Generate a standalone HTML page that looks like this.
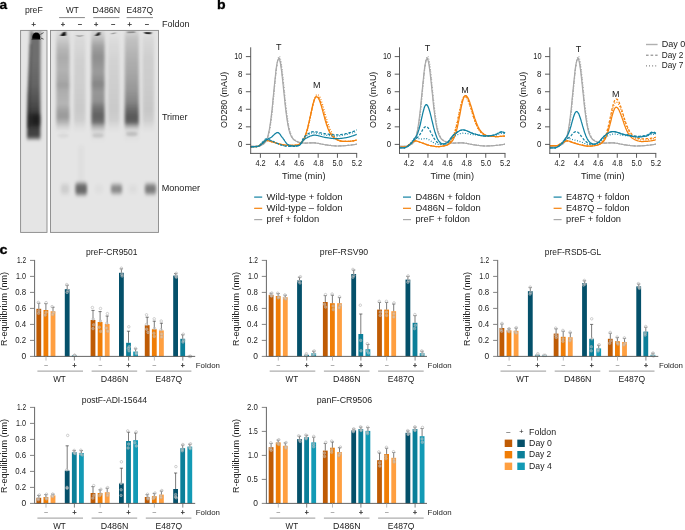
<!DOCTYPE html>
<html lang="en">
<head>
<meta charset="utf-8">
<title>Figure</title>
<style>
html,body{margin:0;padding:0;background:#fff;}
body{width:685px;height:530px;overflow:hidden;}
svg{display:block;font-family:'Liberation Sans', sans-serif;}
</style>
</head>
<body>
<svg width="685" height="530" viewBox="0 0 685 530">
<rect width="685" height="530" fill="#fff"/>
<text x="-0.5" y="9.1" font-size="13" font-weight="bold" textLength="7.6" lengthAdjust="spacingAndGlyphs" fill="#000" stroke="#000" stroke-width="0.3">a</text>
<text x="216.9" y="9.1" font-size="13" font-weight="bold" textLength="8.6" lengthAdjust="spacingAndGlyphs" fill="#000" stroke="#000" stroke-width="0.3">b</text>
<text x="-0.5" y="253.5" font-size="13" font-weight="bold" textLength="8.0" lengthAdjust="spacingAndGlyphs" fill="#000" stroke="#000" stroke-width="0.3">c</text>
<defs>
<filter id="bl" x="-40%" y="-5%" width="180%" height="110%"><feGaussianBlur stdDeviation="1.5 1.4"/></filter>
<filter id="bb" x="-50%" y="-50%" width="200%" height="200%"><feGaussianBlur stdDeviation="1.5 2.0"/></filter>
<filter id="bm" x="-50%" y="-80%" width="200%" height="260%"><feGaussianBlur stdDeviation="1.3 1.1"/></filter>
<filter id="bw" x="-40%" y="-60%" width="180%" height="220%"><feGaussianBlur stdDeviation="0.8 0.6"/></filter>
<filter id="bs" x="-40%" y="-60%" width="180%" height="220%"><feGaussianBlur stdDeviation="0.55"/></filter>
<clipPath id="cg1"><rect x="20.6" y="30.4" width="26.4" height="202"/></clipPath>
<clipPath id="cg2"><rect x="50.5" y="30.4" width="108" height="202"/></clipPath>
<linearGradient id="g_pre" x1="0" y1="0" x2="0" y2="1">
<stop offset="0.000" stop-color="#000" stop-opacity="0.50"/>
<stop offset="0.089" stop-color="#000" stop-opacity="0.52"/>
<stop offset="0.268" stop-color="#000" stop-opacity="0.52"/>
<stop offset="0.482" stop-color="#000" stop-opacity="0.56"/>
<stop offset="0.589" stop-color="#000" stop-opacity="0.62"/>
<stop offset="0.679" stop-color="#000" stop-opacity="0.68"/>
<stop offset="0.732" stop-color="#000" stop-opacity="0.74"/>
<stop offset="0.768" stop-color="#000" stop-opacity="0.82"/>
<stop offset="0.839" stop-color="#000" stop-opacity="0.82"/>
<stop offset="0.875" stop-color="#000" stop-opacity="0.74"/>
<stop offset="0.902" stop-color="#000" stop-opacity="0.72"/>
<stop offset="0.946" stop-color="#000" stop-opacity="0.70"/>
<stop offset="0.969" stop-color="#000" stop-opacity="0.40"/>
<stop offset="0.991" stop-color="#000" stop-opacity="0.00"/>
<stop offset="1.000" stop-color="#000" stop-opacity="0.00"/>
</linearGradient>
<linearGradient id="g_wtp" x1="0" y1="0" x2="0" y2="1">
<stop offset="0.000" stop-color="#000" stop-opacity="0.03"/>
<stop offset="0.071" stop-color="#000" stop-opacity="0.10"/>
<stop offset="0.161" stop-color="#000" stop-opacity="0.20"/>
<stop offset="0.241" stop-color="#000" stop-opacity="0.25"/>
<stop offset="0.357" stop-color="#000" stop-opacity="0.22"/>
<stop offset="0.446" stop-color="#000" stop-opacity="0.26"/>
<stop offset="0.491" stop-color="#000" stop-opacity="0.30"/>
<stop offset="0.545" stop-color="#000" stop-opacity="0.24"/>
<stop offset="0.661" stop-color="#000" stop-opacity="0.21"/>
<stop offset="0.723" stop-color="#000" stop-opacity="0.30"/>
<stop offset="0.777" stop-color="#000" stop-opacity="0.33"/>
<stop offset="0.821" stop-color="#000" stop-opacity="0.22"/>
<stop offset="0.866" stop-color="#000" stop-opacity="0.08"/>
<stop offset="0.911" stop-color="#000" stop-opacity="0.00"/>
<stop offset="1.000" stop-color="#000" stop-opacity="0.00"/>
</linearGradient>
<linearGradient id="g_wtm" x1="0" y1="0" x2="0" y2="1">
<stop offset="0.000" stop-color="#000" stop-opacity="0.00"/>
<stop offset="0.089" stop-color="#000" stop-opacity="0.05"/>
<stop offset="0.268" stop-color="#000" stop-opacity="0.09"/>
<stop offset="0.482" stop-color="#000" stop-opacity="0.10"/>
<stop offset="0.714" stop-color="#000" stop-opacity="0.12"/>
<stop offset="0.804" stop-color="#000" stop-opacity="0.10"/>
<stop offset="0.857" stop-color="#000" stop-opacity="0.04"/>
<stop offset="0.911" stop-color="#000" stop-opacity="0.00"/>
<stop offset="1.000" stop-color="#000" stop-opacity="0.00"/>
</linearGradient>
<linearGradient id="g_dp" x1="0" y1="0" x2="0" y2="1">
<stop offset="0.000" stop-color="#000" stop-opacity="0.05"/>
<stop offset="0.071" stop-color="#000" stop-opacity="0.16"/>
<stop offset="0.143" stop-color="#000" stop-opacity="0.30"/>
<stop offset="0.241" stop-color="#000" stop-opacity="0.38"/>
<stop offset="0.375" stop-color="#000" stop-opacity="0.32"/>
<stop offset="0.446" stop-color="#000" stop-opacity="0.38"/>
<stop offset="0.482" stop-color="#000" stop-opacity="0.42"/>
<stop offset="0.554" stop-color="#000" stop-opacity="0.34"/>
<stop offset="0.634" stop-color="#000" stop-opacity="0.36"/>
<stop offset="0.696" stop-color="#000" stop-opacity="0.50"/>
<stop offset="0.768" stop-color="#000" stop-opacity="0.58"/>
<stop offset="0.821" stop-color="#000" stop-opacity="0.52"/>
<stop offset="0.857" stop-color="#000" stop-opacity="0.26"/>
<stop offset="0.902" stop-color="#000" stop-opacity="0.06"/>
<stop offset="1.000" stop-color="#000" stop-opacity="0.00"/>
</linearGradient>
<linearGradient id="g_dm" x1="0" y1="0" x2="0" y2="1">
<stop offset="0.000" stop-color="#000" stop-opacity="0.00"/>
<stop offset="0.089" stop-color="#000" stop-opacity="0.04"/>
<stop offset="0.268" stop-color="#000" stop-opacity="0.08"/>
<stop offset="0.482" stop-color="#000" stop-opacity="0.10"/>
<stop offset="0.714" stop-color="#000" stop-opacity="0.12"/>
<stop offset="0.804" stop-color="#000" stop-opacity="0.10"/>
<stop offset="0.857" stop-color="#000" stop-opacity="0.04"/>
<stop offset="0.911" stop-color="#000" stop-opacity="0.00"/>
<stop offset="1.000" stop-color="#000" stop-opacity="0.00"/>
</linearGradient>
<linearGradient id="g_ep" x1="0" y1="0" x2="0" y2="1">
<stop offset="0.000" stop-color="#000" stop-opacity="0.05"/>
<stop offset="0.071" stop-color="#000" stop-opacity="0.15"/>
<stop offset="0.223" stop-color="#000" stop-opacity="0.22"/>
<stop offset="0.402" stop-color="#000" stop-opacity="0.28"/>
<stop offset="0.536" stop-color="#000" stop-opacity="0.34"/>
<stop offset="0.643" stop-color="#000" stop-opacity="0.42"/>
<stop offset="0.714" stop-color="#000" stop-opacity="0.54"/>
<stop offset="0.777" stop-color="#000" stop-opacity="0.62"/>
<stop offset="0.821" stop-color="#000" stop-opacity="0.58"/>
<stop offset="0.857" stop-color="#000" stop-opacity="0.26"/>
<stop offset="0.888" stop-color="#000" stop-opacity="0.06"/>
<stop offset="1.000" stop-color="#000" stop-opacity="0.00"/>
</linearGradient>
<linearGradient id="g_em" x1="0" y1="0" x2="0" y2="1">
<stop offset="0.000" stop-color="#000" stop-opacity="0.00"/>
<stop offset="0.089" stop-color="#000" stop-opacity="0.06"/>
<stop offset="0.268" stop-color="#000" stop-opacity="0.10"/>
<stop offset="0.482" stop-color="#000" stop-opacity="0.11"/>
<stop offset="0.714" stop-color="#000" stop-opacity="0.13"/>
<stop offset="0.804" stop-color="#000" stop-opacity="0.10"/>
<stop offset="0.857" stop-color="#000" stop-opacity="0.04"/>
<stop offset="0.911" stop-color="#000" stop-opacity="0.00"/>
<stop offset="1.000" stop-color="#000" stop-opacity="0.00"/>
</linearGradient>
<linearGradient id="g_bg" x1="0" y1="0" x2="0" y2="1">
<stop offset="0.000" stop-color="#000" stop-opacity="0.00"/>
<stop offset="0.450" stop-color="#000" stop-opacity="0.00"/>
<stop offset="0.620" stop-color="#000" stop-opacity="0.02"/>
<stop offset="1.000" stop-color="#000" stop-opacity="0.02"/>
</linearGradient>
</defs>
<rect x="20.6" y="30.4" width="26.4" height="202" fill="#e5e5e5"/>
<rect x="50.5" y="30.4" width="108" height="202" fill="#e5e5e5"/>
<g clip-path="url(#cg1)">
<path d="M30.2,30 L40.7,30 L40.4,90 L40.4,142 L26.9,142 L27.4,96 L28.6,70 Z" fill="url(#g_pre)" filter="url(#bl)"/>
<path d="M29.6,44 L31.8,44 L29.8,128 L27.1,128 Z" fill="#000" fill-opacity="0.2" filter="url(#bm)"/>
<rect x="32.5" y="115" width="8" height="10" fill="#000" fill-opacity="0.28" filter="url(#bb)"/>
<ellipse cx="36" cy="31.5" rx="4.5" ry="1.6" fill="#fff" fill-opacity="0.7" filter="url(#bm)"/>
<path d="M32.2,38.8 L32.4,36 L33.6,33.6 L35.6,32.6 L38,32.8 L39.6,34.4 L40.2,36.6 L40,38.9 Z" fill="#000" filter="url(#bs)"/>
<path d="M40.5,34.4 L43.6,32.6 M40.8,38 L43.6,39.2 M31.6,39.3 L40.6,39.3" stroke="#000" stroke-opacity=".75" stroke-width="0.8" fill="none" filter="url(#bs)"/>
</g>
<g clip-path="url(#cg2)">
<rect x="56.2" y="30" width="13.4" height="112" fill="url(#g_wtp)" filter="url(#bl)"/>
<rect x="73.8" y="30" width="11.6" height="112" fill="url(#g_wtm)" filter="url(#bl)"/>
<rect x="91.3" y="30" width="13.4" height="112" fill="url(#g_dp)" filter="url(#bl)"/>
<rect x="108.0" y="30" width="11.6" height="112" fill="url(#g_dm)" filter="url(#bl)"/>
<rect x="124.7" y="30" width="14.2" height="112" fill="url(#g_ep)" filter="url(#bl)"/>
<rect x="142.5" y="30" width="11.6" height="112" fill="url(#g_em)" filter="url(#bl)"/>
<ellipse cx="63.2" cy="135.6" rx="5.8" ry="2.3" fill="#000" fill-opacity="0.05" filter="url(#bm)"/>
<ellipse cx="98.0" cy="135.5" rx="5.8" ry="2.3" fill="#000" fill-opacity="0.1" filter="url(#bm)"/>
<ellipse cx="131.8" cy="134.0" rx="5.8" ry="2.3" fill="#000" fill-opacity="0.13" filter="url(#bm)"/>
<path d="M60.2,35.8 L63.2,32.2 L65.6,31.6 L66,35.6 L63,36 Z" fill="#000" fill-opacity=".95" filter="url(#bw)"/>
<path d="M76.6,35 L79,35.8 L83,35.2 L83.4,36 L79,36.8 L76.4,36 Z" fill="#000" fill-opacity=".4" filter="url(#bw)"/>
<path d="M95.0,35.8 L98.0,32.6 L100.2,32 L99.8,35 L97.2,36 Z" fill="#000" fill-opacity=".9" filter="url(#bw)"/>
<path d="M111,33.4 L115.5,32.2 L116,33.2 L111.6,34.6 Z" fill="#000" fill-opacity=".35" filter="url(#bw)"/>
<path d="M127.0,31.4 L135,31.2 L135.2,33 L127.2,33.2 Z" fill="#000" fill-opacity=".32" filter="url(#bw)"/>
<path d="M144.0,32.0 L151.6,32.2 L150.8,34.2 L145.2,34.0 Z" fill="#000" fill-opacity=".8" filter="url(#bw)"/>
<rect x="60.8" y="184.0" width="8.4" height="10.0" rx="2" fill="#000" fill-opacity="0.1" filter="url(#bb)"/>
<rect x="75.4" y="183.2" width="11.6" height="11.6" rx="2" fill="#000" fill-opacity="0.54" filter="url(#bb)"/>
<rect x="95.0" y="185.0" width="8.0" height="8.0" rx="2" fill="#000" fill-opacity="0.03" filter="url(#bb)"/>
<rect x="110.9" y="184.4" width="11.2" height="9.2" rx="2" fill="#000" fill-opacity="0.4" filter="url(#bb)"/>
<rect x="129.0" y="185.0" width="8.0" height="8.0" rx="2" fill="#000" fill-opacity="0.04" filter="url(#bb)"/>
<rect x="144.9" y="184.0" width="11.2" height="10.0" rx="2" fill="#000" fill-opacity="0.46" filter="url(#bb)"/>
<rect x="78.4" y="146" width="5.4" height="38" fill="#000" fill-opacity=".03" filter="url(#bb)"/>
</g>
<rect x="20.6" y="30.4" width="26.4" height="202" fill="none" stroke="#888" stroke-width="0.9"/>
<rect x="50.5" y="30.4" width="108" height="202" fill="none" stroke="#888" stroke-width="0.9"/>
<text x="33.8" y="13.1" font-size="8.5" text-anchor="middle" textLength="17.8" lengthAdjust="spacingAndGlyphs" fill="#222">preF</text>
<text x="72.3" y="13.1" font-size="8.6" text-anchor="middle" textLength="12.7" lengthAdjust="spacingAndGlyphs" fill="#222">WT</text>
<text x="106.4" y="13.1" font-size="8.6" text-anchor="middle" textLength="27.6" lengthAdjust="spacingAndGlyphs" fill="#222">D486N</text>
<text x="139.8" y="13.1" font-size="8.6" text-anchor="middle" textLength="26.6" lengthAdjust="spacingAndGlyphs" fill="#222">E487Q</text>
<line x1="59.10" y1="17.60" x2="84.90" y2="17.60" stroke="#555" stroke-width="0.7"/>
<line x1="93.30" y1="17.60" x2="119.40" y2="17.60" stroke="#555" stroke-width="0.7"/>
<line x1="126.60" y1="17.60" x2="153.00" y2="17.60" stroke="#555" stroke-width="0.7"/>
<text x="33.6" y="26.8" font-size="7.4" text-anchor="middle" fill="#222" stroke="#222" stroke-width="0.25">+</text>
<text x="62.8" y="26.8" font-size="7.4" text-anchor="middle" fill="#222" stroke="#222" stroke-width="0.25">+</text>
<text x="80.0" y="26.8" font-size="7.4" text-anchor="middle" fill="#222" stroke="#222" stroke-width="0.25">−</text>
<text x="96.2" y="26.8" font-size="7.4" text-anchor="middle" fill="#222" stroke="#222" stroke-width="0.25">+</text>
<text x="113.2" y="26.8" font-size="7.4" text-anchor="middle" fill="#222" stroke="#222" stroke-width="0.25">−</text>
<text x="129.6" y="26.8" font-size="7.4" text-anchor="middle" fill="#222" stroke="#222" stroke-width="0.25">+</text>
<text x="146.8" y="26.8" font-size="7.4" text-anchor="middle" fill="#222" stroke="#222" stroke-width="0.25">−</text>
<text x="162.0" y="27.0" font-size="9" textLength="27.6" lengthAdjust="spacingAndGlyphs" fill="#222">Foldon</text>
<text x="161.9" y="120.0" font-size="9.2" textLength="25.6" lengthAdjust="spacingAndGlyphs" fill="#222">Trimer</text>
<text x="161.7" y="191.2" font-size="9.2" textLength="38.4" lengthAdjust="spacingAndGlyphs" fill="#222">Monomer</text>
<path d="M250.8,146.3 L251.4,146.3 L252.1,146.3 L252.7,146.3 L253.3,146.3 L254.0,146.3 L254.6,146.3 L255.3,146.3 L255.9,146.2 L256.5,146.2 L257.2,146.2 L257.8,146.2 L258.5,146.1 L259.1,146.1 L259.8,145.9 L260.4,145.7 L261.0,145.4 L261.7,145.1 L262.3,144.7 L263.0,144.3 L263.6,143.8 L264.3,143.2 L264.9,142.5 L265.5,141.7 L266.2,140.6 L266.8,139.2 L267.5,137.4 L268.1,135.2 L268.7,132.4 L269.4,129.1 L270.0,125.1 L270.7,120.6 L271.3,115.4 L272.0,109.7 L272.6,103.5 L273.2,97.0 L273.9,90.4 L274.5,83.8 L275.2,77.5 L275.8,71.8 L276.4,66.9 L277.1,63.0 L277.7,60.3 L278.4,58.9 L279.0,58.9 L279.7,60.2 L280.3,62.8 L280.9,66.6 L281.6,71.4 L282.2,76.9 L282.9,82.9 L283.5,89.2 L284.2,95.5 L284.8,101.6 L285.4,107.4 L286.1,112.8 L286.7,117.6 L287.4,121.8 L288.0,125.4 L288.6,128.5 L289.3,131.1 L289.9,133.2 L290.6,134.9 L291.2,136.3 L291.9,137.4 L292.5,138.3 L293.1,139.1 L293.8,139.7 L294.4,140.2 L295.1,140.6 L295.7,141.0 L296.4,141.3 L297.0,141.6 L297.6,141.9 L298.3,142.1 L298.9,142.3 L299.6,142.5 L300.2,142.6 L300.8,142.8 L301.5,142.9 L302.1,142.9 L302.8,143.0 L303.4,143.0 L304.1,143.1 L304.7,143.1 L305.3,143.1 L306.0,143.1 L306.6,143.1 L307.3,143.0 L307.9,143.0 L308.5,143.0 L309.2,143.0 L309.8,142.9 L310.5,142.9 L311.1,142.9 L311.8,142.9 L312.4,142.9 L313.0,142.9 L313.7,142.9 L314.3,142.9 L315.0,142.9 L315.6,143.0 L316.3,143.1 L316.9,143.2 L317.5,143.3 L318.2,143.4 L318.8,143.5 L319.5,143.6 L320.1,143.8 L320.7,143.9 L321.4,144.0 L322.0,144.2 L322.7,144.3 L323.3,144.4 L324.0,144.5 L324.6,144.7 L325.2,144.8 L325.9,144.8 L326.5,144.9 L327.2,145.0 L327.8,145.1 L328.5,145.2 L329.1,145.3 L329.7,145.3 L330.4,145.4 L331.0,145.5 L331.7,145.6 L332.3,145.7 L332.9,145.7 L333.6,145.8 L334.2,145.8 L334.9,145.9 L335.5,145.9 L336.2,146.0 L336.8,146.0 L337.4,146.0 L338.1,146.0 L338.7,146.0 L339.4,145.9 L340.0,145.9 L340.6,145.9 L341.3,145.9 L341.9,145.8 L342.6,145.8 L343.2,145.7 L343.9,145.7 L344.5,145.7 L345.1,145.6 L345.8,145.6 L346.4,145.5 L347.1,145.5 L347.7,145.4 L348.4,145.3 L349.0,145.3 L349.6,145.2 L350.3,145.1 L350.9,145.0 L351.6,145.0 L352.2,144.9 L352.8,144.8 L353.5,144.7 L354.1,144.6 L354.8,144.5 L355.4,144.4 L356.1,144.2 L356.7,144.1" fill="none" stroke="#a9a9a9" stroke-width="1.15" stroke-linejoin="round"/>
<path d="M250.8,146.3 L251.4,146.3 L252.1,146.3 L252.7,146.3 L253.3,146.3 L254.0,146.3 L254.6,146.3 L255.3,146.3 L255.9,146.2 L256.5,146.2 L257.2,146.2 L257.8,146.2 L258.5,146.1 L259.1,146.1 L259.8,145.9 L260.4,145.7 L261.0,145.4 L261.7,145.1 L262.3,144.8 L263.0,144.4 L263.6,143.9 L264.3,143.4 L264.9,142.8 L265.5,142.1 L266.2,141.1 L266.8,139.8 L267.5,138.2 L268.1,136.2 L268.7,133.6 L269.4,130.5 L270.0,126.8 L270.7,122.5 L271.3,117.6 L272.0,112.1 L272.6,106.0 L273.2,99.6 L273.9,92.9 L274.5,86.3 L275.2,79.8 L275.8,73.7 L276.4,68.4 L277.1,64.0 L277.7,60.7 L278.4,58.6 L279.0,58.0 L279.7,58.7 L280.3,60.8 L280.9,64.1 L281.6,68.5 L282.2,73.8 L282.9,79.6 L283.5,85.9 L284.2,92.2 L284.8,98.5 L285.4,104.5 L286.1,110.1 L286.7,115.2 L287.4,119.7 L288.0,123.7 L288.6,127.0 L289.3,129.9 L289.9,132.2 L290.6,134.1 L291.2,135.7 L291.9,136.9 L292.5,137.9 L293.1,138.7 L293.8,139.4 L294.4,139.9 L295.1,140.4 L295.7,140.8 L296.4,141.2 L297.0,141.5 L297.6,141.7 L298.3,142.0 L298.9,142.2 L299.6,142.4 L300.2,142.5 L300.8,142.7 L301.5,142.8 L302.1,142.9 L302.8,142.9 L303.4,143.0 L304.1,143.0 L304.7,143.0 L305.3,143.1 L306.0,143.1 L306.6,143.0 L307.3,143.0 L307.9,143.0 L308.5,143.0 L309.2,142.9 L309.8,142.9 L310.5,142.9 L311.1,142.9 L311.8,142.9 L312.4,142.8 L313.0,142.9 L313.7,142.9 L314.3,142.9 L315.0,142.9 L315.6,143.0 L316.3,143.1 L316.9,143.2 L317.5,143.3 L318.2,143.4 L318.8,143.5 L319.5,143.6 L320.1,143.8 L320.7,143.9 L321.4,144.0 L322.0,144.2 L322.7,144.3 L323.3,144.4 L324.0,144.5 L324.6,144.7 L325.2,144.8 L325.9,144.8 L326.5,144.9 L327.2,145.0 L327.8,145.1 L328.5,145.2 L329.1,145.3 L329.7,145.3 L330.4,145.4 L331.0,145.5 L331.7,145.6 L332.3,145.7 L332.9,145.7 L333.6,145.8 L334.2,145.8 L334.9,145.9 L335.5,145.9 L336.2,146.0 L336.8,146.0 L337.4,146.0 L338.1,146.0 L338.7,146.0 L339.4,145.9 L340.0,145.9 L340.6,145.9 L341.3,145.9 L341.9,145.8 L342.6,145.8 L343.2,145.7 L343.9,145.7 L344.5,145.7 L345.1,145.6 L345.8,145.6 L346.4,145.5 L347.1,145.5 L347.7,145.4 L348.4,145.3 L349.0,145.3 L349.6,145.2 L350.3,145.1 L350.9,145.0 L351.6,145.0 L352.2,144.9 L352.8,144.8 L353.5,144.7 L354.1,144.6 L354.8,144.5 L355.4,144.4 L356.1,144.2 L356.7,144.1" fill="none" stroke="#a9a9a9" stroke-width="1.15" stroke-linejoin="round" stroke-dasharray="2.6 1.6"/>
<path d="M250.8,146.3 L251.4,146.3 L252.1,146.3 L252.7,146.3 L253.3,146.3 L254.0,146.3 L254.6,146.3 L255.3,146.3 L255.9,146.2 L256.5,146.2 L257.2,146.2 L257.8,146.2 L258.5,146.1 L259.1,146.1 L259.8,145.9 L260.4,145.7 L261.0,145.5 L261.7,145.2 L262.3,144.8 L263.0,144.4 L263.6,144.0 L264.3,143.5 L264.9,143.0 L265.5,142.4 L266.2,141.5 L266.8,140.4 L267.5,138.9 L268.1,137.0 L268.7,134.6 L269.4,131.7 L270.0,128.3 L270.7,124.1 L271.3,119.4 L272.0,114.0 L272.6,108.1 L273.2,101.7 L273.9,95.0 L274.5,88.1 L275.2,81.4 L275.8,75.0 L276.4,69.2 L277.1,64.2 L277.7,60.3 L278.4,57.6 L279.0,56.3 L279.7,56.5 L280.3,58.0 L280.9,60.8 L281.6,64.9 L282.2,69.8 L282.9,75.6 L283.5,81.8 L284.2,88.3 L284.8,94.7 L285.4,101.0 L286.1,106.9 L286.7,112.4 L287.4,117.3 L288.0,121.5 L288.6,125.2 L289.3,128.3 L289.9,130.9 L290.6,133.1 L291.2,134.8 L291.9,136.2 L292.5,137.4 L293.1,138.3 L293.8,139.0 L294.4,139.6 L295.1,140.1 L295.7,140.6 L296.4,140.9 L297.0,141.3 L297.6,141.6 L298.3,141.8 L298.9,142.1 L299.6,142.3 L300.2,142.4 L300.8,142.6 L301.5,142.7 L302.1,142.8 L302.8,142.9 L303.4,142.9 L304.1,143.0 L304.7,143.0 L305.3,143.0 L306.0,143.0 L306.6,143.0 L307.3,143.0 L307.9,143.0 L308.5,142.9 L309.2,142.9 L309.8,142.9 L310.5,142.9 L311.1,142.9 L311.8,142.8 L312.4,142.8 L313.0,142.8 L313.7,142.9 L314.3,142.9 L315.0,142.9 L315.6,143.0 L316.3,143.1 L316.9,143.2 L317.5,143.3 L318.2,143.4 L318.8,143.5 L319.5,143.6 L320.1,143.8 L320.7,143.9 L321.4,144.0 L322.0,144.2 L322.7,144.3 L323.3,144.4 L324.0,144.5 L324.6,144.7 L325.2,144.8 L325.9,144.8 L326.5,144.9 L327.2,145.0 L327.8,145.1 L328.5,145.2 L329.1,145.3 L329.7,145.3 L330.4,145.4 L331.0,145.5 L331.7,145.6 L332.3,145.7 L332.9,145.7 L333.6,145.8 L334.2,145.8 L334.9,145.9 L335.5,145.9 L336.2,146.0 L336.8,146.0 L337.4,146.0 L338.1,146.0 L338.7,146.0 L339.4,145.9 L340.0,145.9 L340.6,145.9 L341.3,145.9 L341.9,145.8 L342.6,145.8 L343.2,145.7 L343.9,145.7 L344.5,145.7 L345.1,145.6 L345.8,145.6 L346.4,145.5 L347.1,145.5 L347.7,145.4 L348.4,145.3 L349.0,145.3 L349.6,145.2 L350.3,145.1 L350.9,145.0 L351.6,145.0 L352.2,144.9 L352.8,144.8 L353.5,144.7 L354.1,144.6 L354.8,144.5 L355.4,144.4 L356.1,144.2 L356.7,144.1" fill="none" stroke="#a9a9a9" stroke-width="1.15" stroke-linejoin="round" stroke-dasharray="0.9 1.7"/>
<path d="M250.8,146.7 L251.4,146.7 L252.1,146.7 L252.7,146.7 L253.3,146.6 L254.0,146.6 L254.6,146.6 L255.3,146.6 L255.9,146.5 L256.5,146.5 L257.2,146.4 L257.8,146.4 L258.5,146.2 L259.1,145.8 L259.8,145.4 L260.4,144.9 L261.0,144.3 L261.7,143.8 L262.3,143.3 L263.0,142.8 L263.6,142.2 L264.3,141.6 L264.9,141.0 L265.5,140.6 L266.2,140.4 L266.8,140.5 L267.5,140.6 L268.1,140.7 L268.7,140.8 L269.4,141.0 L270.0,141.2 L270.7,141.4 L271.3,141.6 L272.0,141.8 L272.6,141.9 L273.2,142.1 L273.9,142.3 L274.5,142.5 L275.2,142.7 L275.8,142.9 L276.4,143.1 L277.1,143.3 L277.7,143.5 L278.4,143.6 L279.0,143.8 L279.7,144.0 L280.3,144.1 L280.9,144.3 L281.6,144.4 L282.2,144.5 L282.9,144.6 L283.5,144.8 L284.2,144.9 L284.8,145.0 L285.4,145.1 L286.1,145.2 L286.7,145.3 L287.4,145.4 L288.0,145.4 L288.6,145.4 L289.3,145.5 L289.9,145.4 L290.6,145.4 L291.2,145.4 L291.9,145.4 L292.5,145.4 L293.1,145.4 L293.8,145.4 L294.4,145.3 L295.1,145.3 L295.7,145.2 L296.4,145.1 L297.0,145.1 L297.6,144.9 L298.3,144.7 L298.9,144.4 L299.6,144.0 L300.2,143.6 L300.8,143.0 L301.5,142.4 L302.1,141.6 L302.8,140.7 L303.4,139.6 L304.1,138.4 L304.7,137.0 L305.3,135.4 L306.0,133.6 L306.6,131.5 L307.3,129.3 L307.9,126.8 L308.5,124.1 L309.2,121.3 L309.8,118.3 L310.5,115.3 L311.1,112.3 L311.8,109.3 L312.4,106.5 L313.0,104.0 L313.7,101.7 L314.3,99.8 L315.0,98.3 L315.6,97.3 L316.3,96.8 L316.9,96.8 L317.5,97.2 L318.2,97.9 L318.8,99.0 L319.5,100.4 L320.1,102.1 L320.7,104.0 L321.4,106.1 L322.0,108.4 L322.7,110.8 L323.3,113.2 L324.0,115.6 L324.6,117.9 L325.2,120.2 L325.9,122.4 L326.5,124.5 L327.2,126.4 L327.8,128.2 L328.5,129.8 L329.1,131.2 L329.7,132.5 L330.4,133.7 L331.0,134.7 L331.7,135.5 L332.3,136.3 L332.9,136.9 L333.6,137.5 L334.2,138.0 L334.9,138.5 L335.5,138.9 L336.2,139.3 L336.8,139.7 L337.4,140.0 L338.1,140.3 L338.7,140.5 L339.4,140.8 L340.0,140.9 L340.6,141.1 L341.3,141.2 L341.9,141.3 L342.6,141.3 L343.2,141.3 L343.9,141.3 L344.5,141.3 L345.1,141.3 L345.8,141.3 L346.4,141.3 L347.1,141.3 L347.7,141.3 L348.4,141.3 L349.0,141.3 L349.6,141.3 L350.3,141.3 L350.9,141.2 L351.6,141.1 L352.2,141.0 L352.8,140.9 L353.5,140.8 L354.1,140.7 L354.8,140.5 L355.4,140.3 L356.1,140.2 L356.7,140.0" fill="none" stroke="#f5820d" stroke-width="1.25" stroke-linejoin="round"/>
<path d="M250.8,146.7 L251.4,146.7 L252.1,146.7 L252.7,146.7 L253.3,146.6 L254.0,146.6 L254.6,146.6 L255.3,146.6 L255.9,146.5 L256.5,146.5 L257.2,146.4 L257.8,146.4 L258.5,146.2 L259.1,145.8 L259.8,145.4 L260.4,144.9 L261.0,144.3 L261.7,143.8 L262.3,143.3 L263.0,142.8 L263.6,142.2 L264.3,141.6 L264.9,141.0 L265.5,140.6 L266.2,140.4 L266.8,140.5 L267.5,140.6 L268.1,140.7 L268.7,140.8 L269.4,141.0 L270.0,141.2 L270.7,141.4 L271.3,141.6 L272.0,141.8 L272.6,141.9 L273.2,142.1 L273.9,142.3 L274.5,142.5 L275.2,142.7 L275.8,142.9 L276.4,143.1 L277.1,143.3 L277.7,143.5 L278.4,143.6 L279.0,143.8 L279.7,144.0 L280.3,144.1 L280.9,144.3 L281.6,144.4 L282.2,144.5 L282.9,144.6 L283.5,144.8 L284.2,144.9 L284.8,145.0 L285.4,145.1 L286.1,145.2 L286.7,145.3 L287.4,145.4 L288.0,145.4 L288.6,145.4 L289.3,145.5 L289.9,145.5 L290.6,145.4 L291.2,145.4 L291.9,145.4 L292.5,145.4 L293.1,145.4 L293.8,145.4 L294.4,145.3 L295.1,145.3 L295.7,145.2 L296.4,145.2 L297.0,145.1 L297.6,144.9 L298.3,144.7 L298.9,144.5 L299.6,144.1 L300.2,143.7 L300.8,143.1 L301.5,142.5 L302.1,141.8 L302.8,140.9 L303.4,139.9 L304.1,138.7 L304.7,137.3 L305.3,135.8 L306.0,134.0 L306.6,132.0 L307.3,129.8 L307.9,127.4 L308.5,124.7 L309.2,121.9 L309.8,118.9 L310.5,115.9 L311.1,112.9 L311.8,109.9 L312.4,107.0 L313.0,104.3 L313.7,101.9 L314.3,99.9 L315.0,98.3 L315.6,97.1 L316.3,96.5 L316.9,96.3 L317.5,96.6 L318.2,97.2 L318.8,98.1 L319.5,99.4 L320.1,100.9 L320.7,102.7 L321.4,104.7 L322.0,106.8 L322.7,109.1 L323.3,111.4 L324.0,113.8 L324.6,116.1 L325.2,118.4 L325.9,120.6 L326.5,122.8 L327.2,124.8 L327.8,126.6 L328.5,128.3 L329.1,129.9 L329.7,131.3 L330.4,132.6 L331.0,133.7 L331.7,134.6 L332.3,135.5 L332.9,136.2 L333.6,136.9 L334.2,137.5 L334.9,138.1 L335.5,138.6 L336.2,139.0 L336.8,139.4 L337.4,139.8 L338.1,140.1 L338.7,140.4 L339.4,140.7 L340.0,140.9 L340.6,141.0 L341.3,141.2 L341.9,141.2 L342.6,141.3 L343.2,141.3 L343.9,141.3 L344.5,141.3 L345.1,141.3 L345.8,141.3 L346.4,141.3 L347.1,141.3 L347.7,141.3 L348.4,141.3 L349.0,141.3 L349.6,141.3 L350.3,141.3 L350.9,141.2 L351.6,141.1 L352.2,141.0 L352.8,140.9 L353.5,140.8 L354.1,140.7 L354.8,140.5 L355.4,140.3 L356.1,140.2 L356.7,140.0" fill="none" stroke="#f5820d" stroke-width="1.25" stroke-linejoin="round" stroke-dasharray="2.6 1.6"/>
<path d="M250.8,146.7 L251.4,146.7 L252.1,146.7 L252.7,146.7 L253.3,146.6 L254.0,146.6 L254.6,146.6 L255.3,146.6 L255.9,146.5 L256.5,146.5 L257.2,146.4 L257.8,146.4 L258.5,146.2 L259.1,145.8 L259.8,145.4 L260.4,144.9 L261.0,144.3 L261.7,143.8 L262.3,143.3 L263.0,142.8 L263.6,142.2 L264.3,141.6 L264.9,141.0 L265.5,140.6 L266.2,140.4 L266.8,140.5 L267.5,140.6 L268.1,140.7 L268.7,140.8 L269.4,141.0 L270.0,141.2 L270.7,141.4 L271.3,141.6 L272.0,141.8 L272.6,141.9 L273.2,142.1 L273.9,142.3 L274.5,142.5 L275.2,142.7 L275.8,142.9 L276.4,143.1 L277.1,143.3 L277.7,143.5 L278.4,143.6 L279.0,143.8 L279.7,144.0 L280.3,144.1 L280.9,144.3 L281.6,144.4 L282.2,144.5 L282.9,144.6 L283.5,144.8 L284.2,144.9 L284.8,145.0 L285.4,145.1 L286.1,145.2 L286.7,145.3 L287.4,145.4 L288.0,145.4 L288.6,145.4 L289.3,145.5 L289.9,145.5 L290.6,145.4 L291.2,145.4 L291.9,145.4 L292.5,145.4 L293.1,145.4 L293.8,145.4 L294.4,145.3 L295.1,145.3 L295.7,145.3 L296.4,145.2 L297.0,145.1 L297.6,145.0 L298.3,144.8 L298.9,144.6 L299.6,144.2 L300.2,143.8 L300.8,143.4 L301.5,142.8 L302.1,142.1 L302.8,141.3 L303.4,140.4 L304.1,139.3 L304.7,138.1 L305.3,136.6 L306.0,135.0 L306.6,133.1 L307.3,131.0 L307.9,128.6 L308.5,126.0 L309.2,123.2 L309.8,120.3 L310.5,117.2 L311.1,114.0 L311.8,110.9 L312.4,107.8 L313.0,104.9 L313.7,102.1 L314.3,99.8 L315.0,97.7 L315.6,96.2 L316.3,95.1 L316.9,94.6 L317.5,94.5 L318.2,94.8 L318.8,95.5 L319.5,96.4 L320.1,97.6 L320.7,99.1 L321.4,100.9 L322.0,102.8 L322.7,104.9 L323.3,107.1 L324.0,109.4 L324.6,111.7 L325.2,114.0 L325.9,116.3 L326.5,118.6 L327.2,120.7 L327.8,122.8 L328.5,124.7 L329.1,126.5 L329.7,128.2 L330.4,129.7 L331.0,131.1 L331.7,132.3 L332.3,133.4 L332.9,134.4 L333.6,135.3 L334.2,136.2 L334.9,136.9 L335.5,137.6 L336.2,138.2 L336.8,138.7 L337.4,139.2 L338.1,139.7 L338.7,140.0 L339.4,140.4 L340.0,140.6 L340.6,140.8 L341.3,141.0 L341.9,141.1 L342.6,141.2 L343.2,141.2 L343.9,141.2 L344.5,141.3 L345.1,141.3 L345.8,141.3 L346.4,141.3 L347.1,141.3 L347.7,141.3 L348.4,141.3 L349.0,141.3 L349.6,141.3 L350.3,141.3 L350.9,141.2 L351.6,141.1 L352.2,141.0 L352.8,140.9 L353.5,140.8 L354.1,140.7 L354.8,140.5 L355.4,140.3 L356.1,140.2 L356.7,140.0" fill="none" stroke="#f5820d" stroke-width="1.25" stroke-linejoin="round" stroke-dasharray="0.9 1.7"/>
<path d="M250.8,146.6 L251.4,146.6 L252.1,146.6 L252.7,146.6 L253.3,146.6 L254.0,146.5 L254.6,146.5 L255.3,146.5 L255.9,146.4 L256.5,146.4 L257.2,146.4 L257.8,146.3 L258.5,146.1 L259.1,145.8 L259.8,145.4 L260.4,144.9 L261.0,144.5 L261.7,144.0 L262.3,143.5 L263.0,143.1 L263.6,142.5 L264.3,142.0 L264.9,141.4 L265.5,140.8 L266.2,140.3 L266.8,139.8 L267.5,139.4 L268.1,139.0 L268.7,138.6 L269.4,138.3 L270.0,137.9 L270.7,137.6 L271.3,137.2 L272.0,136.7 L272.6,136.1 L273.2,135.5 L273.9,134.9 L274.5,134.3 L275.2,133.7 L275.8,133.3 L276.4,132.9 L277.1,132.6 L277.7,132.5 L278.4,132.7 L279.0,133.2 L279.7,133.9 L280.3,134.7 L280.9,135.6 L281.6,136.6 L282.2,137.4 L282.9,138.2 L283.5,139.1 L284.2,140.0 L284.8,141.0 L285.4,141.9 L286.1,142.8 L286.7,143.6 L287.4,144.2 L288.0,144.7 L288.6,144.9 L289.3,145.2 L289.9,145.3 L290.6,145.5 L291.2,145.7 L291.9,145.8 L292.5,145.9 L293.1,145.9 L293.8,146.0 L294.4,146.0 L295.1,146.0 L295.7,145.9 L296.4,145.9 L297.0,145.8 L297.6,145.7 L298.3,145.6 L298.9,145.5 L299.6,145.2 L300.2,144.6 L300.8,143.9 L301.5,143.1 L302.1,142.1 L302.8,141.2 L303.4,140.4 L304.1,139.7 L304.7,139.1 L305.3,138.7 L306.0,138.3 L306.6,138.0 L307.3,137.6 L307.9,137.2 L308.5,136.9 L309.2,136.6 L309.8,136.3 L310.5,136.0 L311.1,135.8 L311.8,135.6 L312.4,135.4 L313.0,135.3 L313.7,135.2 L314.3,135.2 L315.0,135.2 L315.6,135.2 L316.3,135.3 L316.9,135.4 L317.5,135.5 L318.2,135.7 L318.8,135.8 L319.5,136.0 L320.1,136.2 L320.7,136.3 L321.4,136.5 L322.0,136.7 L322.7,136.9 L323.3,137.0 L324.0,137.2 L324.6,137.3 L325.2,137.4 L325.9,137.6 L326.5,137.6 L327.2,137.7 L327.8,137.8 L328.5,137.9 L329.1,138.0 L329.7,138.1 L330.4,138.2 L331.0,138.3 L331.7,138.4 L332.3,138.4 L332.9,138.5 L333.6,138.6 L334.2,138.6 L334.9,138.7 L335.5,138.7 L336.2,138.7 L336.8,138.7 L337.4,138.7 L338.1,138.6 L338.7,138.6 L339.4,138.6 L340.0,138.5 L340.6,138.4 L341.3,138.4 L341.9,138.3 L342.6,138.2 L343.2,138.1 L343.9,138.0 L344.5,137.9 L345.1,137.8 L345.8,137.7 L346.4,137.6 L347.1,137.5 L347.7,137.3 L348.4,137.2 L349.0,137.0 L349.6,136.8 L350.3,136.6 L350.9,136.5 L351.6,136.2 L352.2,136.0 L352.8,135.8 L353.5,135.6 L354.1,135.3 L354.8,135.1 L355.4,134.8 L356.1,134.6 L356.7,134.3" fill="none" stroke="#1282a2" stroke-width="1.25" stroke-linejoin="round"/>
<path d="M250.8,146.9 L251.4,146.9 L252.1,146.8 L252.7,146.8 L253.3,146.8 L254.0,146.8 L254.6,146.8 L255.3,146.7 L255.9,146.7 L256.5,146.7 L257.2,146.6 L257.8,146.5 L258.5,146.2 L259.1,145.7 L259.8,145.1 L260.4,144.3 L261.0,143.6 L261.7,142.8 L262.3,142.2 L263.0,141.6 L263.6,140.9 L264.3,140.2 L264.9,139.5 L265.5,139.1 L266.2,139.0 L266.8,139.0 L267.5,139.1 L268.1,139.3 L268.7,139.5 L269.4,139.8 L270.0,140.1 L270.7,140.3 L271.3,140.6 L272.0,140.9 L272.6,141.1 L273.2,141.4 L273.9,141.7 L274.5,142.0 L275.2,142.4 L275.8,142.7 L276.4,143.0 L277.1,143.3 L277.7,143.6 L278.4,143.9 L279.0,144.2 L279.7,144.4 L280.3,144.6 L280.9,144.8 L281.6,145.1 L282.2,145.3 L282.9,145.5 L283.5,145.7 L284.2,145.8 L284.8,146.0 L285.4,146.1 L286.1,146.1 L286.7,146.2 L287.4,146.2 L288.0,146.2 L288.6,146.2 L289.3,146.3 L289.9,146.3 L290.6,146.3 L291.2,146.3 L291.9,146.3 L292.5,146.3 L293.1,146.3 L293.8,146.3 L294.4,146.3 L295.1,146.3 L295.7,146.2 L296.4,146.1 L297.0,146.0 L297.6,145.8 L298.3,145.6 L298.9,145.5 L299.6,145.0 L300.2,144.3 L300.8,143.2 L301.5,142.0 L302.1,140.7 L302.8,139.4 L303.4,138.2 L304.1,137.2 L304.7,136.5 L305.3,136.0 L306.0,135.4 L306.6,134.9 L307.3,134.4 L307.9,133.9 L308.5,133.5 L309.2,133.1 L309.8,132.7 L310.5,132.4 L311.1,132.1 L311.8,131.9 L312.4,131.8 L313.0,131.7 L313.7,131.7 L314.3,131.7 L315.0,131.7 L315.6,131.8 L316.3,131.9 L316.9,132.0 L317.5,132.1 L318.2,132.2 L318.8,132.4 L319.5,132.5 L320.1,132.7 L320.7,132.8 L321.4,133.0 L322.0,133.1 L322.7,133.3 L323.3,133.4 L324.0,133.6 L324.6,133.7 L325.2,133.8 L325.9,133.9 L326.5,133.9 L327.2,134.0 L327.8,134.1 L328.5,134.2 L329.1,134.3 L329.7,134.4 L330.4,134.5 L331.0,134.5 L331.7,134.6 L332.3,134.7 L332.9,134.7 L333.6,134.8 L334.2,134.8 L334.9,134.9 L335.5,134.9 L336.2,134.9 L336.8,134.9 L337.4,134.9 L338.1,134.9 L338.7,134.8 L339.4,134.8 L340.0,134.7 L340.6,134.6 L341.3,134.5 L341.9,134.4 L342.6,134.3 L343.2,134.2 L343.9,134.1 L344.5,134.0 L345.1,133.9 L345.8,133.7 L346.4,133.6 L347.1,133.5 L347.7,133.3 L348.4,133.1 L349.0,132.9 L349.6,132.7 L350.3,132.5 L350.9,132.3 L351.6,132.1 L352.2,131.8 L352.8,131.6 L353.5,131.3 L354.1,131.1 L354.8,130.8 L355.4,130.5 L356.1,130.2 L356.7,129.9" fill="none" stroke="#1282a2" stroke-width="1.25" stroke-linejoin="round" stroke-dasharray="2.6 1.6"/>
<path d="M250.8,147.0 L251.4,147.0 L252.1,147.0 L252.7,147.0 L253.3,147.0 L254.0,147.0 L254.6,146.9 L255.3,146.9 L255.9,146.9 L256.5,146.8 L257.2,146.8 L257.8,146.7 L258.5,146.4 L259.1,146.0 L259.8,145.3 L260.4,144.7 L261.0,143.9 L261.7,143.3 L262.3,142.6 L263.0,142.0 L263.6,141.3 L264.3,140.6 L264.9,139.9 L265.5,139.5 L266.2,139.3 L266.8,139.3 L267.5,139.5 L268.1,139.6 L268.7,139.8 L269.4,140.1 L270.0,140.3 L270.7,140.6 L271.3,140.8 L272.0,141.1 L272.6,141.3 L273.2,141.6 L273.9,141.9 L274.5,142.1 L275.2,142.5 L275.8,142.8 L276.4,143.1 L277.1,143.4 L277.7,143.7 L278.4,143.9 L279.0,144.2 L279.7,144.4 L280.3,144.6 L280.9,144.8 L281.6,145.0 L282.2,145.3 L282.9,145.5 L283.5,145.7 L284.2,145.8 L284.8,146.0 L285.4,146.1 L286.1,146.1 L286.7,146.2 L287.4,146.2 L288.0,146.2 L288.6,146.2 L289.3,146.3 L289.9,146.3 L290.6,146.3 L291.2,146.3 L291.9,146.3 L292.5,146.3 L293.1,146.3 L293.8,146.3 L294.4,146.3 L295.1,146.3 L295.7,146.2 L296.4,146.1 L297.0,146.0 L297.6,145.8 L298.3,145.6 L298.9,145.5 L299.6,145.1 L300.2,144.4 L300.8,143.4 L301.5,142.3 L302.1,141.2 L302.8,140.0 L303.4,138.9 L304.1,138.0 L304.7,137.4 L305.3,136.9 L306.0,136.4 L306.6,135.9 L307.3,135.4 L307.9,135.0 L308.5,134.5 L309.2,134.1 L309.8,133.8 L310.5,133.5 L311.1,133.2 L311.8,133.0 L312.4,132.9 L313.0,132.8 L313.7,132.8 L314.3,132.8 L315.0,132.9 L315.6,133.0 L316.3,133.1 L316.9,133.2 L317.5,133.3 L318.2,133.5 L318.8,133.6 L319.5,133.8 L320.1,133.9 L320.7,134.1 L321.4,134.3 L322.0,134.4 L322.7,134.6 L323.3,134.7 L324.0,134.9 L324.6,135.0 L325.2,135.1 L325.9,135.2 L326.5,135.3 L327.2,135.3 L327.8,135.4 L328.5,135.5 L329.1,135.6 L329.7,135.6 L330.4,135.7 L331.0,135.8 L331.7,135.8 L332.3,135.9 L332.9,135.9 L333.6,136.0 L334.2,136.0 L334.9,136.0 L335.5,136.0 L336.2,136.1 L336.8,136.1 L337.4,136.0 L338.1,136.0 L338.7,135.9 L339.4,135.8 L340.0,135.8 L340.6,135.6 L341.3,135.5 L341.9,135.4 L342.6,135.3 L343.2,135.1 L343.9,135.0 L344.5,134.9 L345.1,134.7 L345.8,134.6 L346.4,134.5 L347.1,134.3 L347.7,134.2 L348.4,134.0 L349.0,133.8 L349.6,133.6 L350.3,133.5 L350.9,133.3 L351.6,133.1 L352.2,132.9 L352.8,132.6 L353.5,132.4 L354.1,132.2 L354.8,132.0 L355.4,131.7 L356.1,131.5 L356.7,131.2" fill="none" stroke="#1282a2" stroke-width="1.25" stroke-linejoin="round" stroke-dasharray="0.9 1.7"/>
<line x1="250.70" y1="47.30" x2="250.70" y2="153.80" stroke="#4a4a4a" stroke-width="0.9"/>
<line x1="250.25" y1="153.40" x2="357.15" y2="153.40" stroke="#4a4a4a" stroke-width="0.9"/>
<line x1="245.90" y1="144.40" x2="250.70" y2="144.40" stroke="#4a4a4a" stroke-width="0.9"/>
<text x="242.4" y="146.7" font-size="8.2" text-anchor="end" textLength="4.4" lengthAdjust="spacingAndGlyphs" fill="#222">0</text>
<line x1="245.90" y1="126.84" x2="250.70" y2="126.84" stroke="#4a4a4a" stroke-width="0.9"/>
<text x="242.4" y="129.1" font-size="8.2" text-anchor="end" textLength="4.4" lengthAdjust="spacingAndGlyphs" fill="#222">2</text>
<line x1="245.90" y1="109.28" x2="250.70" y2="109.28" stroke="#4a4a4a" stroke-width="0.9"/>
<text x="242.4" y="111.6" font-size="8.2" text-anchor="end" textLength="4.4" lengthAdjust="spacingAndGlyphs" fill="#222">4</text>
<line x1="245.90" y1="91.72" x2="250.70" y2="91.72" stroke="#4a4a4a" stroke-width="0.9"/>
<text x="242.4" y="94.0" font-size="8.2" text-anchor="end" textLength="4.4" lengthAdjust="spacingAndGlyphs" fill="#222">6</text>
<line x1="245.90" y1="74.16" x2="250.70" y2="74.16" stroke="#4a4a4a" stroke-width="0.9"/>
<text x="242.4" y="76.5" font-size="8.2" text-anchor="end" textLength="4.4" lengthAdjust="spacingAndGlyphs" fill="#222">8</text>
<line x1="245.90" y1="56.60" x2="250.70" y2="56.60" stroke="#4a4a4a" stroke-width="0.9"/>
<text x="242.4" y="58.9" font-size="8.2" text-anchor="end" textLength="8.2" lengthAdjust="spacingAndGlyphs" fill="#222">10</text>
<line x1="260.40" y1="153.40" x2="260.40" y2="157.80" stroke="#4a4a4a" stroke-width="0.9"/>
<text x="260.6" y="166.4" font-size="8.6" text-anchor="middle" textLength="10.3" lengthAdjust="spacingAndGlyphs" fill="#222">4.2</text>
<line x1="279.66" y1="153.40" x2="279.66" y2="157.80" stroke="#4a4a4a" stroke-width="0.9"/>
<text x="279.9" y="166.4" font-size="8.6" text-anchor="middle" textLength="10.3" lengthAdjust="spacingAndGlyphs" fill="#222">4.4</text>
<line x1="298.92" y1="153.40" x2="298.92" y2="157.80" stroke="#4a4a4a" stroke-width="0.9"/>
<text x="299.1" y="166.4" font-size="8.6" text-anchor="middle" textLength="10.3" lengthAdjust="spacingAndGlyphs" fill="#222">4.6</text>
<line x1="318.18" y1="153.40" x2="318.18" y2="157.80" stroke="#4a4a4a" stroke-width="0.9"/>
<text x="318.4" y="166.4" font-size="8.6" text-anchor="middle" textLength="10.3" lengthAdjust="spacingAndGlyphs" fill="#222">4.8</text>
<line x1="337.44" y1="153.40" x2="337.44" y2="157.80" stroke="#4a4a4a" stroke-width="0.9"/>
<text x="337.6" y="166.4" font-size="8.6" text-anchor="middle" textLength="10.3" lengthAdjust="spacingAndGlyphs" fill="#222">5.0</text>
<line x1="356.70" y1="153.40" x2="356.70" y2="157.80" stroke="#4a4a4a" stroke-width="0.9"/>
<text x="356.9" y="166.4" font-size="8.6" text-anchor="middle" textLength="10.3" lengthAdjust="spacingAndGlyphs" fill="#222">5.2</text>
<text x="303.7" y="178.8" font-size="9" text-anchor="middle" textLength="43.6" lengthAdjust="spacingAndGlyphs" fill="#222">Time (min)</text>
<text x="226.8" y="99.8" font-size="9" text-anchor="middle" textLength="56.2" lengthAdjust="spacingAndGlyphs" transform="rotate(-90 226.8 99.8)" fill="#222">OD280 (mAU)</text>
<text x="278.7" y="49.9" font-size="9" text-anchor="middle" fill="#222">T</text>
<text x="316.7" y="88.2" font-size="9" text-anchor="middle" fill="#222">M</text>
<line x1="254.20" y1="197.10" x2="262.20" y2="197.10" stroke="#1282a2" stroke-width="1.2"/>
<text x="266.6" y="199.7" font-size="9.3" textLength="76.0" lengthAdjust="spacingAndGlyphs" fill="#222">Wild-type + foldon</text>
<line x1="254.20" y1="208.30" x2="262.20" y2="208.30" stroke="#f5820d" stroke-width="1.2"/>
<text x="266.6" y="210.9" font-size="9.3" textLength="76.0" lengthAdjust="spacingAndGlyphs" fill="#222">Wild-type – foldon</text>
<line x1="254.20" y1="219.60" x2="262.20" y2="219.60" stroke="#a9a9a9" stroke-width="1.2"/>
<text x="266.6" y="222.2" font-size="9.3" textLength="52.6" lengthAdjust="spacingAndGlyphs" fill="#222">pref + foldon</text>
<path d="M399.1,146.3 L399.7,146.3 L400.4,146.3 L401.0,146.3 L401.6,146.3 L402.3,146.3 L402.9,146.3 L403.6,146.3 L404.2,146.2 L404.8,146.2 L405.5,146.2 L406.1,146.2 L406.8,146.1 L407.4,146.1 L408.1,145.9 L408.7,145.7 L409.3,145.4 L410.0,145.1 L410.6,144.7 L411.3,144.3 L411.9,143.8 L412.6,143.2 L413.2,142.5 L413.8,141.7 L414.5,140.6 L415.1,139.2 L415.8,137.4 L416.4,135.2 L417.0,132.4 L417.7,129.1 L418.3,125.1 L419.0,120.6 L419.6,115.4 L420.3,109.7 L420.9,103.5 L421.5,97.0 L422.2,90.4 L422.8,83.8 L423.5,77.5 L424.1,71.8 L424.7,66.9 L425.4,63.0 L426.0,60.3 L426.7,58.9 L427.3,58.9 L428.0,60.2 L428.6,62.8 L429.2,66.6 L429.9,71.4 L430.5,76.9 L431.2,82.9 L431.8,89.2 L432.5,95.5 L433.1,101.6 L433.7,107.4 L434.4,112.8 L435.0,117.6 L435.7,121.8 L436.3,125.4 L436.9,128.5 L437.6,131.1 L438.2,133.2 L438.9,134.9 L439.5,136.3 L440.2,137.4 L440.8,138.3 L441.4,139.1 L442.1,139.7 L442.7,140.2 L443.4,140.6 L444.0,141.0 L444.7,141.3 L445.3,141.6 L445.9,141.9 L446.6,142.1 L447.2,142.3 L447.9,142.5 L448.5,142.6 L449.1,142.8 L449.8,142.9 L450.4,142.9 L451.1,143.0 L451.7,143.0 L452.4,143.1 L453.0,143.1 L453.6,143.1 L454.3,143.1 L454.9,143.1 L455.6,143.0 L456.2,143.0 L456.8,143.0 L457.5,143.0 L458.1,142.9 L458.8,142.9 L459.4,142.9 L460.1,142.9 L460.7,142.9 L461.3,142.9 L462.0,142.9 L462.6,142.9 L463.3,142.9 L463.9,143.0 L464.6,143.1 L465.2,143.2 L465.8,143.3 L466.5,143.4 L467.1,143.5 L467.8,143.6 L468.4,143.8 L469.0,143.9 L469.7,144.0 L470.3,144.2 L471.0,144.3 L471.6,144.4 L472.3,144.5 L472.9,144.7 L473.5,144.8 L474.2,144.8 L474.8,144.9 L475.5,145.0 L476.1,145.1 L476.8,145.2 L477.4,145.3 L478.0,145.3 L478.7,145.4 L479.3,145.5 L480.0,145.6 L480.6,145.7 L481.2,145.7 L481.9,145.8 L482.5,145.8 L483.2,145.9 L483.8,145.9 L484.5,146.0 L485.1,146.0 L485.7,146.0 L486.4,146.0 L487.0,146.0 L487.7,145.9 L488.3,145.9 L488.9,145.9 L489.6,145.9 L490.2,145.8 L490.9,145.8 L491.5,145.7 L492.2,145.7 L492.8,145.7 L493.4,145.6 L494.1,145.6 L494.7,145.5 L495.4,145.5 L496.0,145.4 L496.7,145.3 L497.3,145.3 L497.9,145.2 L498.6,145.1 L499.2,145.0 L499.9,145.0 L500.5,144.9 L501.1,144.8 L501.8,144.7 L502.4,144.6 L503.1,144.5 L503.7,144.4 L504.4,144.2 L505.0,144.1" fill="none" stroke="#a9a9a9" stroke-width="1.15" stroke-linejoin="round"/>
<path d="M399.1,146.3 L399.7,146.3 L400.4,146.3 L401.0,146.3 L401.6,146.3 L402.3,146.3 L402.9,146.3 L403.6,146.3 L404.2,146.2 L404.8,146.2 L405.5,146.2 L406.1,146.2 L406.8,146.1 L407.4,146.1 L408.1,145.9 L408.7,145.7 L409.3,145.4 L410.0,145.1 L410.6,144.8 L411.3,144.4 L411.9,143.9 L412.6,143.4 L413.2,142.8 L413.8,142.1 L414.5,141.1 L415.1,139.8 L415.8,138.2 L416.4,136.2 L417.0,133.6 L417.7,130.5 L418.3,126.8 L419.0,122.5 L419.6,117.6 L420.3,112.1 L420.9,106.0 L421.5,99.6 L422.2,92.9 L422.8,86.3 L423.5,79.8 L424.1,73.7 L424.7,68.4 L425.4,64.0 L426.0,60.7 L426.7,58.6 L427.3,58.0 L428.0,58.7 L428.6,60.8 L429.2,64.1 L429.9,68.5 L430.5,73.8 L431.2,79.6 L431.8,85.9 L432.5,92.2 L433.1,98.5 L433.7,104.5 L434.4,110.1 L435.0,115.2 L435.7,119.7 L436.3,123.7 L436.9,127.0 L437.6,129.9 L438.2,132.2 L438.9,134.1 L439.5,135.7 L440.2,136.9 L440.8,137.9 L441.4,138.7 L442.1,139.4 L442.7,139.9 L443.4,140.4 L444.0,140.8 L444.7,141.2 L445.3,141.5 L445.9,141.7 L446.6,142.0 L447.2,142.2 L447.9,142.4 L448.5,142.5 L449.1,142.7 L449.8,142.8 L450.4,142.9 L451.1,142.9 L451.7,143.0 L452.4,143.0 L453.0,143.0 L453.6,143.1 L454.3,143.1 L454.9,143.0 L455.6,143.0 L456.2,143.0 L456.8,143.0 L457.5,142.9 L458.1,142.9 L458.8,142.9 L459.4,142.9 L460.1,142.9 L460.7,142.8 L461.3,142.9 L462.0,142.9 L462.6,142.9 L463.3,142.9 L463.9,143.0 L464.6,143.1 L465.2,143.2 L465.8,143.3 L466.5,143.4 L467.1,143.5 L467.8,143.6 L468.4,143.8 L469.0,143.9 L469.7,144.0 L470.3,144.2 L471.0,144.3 L471.6,144.4 L472.3,144.5 L472.9,144.7 L473.5,144.8 L474.2,144.8 L474.8,144.9 L475.5,145.0 L476.1,145.1 L476.8,145.2 L477.4,145.3 L478.0,145.3 L478.7,145.4 L479.3,145.5 L480.0,145.6 L480.6,145.7 L481.2,145.7 L481.9,145.8 L482.5,145.8 L483.2,145.9 L483.8,145.9 L484.5,146.0 L485.1,146.0 L485.7,146.0 L486.4,146.0 L487.0,146.0 L487.7,145.9 L488.3,145.9 L488.9,145.9 L489.6,145.9 L490.2,145.8 L490.9,145.8 L491.5,145.7 L492.2,145.7 L492.8,145.7 L493.4,145.6 L494.1,145.6 L494.7,145.5 L495.4,145.5 L496.0,145.4 L496.7,145.3 L497.3,145.3 L497.9,145.2 L498.6,145.1 L499.2,145.0 L499.9,145.0 L500.5,144.9 L501.1,144.8 L501.8,144.7 L502.4,144.6 L503.1,144.5 L503.7,144.4 L504.4,144.2 L505.0,144.1" fill="none" stroke="#a9a9a9" stroke-width="1.15" stroke-linejoin="round" stroke-dasharray="2.6 1.6"/>
<path d="M399.1,146.3 L399.7,146.3 L400.4,146.3 L401.0,146.3 L401.6,146.3 L402.3,146.3 L402.9,146.3 L403.6,146.3 L404.2,146.2 L404.8,146.2 L405.5,146.2 L406.1,146.2 L406.8,146.1 L407.4,146.1 L408.1,145.9 L408.7,145.7 L409.3,145.5 L410.0,145.2 L410.6,144.8 L411.3,144.4 L411.9,144.0 L412.6,143.5 L413.2,143.0 L413.8,142.4 L414.5,141.5 L415.1,140.4 L415.8,138.9 L416.4,137.0 L417.0,134.6 L417.7,131.7 L418.3,128.3 L419.0,124.1 L419.6,119.4 L420.3,114.0 L420.9,108.1 L421.5,101.7 L422.2,95.0 L422.8,88.1 L423.5,81.4 L424.1,75.0 L424.7,69.2 L425.4,64.2 L426.0,60.3 L426.7,57.6 L427.3,56.3 L428.0,56.5 L428.6,58.0 L429.2,60.8 L429.9,64.9 L430.5,69.8 L431.2,75.6 L431.8,81.8 L432.5,88.3 L433.1,94.7 L433.7,101.0 L434.4,106.9 L435.0,112.4 L435.7,117.3 L436.3,121.5 L436.9,125.2 L437.6,128.3 L438.2,130.9 L438.9,133.1 L439.5,134.8 L440.2,136.2 L440.8,137.4 L441.4,138.3 L442.1,139.0 L442.7,139.6 L443.4,140.1 L444.0,140.6 L444.7,140.9 L445.3,141.3 L445.9,141.6 L446.6,141.8 L447.2,142.1 L447.9,142.3 L448.5,142.4 L449.1,142.6 L449.8,142.7 L450.4,142.8 L451.1,142.9 L451.7,142.9 L452.4,143.0 L453.0,143.0 L453.6,143.0 L454.3,143.0 L454.9,143.0 L455.6,143.0 L456.2,143.0 L456.8,142.9 L457.5,142.9 L458.1,142.9 L458.8,142.9 L459.4,142.9 L460.1,142.8 L460.7,142.8 L461.3,142.8 L462.0,142.9 L462.6,142.9 L463.3,142.9 L463.9,143.0 L464.6,143.1 L465.2,143.2 L465.8,143.3 L466.5,143.4 L467.1,143.5 L467.8,143.6 L468.4,143.8 L469.0,143.9 L469.7,144.0 L470.3,144.2 L471.0,144.3 L471.6,144.4 L472.3,144.5 L472.9,144.7 L473.5,144.8 L474.2,144.8 L474.8,144.9 L475.5,145.0 L476.1,145.1 L476.8,145.2 L477.4,145.3 L478.0,145.3 L478.7,145.4 L479.3,145.5 L480.0,145.6 L480.6,145.7 L481.2,145.7 L481.9,145.8 L482.5,145.8 L483.2,145.9 L483.8,145.9 L484.5,146.0 L485.1,146.0 L485.7,146.0 L486.4,146.0 L487.0,146.0 L487.7,145.9 L488.3,145.9 L488.9,145.9 L489.6,145.9 L490.2,145.8 L490.9,145.8 L491.5,145.7 L492.2,145.7 L492.8,145.7 L493.4,145.6 L494.1,145.6 L494.7,145.5 L495.4,145.5 L496.0,145.4 L496.7,145.3 L497.3,145.3 L497.9,145.2 L498.6,145.1 L499.2,145.0 L499.9,145.0 L500.5,144.9 L501.1,144.8 L501.8,144.7 L502.4,144.6 L503.1,144.5 L503.7,144.4 L504.4,144.2 L505.0,144.1" fill="none" stroke="#a9a9a9" stroke-width="1.15" stroke-linejoin="round" stroke-dasharray="0.9 1.7"/>
<path d="M399.1,147.3 L399.7,147.3 L400.4,147.3 L401.0,147.3 L401.6,147.2 L402.3,147.2 L402.9,147.1 L403.6,147.1 L404.2,147.0 L404.8,147.0 L405.5,146.9 L406.1,146.8 L406.8,146.5 L407.4,146.1 L408.1,145.6 L408.7,145.1 L409.3,144.5 L410.0,144.0 L410.6,143.5 L411.3,143.1 L411.9,142.6 L412.6,142.2 L413.2,141.7 L413.8,141.4 L414.5,141.1 L415.1,140.9 L415.8,140.9 L416.4,141.0 L417.0,141.1 L417.7,141.3 L418.3,141.5 L419.0,141.8 L419.6,142.1 L420.3,142.3 L420.9,142.5 L421.5,142.7 L422.2,143.0 L422.8,143.2 L423.5,143.4 L424.1,143.6 L424.7,143.9 L425.4,144.1 L426.0,144.3 L426.7,144.6 L427.3,144.8 L428.0,145.0 L428.6,145.1 L429.2,145.3 L429.9,145.5 L430.5,145.6 L431.2,145.7 L431.8,145.9 L432.5,146.0 L433.1,146.1 L433.7,146.2 L434.4,146.3 L435.0,146.4 L435.7,146.5 L436.3,146.5 L436.9,146.6 L437.6,146.6 L438.2,146.6 L438.9,146.6 L439.5,146.5 L440.2,146.5 L440.8,146.4 L441.4,146.3 L442.1,146.2 L442.7,146.1 L443.4,146.0 L444.0,145.9 L444.7,145.8 L445.3,145.7 L445.9,145.5 L446.6,145.3 L447.2,145.1 L447.9,144.8 L448.5,144.4 L449.1,144.0 L449.8,143.6 L450.4,143.0 L451.1,142.4 L451.7,141.7 L452.4,140.9 L453.0,139.9 L453.6,138.8 L454.3,137.4 L454.9,135.8 L455.6,133.9 L456.2,131.8 L456.8,129.3 L457.5,126.6 L458.1,123.6 L458.8,120.4 L459.4,117.0 L460.1,113.6 L460.7,110.2 L461.3,106.9 L462.0,103.9 L462.6,101.2 L463.3,98.9 L463.9,97.2 L464.6,96.0 L465.2,95.5 L465.8,95.5 L466.5,95.9 L467.1,96.6 L467.8,97.6 L468.4,98.8 L469.0,100.3 L469.7,102.0 L470.3,103.9 L471.0,105.9 L471.6,107.9 L472.3,110.1 L472.9,112.2 L473.5,114.3 L474.2,116.4 L474.8,118.4 L475.5,120.3 L476.1,122.1 L476.8,123.7 L477.4,125.2 L478.0,126.6 L478.7,127.9 L479.3,129.0 L480.0,130.0 L480.6,130.9 L481.2,131.8 L481.9,132.5 L482.5,133.1 L483.2,133.6 L483.8,134.1 L484.5,134.5 L485.1,134.8 L485.7,135.1 L486.4,135.4 L487.0,135.6 L487.7,135.8 L488.3,135.9 L488.9,136.0 L489.6,136.1 L490.2,136.2 L490.9,136.3 L491.5,136.3 L492.2,136.3 L492.8,136.4 L493.4,136.4 L494.1,136.4 L494.7,136.5 L495.4,136.5 L496.0,136.5 L496.7,136.5 L497.3,136.5 L497.9,136.5 L498.6,136.5 L499.2,136.5 L499.9,136.4 L500.5,136.4 L501.1,136.3 L501.8,136.3 L502.4,136.2 L503.1,136.2 L503.7,136.1 L504.4,136.0 L505.0,136.0" fill="none" stroke="#f5820d" stroke-width="1.25" stroke-linejoin="round"/>
<path d="M399.1,147.3 L399.7,147.3 L400.4,147.3 L401.0,147.3 L401.6,147.2 L402.3,147.2 L402.9,147.1 L403.6,147.1 L404.2,147.0 L404.8,147.0 L405.5,146.9 L406.1,146.8 L406.8,146.5 L407.4,146.1 L408.1,145.6 L408.7,145.1 L409.3,144.5 L410.0,144.0 L410.6,143.5 L411.3,143.1 L411.9,142.6 L412.6,142.2 L413.2,141.7 L413.8,141.4 L414.5,141.1 L415.1,140.9 L415.8,140.9 L416.4,141.0 L417.0,141.1 L417.7,141.3 L418.3,141.5 L419.0,141.8 L419.6,142.1 L420.3,142.3 L420.9,142.5 L421.5,142.7 L422.2,143.0 L422.8,143.2 L423.5,143.4 L424.1,143.6 L424.7,143.9 L425.4,144.1 L426.0,144.3 L426.7,144.6 L427.3,144.8 L428.0,145.0 L428.6,145.1 L429.2,145.3 L429.9,145.5 L430.5,145.6 L431.2,145.7 L431.8,145.9 L432.5,146.0 L433.1,146.1 L433.7,146.2 L434.4,146.3 L435.0,146.4 L435.7,146.5 L436.3,146.5 L436.9,146.6 L437.6,146.6 L438.2,146.6 L438.9,146.6 L439.5,146.5 L440.2,146.5 L440.8,146.4 L441.4,146.3 L442.1,146.2 L442.7,146.1 L443.4,146.0 L444.0,145.9 L444.7,145.7 L445.3,145.6 L445.9,145.4 L446.6,145.1 L447.2,144.8 L447.9,144.4 L448.5,143.9 L449.1,143.3 L449.8,142.6 L450.4,141.9 L451.1,141.0 L451.7,140.0 L452.4,138.8 L453.0,137.4 L453.6,135.9 L454.3,134.1 L454.9,132.1 L455.6,129.8 L456.2,127.3 L456.8,124.7 L457.5,121.8 L458.1,118.8 L458.8,115.7 L459.4,112.5 L460.1,109.5 L460.7,106.5 L461.3,103.8 L462.0,101.4 L462.6,99.4 L463.3,97.8 L463.9,96.7 L464.6,96.1 L465.2,96.1 L465.8,96.3 L466.5,97.0 L467.1,97.9 L467.8,99.1 L468.4,100.6 L469.0,102.3 L469.7,104.2 L470.3,106.2 L471.0,108.2 L471.6,110.4 L472.3,112.5 L472.9,114.7 L473.5,116.8 L474.2,118.8 L474.8,120.6 L475.5,122.4 L476.1,124.1 L476.8,125.6 L477.4,126.9 L478.0,128.1 L478.7,129.2 L479.3,130.2 L480.0,131.1 L480.6,131.9 L481.2,132.6 L481.9,133.2 L482.5,133.7 L483.2,134.1 L483.8,134.5 L484.5,134.8 L485.1,135.1 L485.7,135.3 L486.4,135.5 L487.0,135.7 L487.7,135.9 L488.3,136.0 L488.9,136.1 L489.6,136.2 L490.2,136.2 L490.9,136.3 L491.5,136.3 L492.2,136.4 L492.8,136.4 L493.4,136.4 L494.1,136.4 L494.7,136.5 L495.4,136.5 L496.0,136.5 L496.7,136.5 L497.3,136.5 L497.9,136.5 L498.6,136.5 L499.2,136.5 L499.9,136.4 L500.5,136.4 L501.1,136.3 L501.8,136.3 L502.4,136.2 L503.1,136.2 L503.7,136.1 L504.4,136.0 L505.0,136.0" fill="none" stroke="#f5820d" stroke-width="1.25" stroke-linejoin="round" stroke-dasharray="2.6 1.6"/>
<path d="M399.1,147.3 L399.7,147.3 L400.4,147.3 L401.0,147.3 L401.6,147.2 L402.3,147.2 L402.9,147.1 L403.6,147.1 L404.2,147.0 L404.8,147.0 L405.5,146.9 L406.1,146.8 L406.8,146.5 L407.4,146.1 L408.1,145.6 L408.7,145.1 L409.3,144.5 L410.0,144.0 L410.6,143.5 L411.3,143.1 L411.9,142.6 L412.6,142.2 L413.2,141.7 L413.8,141.4 L414.5,141.1 L415.1,140.9 L415.8,140.9 L416.4,141.0 L417.0,141.1 L417.7,141.3 L418.3,141.5 L419.0,141.8 L419.6,142.1 L420.3,142.3 L420.9,142.5 L421.5,142.7 L422.2,143.0 L422.8,143.2 L423.5,143.4 L424.1,143.6 L424.7,143.9 L425.4,144.1 L426.0,144.3 L426.7,144.6 L427.3,144.8 L428.0,145.0 L428.6,145.1 L429.2,145.3 L429.9,145.5 L430.5,145.6 L431.2,145.7 L431.8,145.9 L432.5,146.0 L433.1,146.1 L433.7,146.2 L434.4,146.3 L435.0,146.4 L435.7,146.5 L436.3,146.5 L436.9,146.6 L437.6,146.6 L438.2,146.6 L438.9,146.6 L439.5,146.5 L440.2,146.5 L440.8,146.4 L441.4,146.3 L442.1,146.2 L442.7,146.1 L443.4,146.0 L444.0,145.8 L444.7,145.7 L445.3,145.5 L445.9,145.2 L446.6,144.9 L447.2,144.6 L447.9,144.1 L448.5,143.5 L449.1,142.9 L449.8,142.1 L450.4,141.3 L451.1,140.2 L451.7,139.1 L452.4,137.8 L453.0,136.3 L453.6,134.6 L454.3,132.7 L454.9,130.6 L455.6,128.2 L456.2,125.7 L456.8,123.0 L457.5,120.1 L458.1,117.2 L458.8,114.2 L459.4,111.2 L460.1,108.3 L460.7,105.6 L461.3,103.1 L462.0,100.9 L462.6,99.2 L463.3,97.8 L463.9,96.9 L464.6,96.5 L465.2,96.6 L465.8,97.0 L466.5,97.7 L467.1,98.7 L467.8,100.0 L468.4,101.5 L469.0,103.3 L469.7,105.2 L470.3,107.2 L471.0,109.3 L471.6,111.4 L472.3,113.5 L472.9,115.6 L473.5,117.6 L474.2,119.6 L474.8,121.4 L475.5,123.1 L476.1,124.7 L476.8,126.1 L477.4,127.4 L478.0,128.6 L478.7,129.6 L479.3,130.6 L480.0,131.4 L480.6,132.1 L481.2,132.8 L481.9,133.3 L482.5,133.8 L483.2,134.2 L483.8,134.6 L484.5,134.9 L485.1,135.2 L485.7,135.4 L486.4,135.6 L487.0,135.7 L487.7,135.9 L488.3,136.0 L488.9,136.1 L489.6,136.2 L490.2,136.2 L490.9,136.3 L491.5,136.3 L492.2,136.4 L492.8,136.4 L493.4,136.4 L494.1,136.4 L494.7,136.5 L495.4,136.5 L496.0,136.5 L496.7,136.5 L497.3,136.5 L497.9,136.5 L498.6,136.5 L499.2,136.5 L499.9,136.4 L500.5,136.4 L501.1,136.3 L501.8,136.3 L502.4,136.2 L503.1,136.2 L503.7,136.1 L504.4,136.0 L505.0,136.0" fill="none" stroke="#f5820d" stroke-width="1.25" stroke-linejoin="round" stroke-dasharray="0.9 1.7"/>
<path d="M399.1,147.7 L399.7,147.8 L400.4,147.8 L401.0,147.9 L401.6,147.9 L402.3,147.9 L402.9,147.9 L403.6,147.9 L404.2,147.9 L404.8,147.8 L405.5,147.5 L406.1,147.2 L406.8,146.9 L407.4,146.5 L408.1,146.1 L408.7,145.6 L409.3,145.0 L410.0,144.4 L410.6,143.8 L411.3,143.1 L411.9,142.3 L412.6,141.4 L413.2,140.5 L413.8,139.6 L414.5,138.6 L415.1,137.7 L415.8,136.9 L416.4,135.9 L417.0,134.7 L417.7,133.2 L418.3,131.4 L419.0,129.4 L419.6,127.0 L420.3,124.5 L420.9,121.7 L421.5,118.8 L422.2,115.9 L422.8,113.1 L423.5,110.5 L424.1,108.3 L424.7,106.5 L425.4,105.3 L426.0,104.7 L426.7,104.7 L427.3,105.3 L428.0,106.4 L428.6,107.9 L429.2,109.8 L429.9,112.0 L430.5,114.4 L431.2,117.1 L431.8,119.8 L432.5,122.5 L433.1,125.1 L433.7,127.7 L434.4,130.1 L435.0,132.3 L435.7,134.3 L436.3,136.1 L436.9,137.6 L437.6,139.0 L438.2,140.1 L438.9,141.1 L439.5,141.8 L440.2,142.5 L440.8,143.0 L441.4,143.3 L442.1,143.6 L442.7,143.8 L443.4,143.9 L444.0,143.9 L444.7,143.7 L445.3,143.5 L445.9,143.2 L446.6,142.9 L447.2,142.6 L447.9,142.1 L448.5,141.5 L449.1,140.7 L449.8,139.8 L450.4,138.8 L451.1,137.9 L451.7,137.0 L452.4,136.2 L453.0,135.6 L453.6,135.1 L454.3,134.6 L454.9,134.0 L455.6,133.5 L456.2,133.0 L456.8,132.5 L457.5,132.0 L458.1,131.6 L458.8,131.2 L459.4,130.8 L460.1,130.5 L460.7,130.3 L461.3,130.1 L462.0,130.0 L462.6,129.9 L463.3,129.9 L463.9,130.0 L464.6,130.1 L465.2,130.3 L465.8,130.5 L466.5,130.7 L467.1,131.0 L467.8,131.2 L468.4,131.5 L469.0,131.8 L469.7,132.1 L470.3,132.4 L471.0,132.7 L471.6,133.0 L472.3,133.2 L472.9,133.5 L473.5,133.7 L474.2,133.9 L474.8,134.0 L475.5,134.2 L476.1,134.4 L476.8,134.5 L477.4,134.7 L478.0,134.9 L478.7,135.1 L479.3,135.2 L480.0,135.4 L480.6,135.5 L481.2,135.6 L481.9,135.7 L482.5,135.8 L483.2,135.9 L483.8,135.9 L484.5,136.0 L485.1,136.0 L485.7,136.0 L486.4,135.9 L487.0,135.9 L487.7,135.9 L488.3,135.8 L488.9,135.8 L489.6,135.7 L490.2,135.6 L490.9,135.5 L491.5,135.5 L492.2,135.4 L492.8,135.3 L493.4,135.2 L494.1,135.0 L494.7,134.9 L495.4,134.6 L496.0,134.3 L496.7,134.0 L497.3,133.7 L497.9,133.3 L498.6,133.0 L499.2,132.7 L499.9,132.4 L500.5,132.2 L501.1,132.0 L501.8,131.9 L502.4,132.0 L503.1,132.1 L503.7,132.4 L504.4,132.8 L505.0,133.2" fill="none" stroke="#1282a2" stroke-width="1.25" stroke-linejoin="round"/>
<path d="M399.1,147.7 L399.7,147.8 L400.4,147.8 L401.0,147.9 L401.6,147.9 L402.3,147.9 L402.9,147.9 L403.6,147.9 L404.2,147.9 L404.8,147.8 L405.5,147.5 L406.1,147.2 L406.8,146.9 L407.4,146.5 L408.1,146.1 L408.7,145.6 L409.3,145.1 L410.0,144.5 L410.6,143.9 L411.3,143.3 L411.9,142.5 L412.6,141.8 L413.2,141.0 L413.8,140.2 L414.5,139.6 L415.1,139.1 L415.8,138.7 L416.4,138.3 L417.0,137.8 L417.7,137.3 L418.3,136.6 L419.0,135.8 L419.6,134.9 L420.3,133.9 L420.9,132.8 L421.5,131.7 L422.2,130.6 L422.8,129.5 L423.5,128.5 L424.1,127.7 L424.7,127.1 L425.4,126.7 L426.0,126.5 L426.7,126.7 L427.3,127.1 L428.0,127.7 L428.6,128.5 L429.2,129.4 L429.9,130.6 L430.5,131.8 L431.2,133.0 L431.8,134.3 L432.5,135.5 L433.1,136.7 L433.7,137.8 L434.4,138.8 L435.0,139.8 L435.7,140.6 L436.3,141.3 L436.9,142.0 L437.6,142.5 L438.2,142.9 L438.9,143.3 L439.5,143.6 L440.2,143.8 L440.8,144.0 L441.4,144.1 L442.1,144.2 L442.7,144.2 L443.4,144.2 L444.0,144.1 L444.7,143.9 L445.3,143.6 L445.9,143.3 L446.6,143.0 L447.2,142.6 L447.9,142.2 L448.5,141.5 L449.1,140.7 L449.8,139.8 L450.4,138.8 L451.1,137.9 L451.7,137.0 L452.4,136.2 L453.0,135.6 L453.6,135.1 L454.3,134.6 L454.9,134.0 L455.6,133.5 L456.2,133.0 L456.8,132.5 L457.5,132.0 L458.1,131.6 L458.8,131.2 L459.4,130.8 L460.1,130.5 L460.7,130.3 L461.3,130.1 L462.0,130.0 L462.6,129.9 L463.3,129.9 L463.9,130.0 L464.6,130.1 L465.2,130.3 L465.8,130.5 L466.5,130.7 L467.1,131.0 L467.8,131.2 L468.4,131.5 L469.0,131.8 L469.7,132.1 L470.3,132.4 L471.0,132.7 L471.6,133.0 L472.3,133.2 L472.9,133.5 L473.5,133.7 L474.2,133.9 L474.8,134.0 L475.5,134.2 L476.1,134.4 L476.8,134.5 L477.4,134.7 L478.0,134.9 L478.7,135.1 L479.3,135.2 L480.0,135.4 L480.6,135.5 L481.2,135.6 L481.9,135.7 L482.5,135.8 L483.2,135.9 L483.8,135.9 L484.5,136.0 L485.1,136.0 L485.7,136.0 L486.4,135.9 L487.0,135.9 L487.7,135.9 L488.3,135.8 L488.9,135.8 L489.6,135.7 L490.2,135.6 L490.9,135.5 L491.5,135.5 L492.2,135.4 L492.8,135.3 L493.4,135.2 L494.1,135.0 L494.7,134.9 L495.4,134.6 L496.0,134.3 L496.7,134.0 L497.3,133.7 L497.9,133.3 L498.6,133.0 L499.2,132.7 L499.9,132.4 L500.5,132.2 L501.1,132.0 L501.8,131.9 L502.4,132.0 L503.1,132.1 L503.7,132.4 L504.4,132.8 L505.0,133.2" fill="none" stroke="#1282a2" stroke-width="1.25" stroke-linejoin="round" stroke-dasharray="2.6 1.6"/>
<path d="M399.1,147.7 L399.7,147.8 L400.4,147.8 L401.0,147.9 L401.6,147.9 L402.3,147.9 L402.9,147.9 L403.6,147.9 L404.2,147.9 L404.8,147.8 L405.5,147.5 L406.1,147.2 L406.8,146.8 L407.4,146.4 L408.1,145.9 L408.7,145.3 L409.3,144.6 L410.0,143.8 L410.6,143.1 L411.3,142.3 L411.9,141.5 L412.6,140.7 L413.2,139.8 L413.8,139.1 L414.5,138.6 L415.1,138.3 L415.8,138.3 L416.4,138.3 L417.0,138.4 L417.7,138.5 L418.3,138.6 L419.0,138.7 L419.6,138.8 L420.3,138.9 L420.9,139.0 L421.5,139.0 L422.2,138.9 L422.8,138.9 L423.5,138.8 L424.1,138.7 L424.7,138.7 L425.4,138.6 L426.0,138.6 L426.7,138.7 L427.3,138.9 L428.0,139.1 L428.6,139.5 L429.2,139.9 L429.9,140.3 L430.5,140.8 L431.2,141.2 L431.8,141.7 L432.5,142.0 L433.1,142.4 L433.7,142.7 L434.4,143.1 L435.0,143.5 L435.7,143.9 L436.3,144.1 L436.9,144.3 L437.6,144.4 L438.2,144.4 L438.9,144.4 L439.5,144.4 L440.2,144.4 L440.8,144.4 L441.4,144.4 L442.1,144.4 L442.7,144.4 L443.4,144.4 L444.0,144.4 L444.7,144.4 L445.3,144.4 L445.9,144.3 L446.6,144.0 L447.2,143.5 L447.9,142.9 L448.5,142.2 L449.1,141.5 L449.8,140.7 L450.4,139.9 L451.1,139.1 L451.7,138.4 L452.4,137.8 L453.0,137.4 L453.6,137.0 L454.3,136.6 L454.9,136.2 L455.6,135.8 L456.2,135.5 L456.8,135.1 L457.5,134.8 L458.1,134.4 L458.8,134.2 L459.4,133.9 L460.1,133.7 L460.7,133.5 L461.3,133.4 L462.0,133.3 L462.6,133.2 L463.3,133.3 L463.9,133.3 L464.6,133.3 L465.2,133.4 L465.8,133.5 L466.5,133.5 L467.1,133.6 L467.8,133.7 L468.4,133.8 L469.0,133.9 L469.7,134.1 L470.3,134.2 L471.0,134.3 L471.6,134.4 L472.3,134.5 L472.9,134.6 L473.5,134.7 L474.2,134.7 L474.8,134.8 L475.5,134.9 L476.1,135.0 L476.8,135.1 L477.4,135.1 L478.0,135.2 L478.7,135.3 L479.3,135.4 L480.0,135.5 L480.6,135.5 L481.2,135.6 L481.9,135.7 L482.5,135.7 L483.2,135.8 L483.8,135.8 L484.5,135.8 L485.1,135.8 L485.7,135.8 L486.4,135.8 L487.0,135.8 L487.7,135.8 L488.3,135.8 L488.9,135.8 L489.6,135.7 L490.2,135.7 L490.9,135.7 L491.5,135.7 L492.2,135.7 L492.8,135.6 L493.4,135.6 L494.1,135.6 L494.7,135.5 L495.4,135.3 L496.0,135.1 L496.7,134.9 L497.3,134.7 L497.9,134.4 L498.6,134.2 L499.2,134.0 L499.9,133.8 L500.5,133.6 L501.1,133.5 L501.8,133.4 L502.4,133.4 L503.1,133.5 L503.7,133.6 L504.4,133.7 L505.0,133.9" fill="none" stroke="#1282a2" stroke-width="1.25" stroke-linejoin="round" stroke-dasharray="0.9 1.7"/>
<line x1="399.50" y1="47.30" x2="399.50" y2="153.80" stroke="#4a4a4a" stroke-width="0.9"/>
<line x1="399.05" y1="153.40" x2="505.45" y2="153.40" stroke="#4a4a4a" stroke-width="0.9"/>
<line x1="394.70" y1="144.40" x2="399.50" y2="144.40" stroke="#4a4a4a" stroke-width="0.9"/>
<text x="391.2" y="146.7" font-size="8.2" text-anchor="end" textLength="4.4" lengthAdjust="spacingAndGlyphs" fill="#222">0</text>
<line x1="394.70" y1="126.84" x2="399.50" y2="126.84" stroke="#4a4a4a" stroke-width="0.9"/>
<text x="391.2" y="129.1" font-size="8.2" text-anchor="end" textLength="4.4" lengthAdjust="spacingAndGlyphs" fill="#222">2</text>
<line x1="394.70" y1="109.28" x2="399.50" y2="109.28" stroke="#4a4a4a" stroke-width="0.9"/>
<text x="391.2" y="111.6" font-size="8.2" text-anchor="end" textLength="4.4" lengthAdjust="spacingAndGlyphs" fill="#222">4</text>
<line x1="394.70" y1="91.72" x2="399.50" y2="91.72" stroke="#4a4a4a" stroke-width="0.9"/>
<text x="391.2" y="94.0" font-size="8.2" text-anchor="end" textLength="4.4" lengthAdjust="spacingAndGlyphs" fill="#222">6</text>
<line x1="394.70" y1="74.16" x2="399.50" y2="74.16" stroke="#4a4a4a" stroke-width="0.9"/>
<text x="391.2" y="76.5" font-size="8.2" text-anchor="end" textLength="4.4" lengthAdjust="spacingAndGlyphs" fill="#222">8</text>
<line x1="394.70" y1="56.60" x2="399.50" y2="56.60" stroke="#4a4a4a" stroke-width="0.9"/>
<text x="391.2" y="58.9" font-size="8.2" text-anchor="end" textLength="8.2" lengthAdjust="spacingAndGlyphs" fill="#222">10</text>
<line x1="408.70" y1="153.40" x2="408.70" y2="157.80" stroke="#4a4a4a" stroke-width="0.9"/>
<text x="408.9" y="166.4" font-size="8.6" text-anchor="middle" textLength="10.3" lengthAdjust="spacingAndGlyphs" fill="#222">4.2</text>
<line x1="427.96" y1="153.40" x2="427.96" y2="157.80" stroke="#4a4a4a" stroke-width="0.9"/>
<text x="428.2" y="166.4" font-size="8.6" text-anchor="middle" textLength="10.3" lengthAdjust="spacingAndGlyphs" fill="#222">4.4</text>
<line x1="447.22" y1="153.40" x2="447.22" y2="157.80" stroke="#4a4a4a" stroke-width="0.9"/>
<text x="447.4" y="166.4" font-size="8.6" text-anchor="middle" textLength="10.3" lengthAdjust="spacingAndGlyphs" fill="#222">4.6</text>
<line x1="466.48" y1="153.40" x2="466.48" y2="157.80" stroke="#4a4a4a" stroke-width="0.9"/>
<text x="466.7" y="166.4" font-size="8.6" text-anchor="middle" textLength="10.3" lengthAdjust="spacingAndGlyphs" fill="#222">4.8</text>
<line x1="485.74" y1="153.40" x2="485.74" y2="157.80" stroke="#4a4a4a" stroke-width="0.9"/>
<text x="485.9" y="166.4" font-size="8.6" text-anchor="middle" textLength="10.3" lengthAdjust="spacingAndGlyphs" fill="#222">5.0</text>
<line x1="505.00" y1="153.40" x2="505.00" y2="157.80" stroke="#4a4a4a" stroke-width="0.9"/>
<text x="505.2" y="166.4" font-size="8.6" text-anchor="middle" textLength="10.3" lengthAdjust="spacingAndGlyphs" fill="#222">5.2</text>
<text x="452.2" y="178.8" font-size="9" text-anchor="middle" textLength="43.6" lengthAdjust="spacingAndGlyphs" fill="#222">Time (min)</text>
<text x="375.6" y="99.8" font-size="9" text-anchor="middle" textLength="56.2" lengthAdjust="spacingAndGlyphs" transform="rotate(-90 375.6 99.8)" fill="#222">OD280 (mAU)</text>
<text x="427.6" y="50.7" font-size="9" text-anchor="middle" fill="#222">T</text>
<text x="465.0" y="92.6" font-size="9" text-anchor="middle" fill="#222">M</text>
<line x1="403.00" y1="197.10" x2="411.00" y2="197.10" stroke="#1282a2" stroke-width="1.2"/>
<text x="415.4" y="199.7" font-size="9.3" textLength="65.4" lengthAdjust="spacingAndGlyphs" fill="#222">D486N + foldon</text>
<line x1="403.00" y1="208.30" x2="411.00" y2="208.30" stroke="#f5820d" stroke-width="1.2"/>
<text x="415.4" y="210.9" font-size="9.3" textLength="65.4" lengthAdjust="spacingAndGlyphs" fill="#222">D486N – foldon</text>
<line x1="403.00" y1="219.60" x2="411.00" y2="219.60" stroke="#a9a9a9" stroke-width="1.2"/>
<text x="415.4" y="222.2" font-size="9.3" textLength="54.6" lengthAdjust="spacingAndGlyphs" fill="#222">preF + foldon</text>
<path d="M549.9,146.3 L550.5,146.3 L551.2,146.3 L551.8,146.3 L552.4,146.3 L553.1,146.3 L553.7,146.3 L554.4,146.3 L555.0,146.2 L555.6,146.2 L556.3,146.2 L556.9,146.2 L557.6,146.1 L558.2,146.1 L558.9,145.9 L559.5,145.7 L560.1,145.4 L560.8,145.1 L561.4,144.7 L562.1,144.3 L562.7,143.8 L563.4,143.2 L564.0,142.5 L564.6,141.7 L565.3,140.6 L565.9,139.2 L566.6,137.4 L567.2,135.2 L567.8,132.4 L568.5,129.1 L569.1,125.1 L569.8,120.6 L570.4,115.4 L571.1,109.7 L571.7,103.5 L572.3,97.0 L573.0,90.4 L573.6,83.8 L574.3,77.5 L574.9,71.8 L575.5,66.9 L576.2,63.0 L576.8,60.3 L577.5,58.9 L578.1,58.9 L578.8,60.2 L579.4,62.8 L580.0,66.6 L580.7,71.4 L581.3,76.9 L582.0,82.9 L582.6,89.2 L583.3,95.5 L583.9,101.6 L584.5,107.4 L585.2,112.8 L585.8,117.6 L586.5,121.8 L587.1,125.4 L587.7,128.5 L588.4,131.1 L589.0,133.2 L589.7,134.9 L590.3,136.3 L591.0,137.4 L591.6,138.3 L592.2,139.1 L592.9,139.7 L593.5,140.2 L594.2,140.6 L594.8,141.0 L595.5,141.3 L596.1,141.6 L596.7,141.9 L597.4,142.1 L598.0,142.3 L598.7,142.5 L599.3,142.6 L599.9,142.8 L600.6,142.9 L601.2,142.9 L601.9,143.0 L602.5,143.0 L603.2,143.1 L603.8,143.1 L604.4,143.1 L605.1,143.1 L605.7,143.1 L606.4,143.0 L607.0,143.0 L607.6,143.0 L608.3,143.0 L608.9,142.9 L609.6,142.9 L610.2,142.9 L610.9,142.9 L611.5,142.9 L612.1,142.9 L612.8,142.9 L613.4,142.9 L614.1,142.9 L614.7,143.0 L615.4,143.1 L616.0,143.2 L616.6,143.3 L617.3,143.4 L617.9,143.5 L618.6,143.6 L619.2,143.8 L619.8,143.9 L620.5,144.0 L621.1,144.2 L621.8,144.3 L622.4,144.4 L623.1,144.5 L623.7,144.7 L624.3,144.8 L625.0,144.8 L625.6,144.9 L626.3,145.0 L626.9,145.1 L627.6,145.2 L628.2,145.3 L628.8,145.3 L629.5,145.4 L630.1,145.5 L630.8,145.6 L631.4,145.7 L632.0,145.7 L632.7,145.8 L633.3,145.8 L634.0,145.9 L634.6,145.9 L635.3,146.0 L635.9,146.0 L636.5,146.0 L637.2,146.0 L637.8,146.0 L638.5,145.9 L639.1,145.9 L639.8,145.9 L640.4,145.9 L641.0,145.8 L641.7,145.8 L642.3,145.7 L643.0,145.7 L643.6,145.7 L644.2,145.6 L644.9,145.6 L645.5,145.5 L646.2,145.5 L646.8,145.4 L647.5,145.3 L648.1,145.3 L648.7,145.2 L649.4,145.1 L650.0,145.0 L650.7,145.0 L651.3,144.9 L651.9,144.8 L652.6,144.7 L653.2,144.6 L653.9,144.5 L654.5,144.4 L655.2,144.2 L655.8,144.1" fill="none" stroke="#a9a9a9" stroke-width="1.15" stroke-linejoin="round"/>
<path d="M549.9,146.3 L550.5,146.3 L551.2,146.3 L551.8,146.3 L552.4,146.3 L553.1,146.3 L553.7,146.3 L554.4,146.3 L555.0,146.2 L555.6,146.2 L556.3,146.2 L556.9,146.2 L557.6,146.1 L558.2,146.1 L558.9,145.9 L559.5,145.7 L560.1,145.4 L560.8,145.1 L561.4,144.8 L562.1,144.4 L562.7,143.9 L563.4,143.4 L564.0,142.8 L564.6,142.1 L565.3,141.1 L565.9,139.8 L566.6,138.2 L567.2,136.2 L567.8,133.6 L568.5,130.5 L569.1,126.8 L569.8,122.5 L570.4,117.6 L571.1,112.1 L571.7,106.0 L572.3,99.6 L573.0,92.9 L573.6,86.3 L574.3,79.8 L574.9,73.7 L575.5,68.4 L576.2,64.0 L576.8,60.7 L577.5,58.6 L578.1,58.0 L578.8,58.7 L579.4,60.8 L580.0,64.1 L580.7,68.5 L581.3,73.8 L582.0,79.6 L582.6,85.9 L583.3,92.2 L583.9,98.5 L584.5,104.5 L585.2,110.1 L585.8,115.2 L586.5,119.7 L587.1,123.7 L587.7,127.0 L588.4,129.9 L589.0,132.2 L589.7,134.1 L590.3,135.7 L591.0,136.9 L591.6,137.9 L592.2,138.7 L592.9,139.4 L593.5,139.9 L594.2,140.4 L594.8,140.8 L595.5,141.2 L596.1,141.5 L596.7,141.7 L597.4,142.0 L598.0,142.2 L598.7,142.4 L599.3,142.5 L599.9,142.7 L600.6,142.8 L601.2,142.9 L601.9,142.9 L602.5,143.0 L603.2,143.0 L603.8,143.0 L604.4,143.1 L605.1,143.1 L605.7,143.0 L606.4,143.0 L607.0,143.0 L607.6,143.0 L608.3,142.9 L608.9,142.9 L609.6,142.9 L610.2,142.9 L610.9,142.9 L611.5,142.8 L612.1,142.9 L612.8,142.9 L613.4,142.9 L614.1,142.9 L614.7,143.0 L615.4,143.1 L616.0,143.2 L616.6,143.3 L617.3,143.4 L617.9,143.5 L618.6,143.6 L619.2,143.8 L619.8,143.9 L620.5,144.0 L621.1,144.2 L621.8,144.3 L622.4,144.4 L623.1,144.5 L623.7,144.7 L624.3,144.8 L625.0,144.8 L625.6,144.9 L626.3,145.0 L626.9,145.1 L627.6,145.2 L628.2,145.3 L628.8,145.3 L629.5,145.4 L630.1,145.5 L630.8,145.6 L631.4,145.7 L632.0,145.7 L632.7,145.8 L633.3,145.8 L634.0,145.9 L634.6,145.9 L635.3,146.0 L635.9,146.0 L636.5,146.0 L637.2,146.0 L637.8,146.0 L638.5,145.9 L639.1,145.9 L639.8,145.9 L640.4,145.9 L641.0,145.8 L641.7,145.8 L642.3,145.7 L643.0,145.7 L643.6,145.7 L644.2,145.6 L644.9,145.6 L645.5,145.5 L646.2,145.5 L646.8,145.4 L647.5,145.3 L648.1,145.3 L648.7,145.2 L649.4,145.1 L650.0,145.0 L650.7,145.0 L651.3,144.9 L651.9,144.8 L652.6,144.7 L653.2,144.6 L653.9,144.5 L654.5,144.4 L655.2,144.2 L655.8,144.1" fill="none" stroke="#a9a9a9" stroke-width="1.15" stroke-linejoin="round" stroke-dasharray="2.6 1.6"/>
<path d="M549.9,146.3 L550.5,146.3 L551.2,146.3 L551.8,146.3 L552.4,146.3 L553.1,146.3 L553.7,146.3 L554.4,146.3 L555.0,146.2 L555.6,146.2 L556.3,146.2 L556.9,146.2 L557.6,146.1 L558.2,146.1 L558.9,145.9 L559.5,145.7 L560.1,145.5 L560.8,145.2 L561.4,144.8 L562.1,144.4 L562.7,144.0 L563.4,143.5 L564.0,143.0 L564.6,142.4 L565.3,141.5 L565.9,140.4 L566.6,138.9 L567.2,137.0 L567.8,134.6 L568.5,131.7 L569.1,128.3 L569.8,124.1 L570.4,119.4 L571.1,114.0 L571.7,108.1 L572.3,101.7 L573.0,95.0 L573.6,88.1 L574.3,81.4 L574.9,75.0 L575.5,69.2 L576.2,64.2 L576.8,60.3 L577.5,57.6 L578.1,56.3 L578.8,56.5 L579.4,58.0 L580.0,60.8 L580.7,64.9 L581.3,69.8 L582.0,75.6 L582.6,81.8 L583.3,88.3 L583.9,94.7 L584.5,101.0 L585.2,106.9 L585.8,112.4 L586.5,117.3 L587.1,121.5 L587.7,125.2 L588.4,128.3 L589.0,130.9 L589.7,133.1 L590.3,134.8 L591.0,136.2 L591.6,137.4 L592.2,138.3 L592.9,139.0 L593.5,139.6 L594.2,140.1 L594.8,140.6 L595.5,140.9 L596.1,141.3 L596.7,141.6 L597.4,141.8 L598.0,142.1 L598.7,142.3 L599.3,142.4 L599.9,142.6 L600.6,142.7 L601.2,142.8 L601.9,142.9 L602.5,142.9 L603.2,143.0 L603.8,143.0 L604.4,143.0 L605.1,143.0 L605.7,143.0 L606.4,143.0 L607.0,143.0 L607.6,142.9 L608.3,142.9 L608.9,142.9 L609.6,142.9 L610.2,142.9 L610.9,142.8 L611.5,142.8 L612.1,142.8 L612.8,142.9 L613.4,142.9 L614.1,142.9 L614.7,143.0 L615.4,143.1 L616.0,143.2 L616.6,143.3 L617.3,143.4 L617.9,143.5 L618.6,143.6 L619.2,143.8 L619.8,143.9 L620.5,144.0 L621.1,144.2 L621.8,144.3 L622.4,144.4 L623.1,144.5 L623.7,144.7 L624.3,144.8 L625.0,144.8 L625.6,144.9 L626.3,145.0 L626.9,145.1 L627.6,145.2 L628.2,145.3 L628.8,145.3 L629.5,145.4 L630.1,145.5 L630.8,145.6 L631.4,145.7 L632.0,145.7 L632.7,145.8 L633.3,145.8 L634.0,145.9 L634.6,145.9 L635.3,146.0 L635.9,146.0 L636.5,146.0 L637.2,146.0 L637.8,146.0 L638.5,145.9 L639.1,145.9 L639.8,145.9 L640.4,145.9 L641.0,145.8 L641.7,145.8 L642.3,145.7 L643.0,145.7 L643.6,145.7 L644.2,145.6 L644.9,145.6 L645.5,145.5 L646.2,145.5 L646.8,145.4 L647.5,145.3 L648.1,145.3 L648.7,145.2 L649.4,145.1 L650.0,145.0 L650.7,145.0 L651.3,144.9 L651.9,144.8 L652.6,144.7 L653.2,144.6 L653.9,144.5 L654.5,144.4 L655.2,144.2 L655.8,144.1" fill="none" stroke="#a9a9a9" stroke-width="1.15" stroke-linejoin="round" stroke-dasharray="0.9 1.7"/>
<path d="M549.9,145.7 L550.5,145.7 L551.2,145.7 L551.8,145.7 L552.4,145.7 L553.1,145.7 L553.7,145.7 L554.4,145.6 L555.0,145.6 L555.6,145.6 L556.3,145.6 L556.9,145.5 L557.6,145.3 L558.2,145.1 L558.9,144.8 L559.5,144.4 L560.1,144.0 L560.8,143.7 L561.4,143.3 L562.1,143.0 L562.7,142.7 L563.4,142.3 L564.0,142.0 L564.6,141.6 L565.3,141.3 L565.9,141.1 L566.6,140.9 L567.2,140.9 L567.8,140.9 L568.5,141.0 L569.1,141.2 L569.8,141.4 L570.4,141.7 L571.1,141.9 L571.7,142.2 L572.3,142.4 L573.0,142.6 L573.6,142.8 L574.3,143.0 L574.9,143.2 L575.5,143.4 L576.2,143.6 L576.8,143.8 L577.5,144.0 L578.1,144.2 L578.8,144.4 L579.4,144.5 L580.0,144.7 L580.7,144.8 L581.3,145.0 L582.0,145.1 L582.6,145.3 L583.3,145.4 L583.9,145.6 L584.5,145.7 L585.2,145.8 L585.8,145.9 L586.5,146.0 L587.1,146.1 L587.7,146.1 L588.4,146.2 L589.0,146.1 L589.7,146.1 L590.3,146.1 L591.0,146.0 L591.6,146.0 L592.2,145.9 L592.9,145.9 L593.5,145.8 L594.2,145.7 L594.8,145.6 L595.5,145.5 L596.1,145.4 L596.7,145.3 L597.4,145.2 L598.0,145.0 L598.7,144.7 L599.3,144.5 L599.9,144.2 L600.6,143.8 L601.2,143.4 L601.9,143.0 L602.5,142.5 L603.2,141.8 L603.8,141.1 L604.4,140.2 L605.1,139.2 L605.7,138.0 L606.4,136.5 L607.0,134.9 L607.6,133.0 L608.3,130.9 L608.9,128.6 L609.6,126.2 L610.2,123.6 L610.9,121.0 L611.5,118.4 L612.1,115.9 L612.8,113.5 L613.4,111.5 L614.1,109.8 L614.7,108.4 L615.4,107.6 L616.0,107.2 L616.6,107.3 L617.3,107.7 L617.9,108.3 L618.6,109.3 L619.2,110.5 L619.8,111.9 L620.5,113.4 L621.1,115.2 L621.8,117.0 L622.4,118.9 L623.1,120.8 L623.7,122.6 L624.3,124.5 L625.0,126.2 L625.6,127.9 L626.3,129.5 L626.9,130.9 L627.6,132.2 L628.2,133.4 L628.8,134.4 L629.5,135.3 L630.1,136.1 L630.8,136.8 L631.4,137.4 L632.0,138.0 L632.7,138.4 L633.3,138.8 L634.0,139.2 L634.6,139.6 L635.3,139.9 L635.9,140.2 L636.5,140.4 L637.2,140.7 L637.8,140.9 L638.5,141.0 L639.1,141.2 L639.8,141.3 L640.4,141.4 L641.0,141.5 L641.7,141.5 L642.3,141.5 L643.0,141.5 L643.6,141.5 L644.2,141.4 L644.9,141.4 L645.5,141.4 L646.2,141.4 L646.8,141.3 L647.5,141.3 L648.1,141.2 L648.7,141.2 L649.4,141.1 L650.0,141.0 L650.7,140.9 L651.3,140.8 L651.9,140.7 L652.6,140.6 L653.2,140.4 L653.9,140.3 L654.5,140.1 L655.2,139.9 L655.8,139.7" fill="none" stroke="#f5820d" stroke-width="1.25" stroke-linejoin="round"/>
<path d="M549.9,145.7 L550.5,145.7 L551.2,145.7 L551.8,145.7 L552.4,145.7 L553.1,145.7 L553.7,145.7 L554.4,145.6 L555.0,145.6 L555.6,145.6 L556.3,145.6 L556.9,145.5 L557.6,145.3 L558.2,145.1 L558.9,144.8 L559.5,144.4 L560.1,144.0 L560.8,143.7 L561.4,143.3 L562.1,143.0 L562.7,142.7 L563.4,142.3 L564.0,142.0 L564.6,141.6 L565.3,141.3 L565.9,141.1 L566.6,140.9 L567.2,140.9 L567.8,140.9 L568.5,141.0 L569.1,141.2 L569.8,141.4 L570.4,141.7 L571.1,141.9 L571.7,142.2 L572.3,142.4 L573.0,142.6 L573.6,142.8 L574.3,143.0 L574.9,143.2 L575.5,143.4 L576.2,143.6 L576.8,143.8 L577.5,144.0 L578.1,144.2 L578.8,144.4 L579.4,144.5 L580.0,144.7 L580.7,144.8 L581.3,145.0 L582.0,145.1 L582.6,145.3 L583.3,145.4 L583.9,145.6 L584.5,145.7 L585.2,145.8 L585.8,145.9 L586.5,146.0 L587.1,146.1 L587.7,146.1 L588.4,146.2 L589.0,146.1 L589.7,146.1 L590.3,146.1 L591.0,146.0 L591.6,146.0 L592.2,145.9 L592.9,145.9 L593.5,145.8 L594.2,145.7 L594.8,145.6 L595.5,145.5 L596.1,145.4 L596.7,145.2 L597.4,145.1 L598.0,144.8 L598.7,144.6 L599.3,144.2 L599.9,143.8 L600.6,143.4 L601.2,142.9 L601.9,142.2 L602.5,141.5 L603.2,140.6 L603.8,139.6 L604.4,138.4 L605.1,137.0 L605.7,135.4 L606.4,133.5 L607.0,131.4 L607.6,129.0 L608.3,126.4 L608.9,123.6 L609.6,120.7 L610.2,117.6 L610.9,114.6 L611.5,111.6 L612.1,108.7 L612.8,106.1 L613.4,103.7 L614.1,101.8 L614.7,100.3 L615.4,99.4 L616.0,99.0 L616.6,99.0 L617.3,99.4 L617.9,100.2 L618.6,101.2 L619.2,102.6 L619.8,104.1 L620.5,105.9 L621.1,107.8 L621.8,109.8 L622.4,112.0 L623.1,114.1 L623.7,116.2 L624.3,118.3 L625.0,120.4 L625.6,122.3 L626.3,124.1 L626.9,125.8 L627.6,127.3 L628.2,128.7 L628.8,129.9 L629.5,131.1 L630.1,132.0 L630.8,132.9 L631.4,133.7 L632.0,134.4 L632.7,135.0 L633.3,135.6 L634.0,136.1 L634.6,136.5 L635.3,136.9 L635.9,137.3 L636.5,137.6 L637.2,137.9 L637.8,138.1 L638.5,138.3 L639.1,138.5 L639.8,138.6 L640.4,138.7 L641.0,138.8 L641.7,138.8 L642.3,138.8 L643.0,138.8 L643.6,138.8 L644.2,138.8 L644.9,138.8 L645.5,138.7 L646.2,138.7 L646.8,138.7 L647.5,138.6 L648.1,138.6 L648.7,138.6 L649.4,138.5 L650.0,138.4 L650.7,138.3 L651.3,138.2 L651.9,138.1 L652.6,137.9 L653.2,137.8 L653.9,137.6 L654.5,137.5 L655.2,137.3 L655.8,137.1" fill="none" stroke="#f5820d" stroke-width="1.25" stroke-linejoin="round" stroke-dasharray="2.6 1.6"/>
<path d="M549.9,145.7 L550.5,145.7 L551.2,145.7 L551.8,145.7 L552.4,145.7 L553.1,145.7 L553.7,145.7 L554.4,145.6 L555.0,145.6 L555.6,145.6 L556.3,145.6 L556.9,145.5 L557.6,145.3 L558.2,145.1 L558.9,144.8 L559.5,144.4 L560.1,144.0 L560.8,143.7 L561.4,143.3 L562.1,143.0 L562.7,142.7 L563.4,142.3 L564.0,142.0 L564.6,141.6 L565.3,141.3 L565.9,141.1 L566.6,140.9 L567.2,140.9 L567.8,140.9 L568.5,141.0 L569.1,141.2 L569.8,141.4 L570.4,141.7 L571.1,141.9 L571.7,142.2 L572.3,142.4 L573.0,142.6 L573.6,142.8 L574.3,143.0 L574.9,143.2 L575.5,143.4 L576.2,143.6 L576.8,143.8 L577.5,144.0 L578.1,144.2 L578.8,144.4 L579.4,144.5 L580.0,144.7 L580.7,144.8 L581.3,145.0 L582.0,145.1 L582.6,145.3 L583.3,145.4 L583.9,145.6 L584.5,145.7 L585.2,145.8 L585.8,145.9 L586.5,146.0 L587.1,146.1 L587.7,146.1 L588.4,146.2 L589.0,146.1 L589.7,146.1 L590.3,146.1 L591.0,146.0 L591.6,146.0 L592.2,145.9 L592.9,145.9 L593.5,145.8 L594.2,145.7 L594.8,145.6 L595.5,145.5 L596.1,145.4 L596.7,145.3 L597.4,145.1 L598.0,144.9 L598.7,144.6 L599.3,144.3 L599.9,144.0 L600.6,143.6 L601.2,143.1 L601.9,142.5 L602.5,141.9 L603.2,141.1 L603.8,140.2 L604.4,139.1 L605.1,137.8 L605.7,136.4 L606.4,134.6 L607.0,132.7 L607.6,130.5 L608.3,128.1 L608.9,125.5 L609.6,122.7 L610.2,119.8 L610.9,116.9 L611.5,114.1 L612.1,111.3 L612.8,108.8 L613.4,106.6 L614.1,104.7 L614.7,103.3 L615.4,102.4 L616.0,102.0 L616.6,102.1 L617.3,102.5 L617.9,103.2 L618.6,104.2 L619.2,105.4 L619.8,106.9 L620.5,108.5 L621.1,110.4 L621.8,112.3 L622.4,114.3 L623.1,116.4 L623.7,118.4 L624.3,120.4 L625.0,122.3 L625.6,124.1 L626.3,125.9 L626.9,127.5 L627.6,128.9 L628.2,130.3 L628.8,131.4 L629.5,132.5 L630.1,133.5 L630.8,134.3 L631.4,135.0 L632.0,135.7 L632.7,136.2 L633.3,136.8 L634.0,137.2 L634.6,137.7 L635.3,138.0 L635.9,138.4 L636.5,138.7 L637.2,138.9 L637.8,139.2 L638.5,139.4 L639.1,139.6 L639.8,139.7 L640.4,139.8 L641.0,139.9 L641.7,139.9 L642.3,139.9 L643.0,139.9 L643.6,139.9 L644.2,139.9 L644.9,139.8 L645.5,139.8 L646.2,139.8 L646.8,139.7 L647.5,139.7 L648.1,139.7 L648.7,139.6 L649.4,139.5 L650.0,139.5 L650.7,139.4 L651.3,139.2 L651.9,139.1 L652.6,139.0 L653.2,138.8 L653.9,138.7 L654.5,138.5 L655.2,138.3 L655.8,138.2" fill="none" stroke="#f5820d" stroke-width="1.25" stroke-linejoin="round" stroke-dasharray="0.9 1.7"/>
<path d="M549.9,147.7 L550.5,147.8 L551.2,147.8 L551.8,147.9 L552.4,147.9 L553.1,147.9 L553.7,147.9 L554.4,147.9 L555.0,147.9 L555.6,147.8 L556.3,147.5 L556.9,147.2 L557.6,146.9 L558.2,146.5 L558.9,146.1 L559.5,145.6 L560.1,145.0 L560.8,144.4 L561.4,143.8 L562.1,143.1 L562.7,142.3 L563.4,141.4 L564.0,140.5 L564.6,139.5 L565.3,138.6 L565.9,137.7 L566.6,136.9 L567.2,135.9 L567.8,134.7 L568.5,133.4 L569.1,131.8 L569.8,130.0 L570.4,127.9 L571.1,125.7 L571.7,123.4 L572.3,121.1 L573.0,118.8 L573.6,116.7 L574.3,114.8 L574.9,113.3 L575.5,112.2 L576.2,111.6 L576.8,111.5 L577.5,112.0 L578.1,112.8 L578.8,113.9 L579.4,115.5 L580.0,117.2 L580.7,119.2 L581.3,121.4 L582.0,123.6 L582.6,125.9 L583.3,128.1 L583.9,130.2 L584.5,132.2 L585.2,134.0 L585.8,135.7 L586.5,137.2 L587.1,138.5 L587.7,139.7 L588.4,140.7 L589.0,141.5 L589.7,142.1 L590.3,142.7 L591.0,143.1 L591.6,143.5 L592.2,143.7 L592.9,143.9 L593.5,144.0 L594.2,144.1 L594.8,144.0 L595.5,143.8 L596.1,143.6 L596.7,143.3 L597.4,143.0 L598.0,142.6 L598.7,142.2 L599.3,141.6 L599.9,140.9 L600.6,140.1 L601.2,139.3 L601.9,138.5 L602.5,137.7 L603.2,137.1 L603.8,136.5 L604.4,136.0 L605.1,135.5 L605.7,135.0 L606.4,134.5 L607.0,134.0 L607.6,133.5 L608.3,133.1 L608.9,132.7 L609.6,132.3 L610.2,132.0 L610.9,131.8 L611.5,131.6 L612.1,131.5 L612.8,131.5 L613.4,131.5 L614.1,131.6 L614.7,131.7 L615.4,131.8 L616.0,132.0 L616.6,132.1 L617.3,132.3 L617.9,132.5 L618.6,132.7 L619.2,133.0 L619.8,133.2 L620.5,133.4 L621.1,133.6 L621.8,133.8 L622.4,134.1 L623.1,134.3 L623.7,134.4 L624.3,134.6 L625.0,134.7 L625.6,134.9 L626.3,135.0 L626.9,135.2 L627.6,135.3 L628.2,135.5 L628.8,135.6 L629.5,135.7 L630.1,135.9 L630.8,136.0 L631.4,136.2 L632.0,136.3 L632.7,136.4 L633.3,136.5 L634.0,136.6 L634.6,136.7 L635.3,136.8 L635.9,136.9 L636.5,136.9 L637.2,137.0 L637.8,137.0 L638.5,137.0 L639.1,137.0 L639.8,137.0 L640.4,136.9 L641.0,136.9 L641.7,136.8 L642.3,136.7 L643.0,136.6 L643.6,136.5 L644.2,136.4 L644.9,136.3 L645.5,136.2 L646.2,136.1 L646.8,135.9 L647.5,135.6 L648.1,135.2 L648.7,134.7 L649.4,134.3 L650.0,133.8 L650.7,133.4 L651.3,133.1 L651.9,132.8 L652.6,132.7 L653.2,132.7 L653.9,132.8 L654.5,133.1 L655.2,133.4 L655.8,133.9" fill="none" stroke="#1282a2" stroke-width="1.25" stroke-linejoin="round"/>
<path d="M549.9,147.7 L550.5,147.8 L551.2,147.8 L551.8,147.9 L552.4,147.9 L553.1,147.9 L553.7,147.9 L554.4,147.9 L555.0,147.9 L555.6,147.8 L556.3,147.5 L556.9,147.2 L557.6,146.9 L558.2,146.5 L558.9,146.1 L559.5,145.6 L560.1,145.1 L560.8,144.5 L561.4,143.9 L562.1,143.3 L562.7,142.6 L563.4,141.8 L564.0,141.0 L564.6,140.3 L565.3,139.7 L565.9,139.2 L566.6,138.9 L567.2,138.6 L567.8,138.3 L568.5,137.9 L569.1,137.4 L569.8,136.8 L570.4,136.2 L571.1,135.6 L571.7,134.9 L572.3,134.1 L573.0,133.4 L573.6,132.8 L574.3,132.3 L574.9,131.9 L575.5,131.7 L576.2,131.6 L576.8,131.7 L577.5,132.0 L578.1,132.5 L578.8,133.0 L579.4,133.7 L580.0,134.5 L580.7,135.4 L581.3,136.3 L582.0,137.2 L582.6,138.0 L583.3,138.9 L583.9,139.7 L584.5,140.4 L585.2,141.0 L585.8,141.6 L586.5,142.1 L587.1,142.6 L587.7,143.0 L588.4,143.3 L589.0,143.6 L589.7,143.8 L590.3,143.9 L591.0,144.1 L591.6,144.2 L592.2,144.2 L592.9,144.3 L593.5,144.3 L594.2,144.3 L594.8,144.1 L595.5,143.9 L596.1,143.6 L596.7,143.3 L597.4,143.0 L598.0,142.6 L598.7,142.2 L599.3,141.6 L599.9,140.9 L600.6,140.1 L601.2,139.3 L601.9,138.5 L602.5,137.7 L603.2,137.1 L603.8,136.5 L604.4,136.0 L605.1,135.5 L605.7,135.0 L606.4,134.5 L607.0,134.0 L607.6,133.5 L608.3,133.1 L608.9,132.7 L609.6,132.3 L610.2,132.0 L610.9,131.8 L611.5,131.6 L612.1,131.5 L612.8,131.5 L613.4,131.5 L614.1,131.6 L614.7,131.7 L615.4,131.8 L616.0,132.0 L616.6,132.1 L617.3,132.3 L617.9,132.5 L618.6,132.7 L619.2,133.0 L619.8,133.2 L620.5,133.4 L621.1,133.6 L621.8,133.8 L622.4,134.1 L623.1,134.3 L623.7,134.4 L624.3,134.6 L625.0,134.7 L625.6,134.9 L626.3,135.0 L626.9,135.2 L627.6,134.6 L628.2,134.7 L628.8,134.9 L629.5,135.0 L630.1,135.2 L630.8,135.3 L631.4,135.5 L632.0,135.6 L632.7,135.7 L633.3,135.8 L634.0,135.9 L634.6,136.0 L635.3,136.1 L635.9,136.2 L636.5,136.2 L637.2,136.3 L637.8,136.3 L638.5,136.3 L639.1,136.3 L639.8,136.3 L640.4,136.2 L641.0,136.2 L641.7,136.1 L642.3,136.0 L643.0,135.9 L643.6,135.8 L644.2,135.7 L644.9,135.6 L645.5,135.5 L646.2,135.4 L646.8,135.2 L647.5,134.9 L648.1,134.5 L648.7,134.0 L649.4,133.6 L650.0,133.1 L650.7,132.7 L651.3,132.4 L651.9,132.1 L652.6,132.0 L653.2,132.0 L653.9,132.1 L654.5,132.4 L655.2,132.7 L655.8,133.2" fill="none" stroke="#1282a2" stroke-width="1.25" stroke-linejoin="round" stroke-dasharray="2.6 1.6"/>
<path d="M549.9,147.7 L550.5,147.8 L551.2,147.8 L551.8,147.9 L552.4,147.9 L553.1,147.9 L553.7,147.9 L554.4,147.9 L555.0,147.9 L555.6,147.8 L556.3,147.5 L556.9,147.2 L557.6,146.8 L558.2,146.4 L558.9,145.9 L559.5,145.3 L560.1,144.5 L560.8,143.8 L561.4,143.1 L562.1,142.4 L562.7,141.7 L563.4,141.0 L564.0,140.3 L564.6,139.7 L565.3,139.1 L565.9,138.7 L566.6,138.4 L567.2,138.3 L567.8,138.3 L568.5,138.4 L569.1,138.5 L569.8,138.6 L570.4,138.8 L571.1,139.0 L571.7,139.2 L572.3,139.4 L573.0,139.6 L573.6,139.7 L574.3,139.9 L574.9,140.1 L575.5,140.3 L576.2,140.4 L576.8,140.6 L577.5,140.8 L578.1,141.0 L578.8,141.2 L579.4,141.4 L580.0,141.6 L580.7,141.8 L581.3,142.0 L582.0,142.2 L582.6,142.5 L583.3,142.8 L583.9,143.1 L584.5,143.4 L585.2,143.7 L585.8,143.9 L586.5,144.1 L587.1,144.3 L587.7,144.4 L588.4,144.4 L589.0,144.4 L589.7,144.4 L590.3,144.4 L591.0,144.4 L591.6,144.4 L592.2,144.4 L592.9,144.4 L593.5,144.4 L594.2,144.4 L594.8,144.4 L595.5,144.4 L596.1,144.4 L596.7,144.3 L597.4,144.0 L598.0,143.6 L598.7,143.1 L599.3,142.5 L599.9,141.9 L600.6,141.2 L601.2,140.5 L601.9,139.8 L602.5,139.2 L603.2,138.7 L603.8,138.3 L604.4,137.9 L605.1,137.5 L605.7,137.1 L606.4,136.8 L607.0,136.4 L607.6,136.0 L608.3,135.7 L608.9,135.4 L609.6,135.1 L610.2,134.8 L610.9,134.6 L611.5,134.4 L612.1,134.2 L612.8,134.2 L613.4,134.1 L614.1,134.1 L614.7,134.2 L615.4,134.2 L616.0,134.3 L616.6,134.4 L617.3,134.4 L617.9,134.5 L618.6,134.6 L619.2,134.7 L619.8,134.9 L620.5,135.0 L621.1,135.1 L621.8,135.2 L622.4,135.3 L623.1,135.4 L623.7,135.5 L624.3,135.6 L625.0,135.6 L625.6,135.7 L626.3,135.7 L626.9,135.8 L627.6,135.9 L628.2,135.9 L628.8,136.0 L629.5,136.0 L630.1,136.1 L630.8,136.1 L631.4,136.2 L632.0,136.2 L632.7,136.3 L633.3,136.3 L634.0,136.4 L634.6,136.4 L635.3,136.4 L635.9,136.4 L636.5,136.5 L637.2,136.5 L637.8,136.5 L638.5,136.5 L639.1,136.5 L639.8,136.5 L640.4,136.5 L641.0,136.4 L641.7,136.4 L642.3,136.4 L643.0,136.3 L643.6,136.3 L644.2,136.2 L644.9,136.2 L645.5,136.1 L646.2,136.1 L646.8,136.0 L647.5,135.8 L648.1,135.6 L648.7,135.4 L649.4,135.2 L650.0,134.9 L650.7,134.7 L651.3,134.5 L651.9,134.4 L652.6,134.3 L653.2,134.3 L653.9,134.4 L654.5,134.4 L655.2,134.6 L655.8,134.7" fill="none" stroke="#1282a2" stroke-width="1.25" stroke-linejoin="round" stroke-dasharray="0.9 1.7"/>
<line x1="549.80" y1="47.30" x2="549.80" y2="153.80" stroke="#4a4a4a" stroke-width="0.9"/>
<line x1="549.35" y1="153.40" x2="656.25" y2="153.40" stroke="#4a4a4a" stroke-width="0.9"/>
<line x1="545.00" y1="144.40" x2="549.80" y2="144.40" stroke="#4a4a4a" stroke-width="0.9"/>
<text x="541.5" y="146.7" font-size="8.2" text-anchor="end" textLength="4.4" lengthAdjust="spacingAndGlyphs" fill="#222">0</text>
<line x1="545.00" y1="126.84" x2="549.80" y2="126.84" stroke="#4a4a4a" stroke-width="0.9"/>
<text x="541.5" y="129.1" font-size="8.2" text-anchor="end" textLength="4.4" lengthAdjust="spacingAndGlyphs" fill="#222">2</text>
<line x1="545.00" y1="109.28" x2="549.80" y2="109.28" stroke="#4a4a4a" stroke-width="0.9"/>
<text x="541.5" y="111.6" font-size="8.2" text-anchor="end" textLength="4.4" lengthAdjust="spacingAndGlyphs" fill="#222">4</text>
<line x1="545.00" y1="91.72" x2="549.80" y2="91.72" stroke="#4a4a4a" stroke-width="0.9"/>
<text x="541.5" y="94.0" font-size="8.2" text-anchor="end" textLength="4.4" lengthAdjust="spacingAndGlyphs" fill="#222">6</text>
<line x1="545.00" y1="74.16" x2="549.80" y2="74.16" stroke="#4a4a4a" stroke-width="0.9"/>
<text x="541.5" y="76.5" font-size="8.2" text-anchor="end" textLength="4.4" lengthAdjust="spacingAndGlyphs" fill="#222">8</text>
<line x1="545.00" y1="56.60" x2="549.80" y2="56.60" stroke="#4a4a4a" stroke-width="0.9"/>
<text x="541.5" y="58.9" font-size="8.2" text-anchor="end" textLength="8.2" lengthAdjust="spacingAndGlyphs" fill="#222">10</text>
<line x1="559.50" y1="153.40" x2="559.50" y2="157.80" stroke="#4a4a4a" stroke-width="0.9"/>
<text x="559.7" y="166.4" font-size="8.6" text-anchor="middle" textLength="10.3" lengthAdjust="spacingAndGlyphs" fill="#222">4.2</text>
<line x1="578.76" y1="153.40" x2="578.76" y2="157.80" stroke="#4a4a4a" stroke-width="0.9"/>
<text x="579.0" y="166.4" font-size="8.6" text-anchor="middle" textLength="10.3" lengthAdjust="spacingAndGlyphs" fill="#222">4.4</text>
<line x1="598.02" y1="153.40" x2="598.02" y2="157.80" stroke="#4a4a4a" stroke-width="0.9"/>
<text x="598.2" y="166.4" font-size="8.6" text-anchor="middle" textLength="10.3" lengthAdjust="spacingAndGlyphs" fill="#222">4.6</text>
<line x1="617.28" y1="153.40" x2="617.28" y2="157.80" stroke="#4a4a4a" stroke-width="0.9"/>
<text x="617.5" y="166.4" font-size="8.6" text-anchor="middle" textLength="10.3" lengthAdjust="spacingAndGlyphs" fill="#222">4.8</text>
<line x1="636.54" y1="153.40" x2="636.54" y2="157.80" stroke="#4a4a4a" stroke-width="0.9"/>
<text x="636.7" y="166.4" font-size="8.6" text-anchor="middle" textLength="10.3" lengthAdjust="spacingAndGlyphs" fill="#222">5.0</text>
<line x1="655.80" y1="153.40" x2="655.80" y2="157.80" stroke="#4a4a4a" stroke-width="0.9"/>
<text x="656.0" y="166.4" font-size="8.6" text-anchor="middle" textLength="10.3" lengthAdjust="spacingAndGlyphs" fill="#222">5.2</text>
<text x="602.8" y="178.8" font-size="9" text-anchor="middle" textLength="43.6" lengthAdjust="spacingAndGlyphs" fill="#222">Time (min)</text>
<text x="525.9" y="99.8" font-size="9" text-anchor="middle" textLength="56.2" lengthAdjust="spacingAndGlyphs" transform="rotate(-90 525.9 99.8)" fill="#222">OD280 (mAU)</text>
<text x="578.6" y="51.7" font-size="9" text-anchor="middle" fill="#222">T</text>
<text x="615.8" y="97.0" font-size="9" text-anchor="middle" fill="#222">M</text>
<line x1="553.60" y1="197.10" x2="561.60" y2="197.10" stroke="#1282a2" stroke-width="1.2"/>
<text x="566.0" y="199.7" font-size="9.3" textLength="63.6" lengthAdjust="spacingAndGlyphs" fill="#222">E487Q + foldon</text>
<line x1="553.60" y1="208.30" x2="561.60" y2="208.30" stroke="#f5820d" stroke-width="1.2"/>
<text x="566.0" y="210.9" font-size="9.3" textLength="63.6" lengthAdjust="spacingAndGlyphs" fill="#222">E487Q – foldon</text>
<line x1="553.60" y1="219.60" x2="561.60" y2="219.60" stroke="#a9a9a9" stroke-width="1.2"/>
<text x="566.0" y="222.2" font-size="9.3" textLength="55.0" lengthAdjust="spacingAndGlyphs" fill="#222">preF + foldon</text>
<line x1="646.00" y1="44.50" x2="657.60" y2="44.50" stroke="#b0b0b0" stroke-width="1.4"/>
<line x1="646.00" y1="55.20" x2="657.60" y2="55.20" stroke="#555" stroke-width="0.8" stroke-dasharray="2.6 2"/>
<line x1="646.00" y1="65.90" x2="657.60" y2="65.90" stroke="#444" stroke-width="0.9" stroke-dasharray="0.9 2.2"/>
<text x="661.7" y="47.2" font-size="8.8" textLength="23.6" lengthAdjust="spacingAndGlyphs" fill="#222">Day 0</text>
<text x="661.7" y="57.8" font-size="8.8" textLength="21.6" lengthAdjust="spacingAndGlyphs" fill="#222">Day 2</text>
<text x="661.7" y="68.4" font-size="8.8" textLength="21.6" lengthAdjust="spacingAndGlyphs" fill="#222">Day 7</text>
<rect x="36.4" y="308.8" width="4.8" height="47.6" fill="#bf5b04"/>
<line x1="38.80" y1="308.80" x2="38.80" y2="303.20" stroke="#444" stroke-width="0.7"/>
<line x1="37.20" y1="303.20" x2="40.40" y2="303.20" stroke="#444" stroke-width="0.7"/>
<circle cx="38.3" cy="302.4" r="1.25" fill="#fff" fill-opacity="0.3" stroke="#b0b0b0" stroke-width="0.6"/>
<circle cx="38.9" cy="310.8" r="1.25" fill="#fff" fill-opacity="0.3" stroke="#b0b0b0" stroke-width="0.6"/>
<circle cx="38.6" cy="313.3" r="1.25" fill="#fff" fill-opacity="0.3" stroke="#b0b0b0" stroke-width="0.6"/>
<rect x="43.5" y="310.0" width="4.8" height="46.4" fill="#f07d05"/>
<line x1="45.90" y1="310.00" x2="45.90" y2="303.60" stroke="#444" stroke-width="0.7"/>
<line x1="44.30" y1="303.60" x2="47.50" y2="303.60" stroke="#444" stroke-width="0.7"/>
<circle cx="46.1" cy="302.6" r="1.25" fill="#fff" fill-opacity="0.3" stroke="#b0b0b0" stroke-width="0.6"/>
<circle cx="46.1" cy="312.2" r="1.25" fill="#fff" fill-opacity="0.3" stroke="#b0b0b0" stroke-width="0.6"/>
<circle cx="45.1" cy="315.1" r="1.25" fill="#fff" fill-opacity="0.3" stroke="#b0b0b0" stroke-width="0.6"/>
<rect x="50.6" y="311.2" width="4.8" height="45.2" fill="#ff9f40"/>
<line x1="53.00" y1="311.20" x2="53.00" y2="307.20" stroke="#444" stroke-width="0.7"/>
<line x1="51.40" y1="307.20" x2="54.60" y2="307.20" stroke="#444" stroke-width="0.7"/>
<circle cx="52.1" cy="306.6" r="1.25" fill="#fff" fill-opacity="0.3" stroke="#b0b0b0" stroke-width="0.6"/>
<circle cx="53.6" cy="312.6" r="1.25" fill="#fff" fill-opacity="0.3" stroke="#b0b0b0" stroke-width="0.6"/>
<circle cx="52.6" cy="314.4" r="1.25" fill="#fff" fill-opacity="0.3" stroke="#b0b0b0" stroke-width="0.6"/>
<rect x="64.8" y="289.2" width="4.8" height="67.2" fill="#04506a"/>
<line x1="67.20" y1="289.20" x2="67.20" y2="285.20" stroke="#444" stroke-width="0.7"/>
<line x1="65.60" y1="285.20" x2="68.80" y2="285.20" stroke="#444" stroke-width="0.7"/>
<circle cx="66.7" cy="284.6" r="1.25" fill="#fff" fill-opacity="0.3" stroke="#b0b0b0" stroke-width="0.6"/>
<circle cx="68.1" cy="290.6" r="1.25" fill="#fff" fill-opacity="0.3" stroke="#b0b0b0" stroke-width="0.6"/>
<circle cx="67.1" cy="292.4" r="1.25" fill="#fff" fill-opacity="0.3" stroke="#b0b0b0" stroke-width="0.6"/>
<rect x="71.9" y="355.4" width="4.8" height="1.0" fill="#0b7f99"/>
<circle cx="74.9" cy="355.4" r="1.25" fill="#fff" fill-opacity="0.3" stroke="#b0b0b0" stroke-width="0.6"/>
<circle cx="74.3" cy="355.4" r="1.25" fill="#fff" fill-opacity="0.3" stroke="#b0b0b0" stroke-width="0.6"/>
<circle cx="74.6" cy="355.4" r="1.25" fill="#fff" fill-opacity="0.3" stroke="#b0b0b0" stroke-width="0.6"/>
<rect x="90.6" y="320.0" width="4.8" height="36.4" fill="#bf5b04"/>
<line x1="93.00" y1="320.00" x2="93.00" y2="310.40" stroke="#444" stroke-width="0.7"/>
<line x1="91.40" y1="310.40" x2="94.60" y2="310.40" stroke="#444" stroke-width="0.7"/>
<circle cx="92.4" cy="307.5" r="1.25" fill="#fff" fill-opacity="0.3" stroke="#b0b0b0" stroke-width="0.6"/>
<circle cx="93.2" cy="319.0" r="1.25" fill="#fff" fill-opacity="0.3" stroke="#b0b0b0" stroke-width="0.6"/>
<circle cx="93.7" cy="324.8" r="1.25" fill="#fff" fill-opacity="0.3" stroke="#b0b0b0" stroke-width="0.6"/>
<circle cx="93.0" cy="328.6" r="1.25" fill="#fff" fill-opacity="0.3" stroke="#b0b0b0" stroke-width="0.6"/>
<rect x="97.7" y="322.0" width="4.8" height="34.4" fill="#f07d05"/>
<line x1="100.10" y1="322.00" x2="100.10" y2="311.60" stroke="#444" stroke-width="0.7"/>
<line x1="98.50" y1="311.60" x2="101.70" y2="311.60" stroke="#444" stroke-width="0.7"/>
<circle cx="100.5" cy="308.5" r="1.25" fill="#fff" fill-opacity="0.3" stroke="#b0b0b0" stroke-width="0.6"/>
<circle cx="100.4" cy="321.0" r="1.25" fill="#fff" fill-opacity="0.3" stroke="#b0b0b0" stroke-width="0.6"/>
<circle cx="99.3" cy="327.2" r="1.25" fill="#fff" fill-opacity="0.3" stroke="#b0b0b0" stroke-width="0.6"/>
<circle cx="100.6" cy="331.4" r="1.25" fill="#fff" fill-opacity="0.3" stroke="#b0b0b0" stroke-width="0.6"/>
<rect x="104.8" y="324.0" width="4.8" height="32.4" fill="#ff9f40"/>
<line x1="107.20" y1="324.00" x2="107.20" y2="316.00" stroke="#444" stroke-width="0.7"/>
<line x1="105.60" y1="316.00" x2="108.80" y2="316.00" stroke="#444" stroke-width="0.7"/>
<circle cx="107.4" cy="313.6" r="1.25" fill="#fff" fill-opacity="0.3" stroke="#b0b0b0" stroke-width="0.6"/>
<circle cx="106.8" cy="323.2" r="1.25" fill="#fff" fill-opacity="0.3" stroke="#b0b0b0" stroke-width="0.6"/>
<circle cx="106.4" cy="328.0" r="1.25" fill="#fff" fill-opacity="0.3" stroke="#b0b0b0" stroke-width="0.6"/>
<circle cx="107.9" cy="331.2" r="1.25" fill="#fff" fill-opacity="0.3" stroke="#b0b0b0" stroke-width="0.6"/>
<rect x="119.0" y="272.8" width="4.8" height="83.6" fill="#04506a"/>
<line x1="121.40" y1="272.80" x2="121.40" y2="268.80" stroke="#444" stroke-width="0.7"/>
<line x1="119.80" y1="268.80" x2="123.00" y2="268.80" stroke="#444" stroke-width="0.7"/>
<circle cx="121.4" cy="268.2" r="1.25" fill="#fff" fill-opacity="0.3" stroke="#b0b0b0" stroke-width="0.6"/>
<circle cx="121.8" cy="274.2" r="1.25" fill="#fff" fill-opacity="0.3" stroke="#b0b0b0" stroke-width="0.6"/>
<circle cx="122.1" cy="276.0" r="1.25" fill="#fff" fill-opacity="0.3" stroke="#b0b0b0" stroke-width="0.6"/>
<rect x="126.1" y="342.8" width="4.8" height="13.6" fill="#0b7f99"/>
<line x1="128.50" y1="342.80" x2="128.50" y2="331.20" stroke="#444" stroke-width="0.7"/>
<line x1="126.90" y1="331.20" x2="130.10" y2="331.20" stroke="#444" stroke-width="0.7"/>
<circle cx="128.8" cy="326.8" r="1.25" fill="#fff" fill-opacity="0.3" stroke="#b0b0b0" stroke-width="0.6"/>
<circle cx="129.2" cy="346.8" r="1.25" fill="#fff" fill-opacity="0.3" stroke="#b0b0b0" stroke-width="0.6"/>
<circle cx="128.3" cy="348.4" r="1.25" fill="#fff" fill-opacity="0.3" stroke="#b0b0b0" stroke-width="0.6"/>
<circle cx="129.0" cy="350.8" r="1.25" fill="#fff" fill-opacity="0.3" stroke="#b0b0b0" stroke-width="0.6"/>
<rect x="133.2" y="351.6" width="4.8" height="4.8" fill="#129ab5"/>
<line x1="135.60" y1="351.60" x2="135.60" y2="348.80" stroke="#444" stroke-width="0.7"/>
<line x1="134.00" y1="348.80" x2="137.20" y2="348.80" stroke="#444" stroke-width="0.7"/>
<circle cx="135.5" cy="348.4" r="1.25" fill="#fff" fill-opacity="0.3" stroke="#b0b0b0" stroke-width="0.6"/>
<circle cx="136.4" cy="352.6" r="1.25" fill="#fff" fill-opacity="0.3" stroke="#b0b0b0" stroke-width="0.6"/>
<circle cx="136.3" cy="353.8" r="1.25" fill="#fff" fill-opacity="0.3" stroke="#b0b0b0" stroke-width="0.6"/>
<rect x="144.8" y="325.2" width="4.8" height="31.2" fill="#bf5b04"/>
<line x1="147.20" y1="325.20" x2="147.20" y2="317.20" stroke="#444" stroke-width="0.7"/>
<line x1="145.60" y1="317.20" x2="148.80" y2="317.20" stroke="#444" stroke-width="0.7"/>
<circle cx="146.5" cy="314.8" r="1.25" fill="#fff" fill-opacity="0.3" stroke="#b0b0b0" stroke-width="0.6"/>
<circle cx="146.5" cy="324.4" r="1.25" fill="#fff" fill-opacity="0.3" stroke="#b0b0b0" stroke-width="0.6"/>
<circle cx="146.7" cy="329.2" r="1.25" fill="#fff" fill-opacity="0.3" stroke="#b0b0b0" stroke-width="0.6"/>
<circle cx="148.0" cy="332.4" r="1.25" fill="#fff" fill-opacity="0.3" stroke="#b0b0b0" stroke-width="0.6"/>
<rect x="151.9" y="329.2" width="4.8" height="27.2" fill="#f07d05"/>
<line x1="154.30" y1="329.20" x2="154.30" y2="321.20" stroke="#444" stroke-width="0.7"/>
<line x1="152.70" y1="321.20" x2="155.90" y2="321.20" stroke="#444" stroke-width="0.7"/>
<circle cx="154.2" cy="318.8" r="1.25" fill="#fff" fill-opacity="0.3" stroke="#b0b0b0" stroke-width="0.6"/>
<circle cx="154.5" cy="328.4" r="1.25" fill="#fff" fill-opacity="0.3" stroke="#b0b0b0" stroke-width="0.6"/>
<circle cx="153.9" cy="333.2" r="1.25" fill="#fff" fill-opacity="0.3" stroke="#b0b0b0" stroke-width="0.6"/>
<circle cx="154.3" cy="336.4" r="1.25" fill="#fff" fill-opacity="0.3" stroke="#b0b0b0" stroke-width="0.6"/>
<rect x="159.0" y="330.4" width="4.8" height="26.0" fill="#ff9f40"/>
<line x1="161.40" y1="330.40" x2="161.40" y2="323.20" stroke="#444" stroke-width="0.7"/>
<line x1="159.80" y1="323.20" x2="163.00" y2="323.20" stroke="#444" stroke-width="0.7"/>
<circle cx="161.2" cy="321.0" r="1.25" fill="#fff" fill-opacity="0.3" stroke="#b0b0b0" stroke-width="0.6"/>
<circle cx="161.1" cy="329.7" r="1.25" fill="#fff" fill-opacity="0.3" stroke="#b0b0b0" stroke-width="0.6"/>
<circle cx="161.6" cy="334.0" r="1.25" fill="#fff" fill-opacity="0.3" stroke="#b0b0b0" stroke-width="0.6"/>
<circle cx="161.6" cy="336.9" r="1.25" fill="#fff" fill-opacity="0.3" stroke="#b0b0b0" stroke-width="0.6"/>
<rect x="173.2" y="275.6" width="4.8" height="80.8" fill="#04506a"/>
<line x1="175.60" y1="275.60" x2="175.60" y2="273.60" stroke="#444" stroke-width="0.7"/>
<line x1="174.00" y1="273.60" x2="177.20" y2="273.60" stroke="#444" stroke-width="0.7"/>
<circle cx="176.3" cy="273.3" r="1.25" fill="#fff" fill-opacity="0.3" stroke="#b0b0b0" stroke-width="0.6"/>
<circle cx="175.9" cy="276.3" r="1.25" fill="#fff" fill-opacity="0.3" stroke="#b0b0b0" stroke-width="0.6"/>
<circle cx="176.4" cy="277.2" r="1.25" fill="#fff" fill-opacity="0.3" stroke="#b0b0b0" stroke-width="0.6"/>
<rect x="180.3" y="338.8" width="4.8" height="17.6" fill="#0b7f99"/>
<line x1="182.70" y1="338.80" x2="182.70" y2="334.80" stroke="#444" stroke-width="0.7"/>
<line x1="181.10" y1="334.80" x2="184.30" y2="334.80" stroke="#444" stroke-width="0.7"/>
<circle cx="183.3" cy="334.2" r="1.25" fill="#fff" fill-opacity="0.3" stroke="#b0b0b0" stroke-width="0.6"/>
<circle cx="183.6" cy="340.2" r="1.25" fill="#fff" fill-opacity="0.3" stroke="#b0b0b0" stroke-width="0.6"/>
<circle cx="183.0" cy="342.0" r="1.25" fill="#fff" fill-opacity="0.3" stroke="#b0b0b0" stroke-width="0.6"/>
<circle cx="189.2" cy="356.4" r="1.25" fill="#fff" fill-opacity="0.3" stroke="#b0b0b0" stroke-width="0.6"/>
<circle cx="190.4" cy="356.4" r="1.25" fill="#fff" fill-opacity="0.3" stroke="#b0b0b0" stroke-width="0.6"/>
<circle cx="190.6" cy="356.4" r="1.25" fill="#fff" fill-opacity="0.3" stroke="#b0b0b0" stroke-width="0.6"/>
<line x1="34.60" y1="259.95" x2="34.60" y2="356.85" stroke="#555" stroke-width="0.9"/>
<line x1="34.60" y1="356.40" x2="195.20" y2="356.40" stroke="#555" stroke-width="0.9"/>
<line x1="30.00" y1="356.40" x2="34.60" y2="356.40" stroke="#777" stroke-width="0.9"/>
<text x="26.1" y="359.1" font-size="8.4" text-anchor="end" textLength="4.7" lengthAdjust="spacingAndGlyphs" fill="#222">0</text>
<line x1="30.00" y1="340.40" x2="34.60" y2="340.40" stroke="#777" stroke-width="0.9"/>
<text x="26.1" y="343.1" font-size="8.4" text-anchor="end" textLength="10.9" lengthAdjust="spacingAndGlyphs" fill="#222">0.2</text>
<line x1="30.00" y1="324.40" x2="34.60" y2="324.40" stroke="#777" stroke-width="0.9"/>
<text x="26.1" y="327.1" font-size="8.4" text-anchor="end" textLength="10.9" lengthAdjust="spacingAndGlyphs" fill="#222">0.4</text>
<line x1="30.00" y1="308.40" x2="34.60" y2="308.40" stroke="#777" stroke-width="0.9"/>
<text x="26.1" y="311.1" font-size="8.4" text-anchor="end" textLength="10.9" lengthAdjust="spacingAndGlyphs" fill="#222">0.6</text>
<line x1="30.00" y1="292.40" x2="34.60" y2="292.40" stroke="#777" stroke-width="0.9"/>
<text x="26.1" y="295.1" font-size="8.4" text-anchor="end" textLength="10.9" lengthAdjust="spacingAndGlyphs" fill="#222">0.8</text>
<line x1="30.00" y1="276.40" x2="34.60" y2="276.40" stroke="#777" stroke-width="0.9"/>
<text x="26.1" y="279.1" font-size="8.4" text-anchor="end" textLength="10.0" lengthAdjust="spacingAndGlyphs" fill="#222">1.0</text>
<line x1="30.00" y1="260.40" x2="34.60" y2="260.40" stroke="#777" stroke-width="0.9"/>
<text x="26.1" y="263.1" font-size="8.4" text-anchor="end" textLength="9.2" lengthAdjust="spacingAndGlyphs" fill="#222">1.2</text>
<line x1="46.00" y1="356.40" x2="46.00" y2="360.60" stroke="#aaa" stroke-width="0.8"/>
<line x1="74.40" y1="356.40" x2="74.40" y2="360.60" stroke="#666" stroke-width="0.8"/>
<text x="46.0" y="367.1" font-size="6.5" text-anchor="middle" fill="#666">–</text>
<text x="74.4" y="368.0" font-size="6.8" text-anchor="middle" fill="#222" stroke="#222" stroke-width="0.25">+</text>
<line x1="37.40" y1="371.10" x2="83.00" y2="371.10" stroke="#999" stroke-width="1.0"/>
<text x="59.5" y="381.5" font-size="8.6" text-anchor="middle" textLength="12.6" lengthAdjust="spacingAndGlyphs" fill="#222">WT</text>
<line x1="100.20" y1="356.40" x2="100.20" y2="360.60" stroke="#aaa" stroke-width="0.8"/>
<line x1="128.60" y1="356.40" x2="128.60" y2="360.60" stroke="#666" stroke-width="0.8"/>
<text x="100.2" y="367.1" font-size="6.5" text-anchor="middle" fill="#666">–</text>
<text x="128.6" y="368.0" font-size="6.8" text-anchor="middle" fill="#222" stroke="#222" stroke-width="0.25">+</text>
<line x1="91.60" y1="371.10" x2="137.20" y2="371.10" stroke="#999" stroke-width="1.0"/>
<text x="114.6" y="381.5" font-size="8.6" text-anchor="middle" textLength="27.6" lengthAdjust="spacingAndGlyphs" fill="#222">D486N</text>
<line x1="154.40" y1="356.40" x2="154.40" y2="360.60" stroke="#aaa" stroke-width="0.8"/>
<line x1="182.80" y1="356.40" x2="182.80" y2="360.60" stroke="#666" stroke-width="0.8"/>
<text x="154.4" y="367.1" font-size="6.5" text-anchor="middle" fill="#666">–</text>
<text x="182.8" y="368.0" font-size="6.8" text-anchor="middle" fill="#222" stroke="#222" stroke-width="0.25">+</text>
<line x1="145.80" y1="371.10" x2="191.40" y2="371.10" stroke="#999" stroke-width="1.0"/>
<text x="168.8" y="381.5" font-size="8.6" text-anchor="middle" textLength="26.6" lengthAdjust="spacingAndGlyphs" fill="#222">E487Q</text>
<text x="195.8" y="368.3" font-size="7.8" textLength="24.1" lengthAdjust="spacingAndGlyphs" fill="#222">Foldon</text>
<text x="111.8" y="254.7" font-size="8.7" text-anchor="middle" textLength="51.5" lengthAdjust="spacingAndGlyphs" fill="#222">preF-CR9501</text>
<text x="7.1" y="308.9" font-size="9" text-anchor="middle" textLength="74.0" lengthAdjust="spacingAndGlyphs" transform="rotate(-90 7.1 308.9)" fill="#222">R-equilibrium (nm)</text>
<rect x="268.7" y="294.8" width="4.8" height="61.6" fill="#bf5b04"/>
<line x1="271.10" y1="294.80" x2="271.10" y2="293.20" stroke="#444" stroke-width="0.7"/>
<line x1="269.50" y1="293.20" x2="272.70" y2="293.20" stroke="#444" stroke-width="0.7"/>
<circle cx="271.8" cy="293.0" r="1.25" fill="#fff" fill-opacity="0.3" stroke="#b0b0b0" stroke-width="0.6"/>
<circle cx="271.2" cy="295.4" r="1.25" fill="#fff" fill-opacity="0.3" stroke="#b0b0b0" stroke-width="0.6"/>
<circle cx="271.5" cy="296.1" r="1.25" fill="#fff" fill-opacity="0.3" stroke="#b0b0b0" stroke-width="0.6"/>
<rect x="275.8" y="296.0" width="4.8" height="60.4" fill="#f07d05"/>
<line x1="278.20" y1="296.00" x2="278.20" y2="293.60" stroke="#444" stroke-width="0.7"/>
<line x1="276.60" y1="293.60" x2="279.80" y2="293.60" stroke="#444" stroke-width="0.7"/>
<circle cx="277.7" cy="293.2" r="1.25" fill="#fff" fill-opacity="0.3" stroke="#b0b0b0" stroke-width="0.6"/>
<circle cx="278.8" cy="296.8" r="1.25" fill="#fff" fill-opacity="0.3" stroke="#b0b0b0" stroke-width="0.6"/>
<circle cx="278.3" cy="297.9" r="1.25" fill="#fff" fill-opacity="0.3" stroke="#b0b0b0" stroke-width="0.6"/>
<rect x="282.9" y="297.2" width="4.8" height="59.2" fill="#ff9f40"/>
<line x1="285.30" y1="297.20" x2="285.30" y2="295.20" stroke="#444" stroke-width="0.7"/>
<line x1="283.70" y1="295.20" x2="286.90" y2="295.20" stroke="#444" stroke-width="0.7"/>
<circle cx="284.9" cy="294.9" r="1.25" fill="#fff" fill-opacity="0.3" stroke="#b0b0b0" stroke-width="0.6"/>
<circle cx="284.5" cy="297.9" r="1.25" fill="#fff" fill-opacity="0.3" stroke="#b0b0b0" stroke-width="0.6"/>
<circle cx="285.9" cy="298.8" r="1.25" fill="#fff" fill-opacity="0.3" stroke="#b0b0b0" stroke-width="0.6"/>
<rect x="297.1" y="280.4" width="4.8" height="76.0" fill="#04506a"/>
<line x1="299.50" y1="280.40" x2="299.50" y2="277.20" stroke="#444" stroke-width="0.7"/>
<line x1="297.90" y1="277.20" x2="301.10" y2="277.20" stroke="#444" stroke-width="0.7"/>
<circle cx="300.4" cy="276.7" r="1.25" fill="#fff" fill-opacity="0.3" stroke="#b0b0b0" stroke-width="0.6"/>
<circle cx="298.8" cy="281.5" r="1.25" fill="#fff" fill-opacity="0.3" stroke="#b0b0b0" stroke-width="0.6"/>
<circle cx="300.0" cy="283.0" r="1.25" fill="#fff" fill-opacity="0.3" stroke="#b0b0b0" stroke-width="0.6"/>
<rect x="304.2" y="354.8" width="4.8" height="1.6" fill="#0b7f99"/>
<circle cx="306.4" cy="353.7" r="1.25" fill="#fff" fill-opacity="0.3" stroke="#b0b0b0" stroke-width="0.6"/>
<circle cx="306.0" cy="355.1" r="1.25" fill="#fff" fill-opacity="0.3" stroke="#b0b0b0" stroke-width="0.6"/>
<circle cx="306.2" cy="355.6" r="1.25" fill="#fff" fill-opacity="0.3" stroke="#b0b0b0" stroke-width="0.6"/>
<rect x="311.3" y="353.2" width="4.8" height="3.2" fill="#129ab5"/>
<line x1="313.70" y1="353.20" x2="313.70" y2="351.20" stroke="#444" stroke-width="0.7"/>
<line x1="312.10" y1="351.20" x2="315.30" y2="351.20" stroke="#444" stroke-width="0.7"/>
<circle cx="314.2" cy="350.9" r="1.25" fill="#fff" fill-opacity="0.3" stroke="#b0b0b0" stroke-width="0.6"/>
<circle cx="314.4" cy="353.9" r="1.25" fill="#fff" fill-opacity="0.3" stroke="#b0b0b0" stroke-width="0.6"/>
<circle cx="312.9" cy="354.8" r="1.25" fill="#fff" fill-opacity="0.3" stroke="#b0b0b0" stroke-width="0.6"/>
<rect x="322.9" y="302.0" width="4.8" height="54.4" fill="#bf5b04"/>
<line x1="325.30" y1="302.00" x2="325.30" y2="295.60" stroke="#444" stroke-width="0.7"/>
<line x1="323.70" y1="295.60" x2="326.90" y2="295.60" stroke="#444" stroke-width="0.7"/>
<circle cx="325.5" cy="294.6" r="1.25" fill="#fff" fill-opacity="0.3" stroke="#b0b0b0" stroke-width="0.6"/>
<circle cx="324.5" cy="304.2" r="1.25" fill="#fff" fill-opacity="0.3" stroke="#b0b0b0" stroke-width="0.6"/>
<circle cx="325.7" cy="307.1" r="1.25" fill="#fff" fill-opacity="0.3" stroke="#b0b0b0" stroke-width="0.6"/>
<rect x="330.0" y="303.2" width="4.8" height="53.2" fill="#f07d05"/>
<line x1="332.40" y1="303.20" x2="332.40" y2="295.20" stroke="#444" stroke-width="0.7"/>
<line x1="330.80" y1="295.20" x2="334.00" y2="295.20" stroke="#444" stroke-width="0.7"/>
<circle cx="332.1" cy="294.0" r="1.25" fill="#fff" fill-opacity="0.3" stroke="#b0b0b0" stroke-width="0.6"/>
<circle cx="333.1" cy="306.0" r="1.25" fill="#fff" fill-opacity="0.3" stroke="#b0b0b0" stroke-width="0.6"/>
<circle cx="333.3" cy="309.6" r="1.25" fill="#fff" fill-opacity="0.3" stroke="#b0b0b0" stroke-width="0.6"/>
<rect x="337.1" y="303.2" width="4.8" height="53.2" fill="#ff9f40"/>
<line x1="339.50" y1="303.20" x2="339.50" y2="297.60" stroke="#444" stroke-width="0.7"/>
<line x1="337.90" y1="297.60" x2="341.10" y2="297.60" stroke="#444" stroke-width="0.7"/>
<circle cx="339.5" cy="296.8" r="1.25" fill="#fff" fill-opacity="0.3" stroke="#b0b0b0" stroke-width="0.6"/>
<circle cx="340.4" cy="305.2" r="1.25" fill="#fff" fill-opacity="0.3" stroke="#b0b0b0" stroke-width="0.6"/>
<circle cx="339.2" cy="307.7" r="1.25" fill="#fff" fill-opacity="0.3" stroke="#b0b0b0" stroke-width="0.6"/>
<rect x="351.3" y="274.0" width="4.8" height="82.4" fill="#04506a"/>
<line x1="353.70" y1="274.00" x2="353.70" y2="270.00" stroke="#444" stroke-width="0.7"/>
<line x1="352.10" y1="270.00" x2="355.30" y2="270.00" stroke="#444" stroke-width="0.7"/>
<circle cx="352.9" cy="269.4" r="1.25" fill="#fff" fill-opacity="0.3" stroke="#b0b0b0" stroke-width="0.6"/>
<circle cx="353.9" cy="275.4" r="1.25" fill="#fff" fill-opacity="0.3" stroke="#b0b0b0" stroke-width="0.6"/>
<circle cx="352.9" cy="277.2" r="1.25" fill="#fff" fill-opacity="0.3" stroke="#b0b0b0" stroke-width="0.6"/>
<rect x="358.4" y="334.0" width="4.8" height="22.4" fill="#0b7f99"/>
<line x1="360.80" y1="334.00" x2="360.80" y2="314.00" stroke="#444" stroke-width="0.7"/>
<line x1="359.20" y1="314.00" x2="362.40" y2="314.00" stroke="#444" stroke-width="0.7"/>
<circle cx="360.3" cy="305.2" r="1.25" fill="#fff" fill-opacity="0.3" stroke="#b0b0b0" stroke-width="0.6"/>
<circle cx="360.7" cy="340.4" r="1.25" fill="#fff" fill-opacity="0.3" stroke="#b0b0b0" stroke-width="0.6"/>
<circle cx="361.0" cy="350.8" r="1.25" fill="#fff" fill-opacity="0.3" stroke="#b0b0b0" stroke-width="0.6"/>
<rect x="365.5" y="349.2" width="4.8" height="7.2" fill="#129ab5"/>
<line x1="367.90" y1="349.20" x2="367.90" y2="344.40" stroke="#444" stroke-width="0.7"/>
<line x1="366.30" y1="344.40" x2="369.50" y2="344.40" stroke="#444" stroke-width="0.7"/>
<circle cx="367.3" cy="343.7" r="1.25" fill="#fff" fill-opacity="0.3" stroke="#b0b0b0" stroke-width="0.6"/>
<circle cx="367.1" cy="350.9" r="1.25" fill="#fff" fill-opacity="0.3" stroke="#b0b0b0" stroke-width="0.6"/>
<circle cx="368.6" cy="353.0" r="1.25" fill="#fff" fill-opacity="0.3" stroke="#b0b0b0" stroke-width="0.6"/>
<rect x="377.1" y="309.6" width="4.8" height="46.8" fill="#bf5b04"/>
<line x1="379.50" y1="309.60" x2="379.50" y2="302.40" stroke="#444" stroke-width="0.7"/>
<line x1="377.90" y1="302.40" x2="381.10" y2="302.40" stroke="#444" stroke-width="0.7"/>
<circle cx="379.2" cy="301.3" r="1.25" fill="#fff" fill-opacity="0.3" stroke="#b0b0b0" stroke-width="0.6"/>
<circle cx="380.3" cy="312.1" r="1.25" fill="#fff" fill-opacity="0.3" stroke="#b0b0b0" stroke-width="0.6"/>
<circle cx="380.2" cy="315.4" r="1.25" fill="#fff" fill-opacity="0.3" stroke="#b0b0b0" stroke-width="0.6"/>
<rect x="384.2" y="309.6" width="4.8" height="46.8" fill="#f07d05"/>
<line x1="386.60" y1="309.60" x2="386.60" y2="302.40" stroke="#444" stroke-width="0.7"/>
<line x1="385.00" y1="302.40" x2="388.20" y2="302.40" stroke="#444" stroke-width="0.7"/>
<circle cx="386.4" cy="301.3" r="1.25" fill="#fff" fill-opacity="0.3" stroke="#b0b0b0" stroke-width="0.6"/>
<circle cx="386.5" cy="312.1" r="1.25" fill="#fff" fill-opacity="0.3" stroke="#b0b0b0" stroke-width="0.6"/>
<circle cx="386.6" cy="315.4" r="1.25" fill="#fff" fill-opacity="0.3" stroke="#b0b0b0" stroke-width="0.6"/>
<rect x="391.3" y="311.2" width="4.8" height="45.2" fill="#ff9f40"/>
<line x1="393.70" y1="311.20" x2="393.70" y2="304.00" stroke="#444" stroke-width="0.7"/>
<line x1="392.10" y1="304.00" x2="395.30" y2="304.00" stroke="#444" stroke-width="0.7"/>
<circle cx="394.0" cy="302.9" r="1.25" fill="#fff" fill-opacity="0.3" stroke="#b0b0b0" stroke-width="0.6"/>
<circle cx="393.9" cy="313.7" r="1.25" fill="#fff" fill-opacity="0.3" stroke="#b0b0b0" stroke-width="0.6"/>
<circle cx="393.8" cy="317.0" r="1.25" fill="#fff" fill-opacity="0.3" stroke="#b0b0b0" stroke-width="0.6"/>
<rect x="405.5" y="279.6" width="4.8" height="76.8" fill="#04506a"/>
<line x1="407.90" y1="279.60" x2="407.90" y2="276.40" stroke="#444" stroke-width="0.7"/>
<line x1="406.30" y1="276.40" x2="409.50" y2="276.40" stroke="#444" stroke-width="0.7"/>
<circle cx="408.1" cy="275.9" r="1.25" fill="#fff" fill-opacity="0.3" stroke="#b0b0b0" stroke-width="0.6"/>
<circle cx="408.7" cy="280.7" r="1.25" fill="#fff" fill-opacity="0.3" stroke="#b0b0b0" stroke-width="0.6"/>
<circle cx="407.9" cy="282.2" r="1.25" fill="#fff" fill-opacity="0.3" stroke="#b0b0b0" stroke-width="0.6"/>
<rect x="412.6" y="322.8" width="4.8" height="33.6" fill="#0b7f99"/>
<line x1="415.00" y1="322.80" x2="415.00" y2="315.60" stroke="#444" stroke-width="0.7"/>
<line x1="413.40" y1="315.60" x2="416.60" y2="315.60" stroke="#444" stroke-width="0.7"/>
<circle cx="414.9" cy="314.5" r="1.25" fill="#fff" fill-opacity="0.3" stroke="#b0b0b0" stroke-width="0.6"/>
<circle cx="415.4" cy="325.3" r="1.25" fill="#fff" fill-opacity="0.3" stroke="#b0b0b0" stroke-width="0.6"/>
<circle cx="414.5" cy="328.6" r="1.25" fill="#fff" fill-opacity="0.3" stroke="#b0b0b0" stroke-width="0.6"/>
<rect x="419.7" y="353.2" width="4.8" height="3.2" fill="#129ab5"/>
<line x1="422.10" y1="353.20" x2="422.10" y2="351.20" stroke="#444" stroke-width="0.7"/>
<line x1="420.50" y1="351.20" x2="423.70" y2="351.20" stroke="#444" stroke-width="0.7"/>
<circle cx="421.7" cy="350.9" r="1.25" fill="#fff" fill-opacity="0.3" stroke="#b0b0b0" stroke-width="0.6"/>
<circle cx="423.0" cy="353.9" r="1.25" fill="#fff" fill-opacity="0.3" stroke="#b0b0b0" stroke-width="0.6"/>
<circle cx="422.1" cy="354.8" r="1.25" fill="#fff" fill-opacity="0.3" stroke="#b0b0b0" stroke-width="0.6"/>
<line x1="266.40" y1="259.95" x2="266.40" y2="356.85" stroke="#555" stroke-width="0.9"/>
<line x1="266.40" y1="356.40" x2="427.00" y2="356.40" stroke="#555" stroke-width="0.9"/>
<line x1="261.80" y1="356.40" x2="266.40" y2="356.40" stroke="#777" stroke-width="0.9"/>
<text x="257.9" y="359.1" font-size="8.4" text-anchor="end" textLength="4.7" lengthAdjust="spacingAndGlyphs" fill="#222">0</text>
<line x1="261.80" y1="340.40" x2="266.40" y2="340.40" stroke="#777" stroke-width="0.9"/>
<text x="257.9" y="343.1" font-size="8.4" text-anchor="end" textLength="10.9" lengthAdjust="spacingAndGlyphs" fill="#222">0.2</text>
<line x1="261.80" y1="324.40" x2="266.40" y2="324.40" stroke="#777" stroke-width="0.9"/>
<text x="257.9" y="327.1" font-size="8.4" text-anchor="end" textLength="10.9" lengthAdjust="spacingAndGlyphs" fill="#222">0.4</text>
<line x1="261.80" y1="308.40" x2="266.40" y2="308.40" stroke="#777" stroke-width="0.9"/>
<text x="257.9" y="311.1" font-size="8.4" text-anchor="end" textLength="10.9" lengthAdjust="spacingAndGlyphs" fill="#222">0.6</text>
<line x1="261.80" y1="292.40" x2="266.40" y2="292.40" stroke="#777" stroke-width="0.9"/>
<text x="257.9" y="295.1" font-size="8.4" text-anchor="end" textLength="10.9" lengthAdjust="spacingAndGlyphs" fill="#222">0.8</text>
<line x1="261.80" y1="276.40" x2="266.40" y2="276.40" stroke="#777" stroke-width="0.9"/>
<text x="257.9" y="279.1" font-size="8.4" text-anchor="end" textLength="10.0" lengthAdjust="spacingAndGlyphs" fill="#222">1.0</text>
<line x1="261.80" y1="260.40" x2="266.40" y2="260.40" stroke="#777" stroke-width="0.9"/>
<text x="257.9" y="263.1" font-size="8.4" text-anchor="end" textLength="9.2" lengthAdjust="spacingAndGlyphs" fill="#222">1.2</text>
<line x1="278.30" y1="356.40" x2="278.30" y2="360.60" stroke="#aaa" stroke-width="0.8"/>
<line x1="306.70" y1="356.40" x2="306.70" y2="360.60" stroke="#666" stroke-width="0.8"/>
<text x="278.3" y="367.1" font-size="6.5" text-anchor="middle" fill="#666">–</text>
<text x="306.7" y="368.0" font-size="6.8" text-anchor="middle" fill="#222" stroke="#222" stroke-width="0.25">+</text>
<line x1="269.70" y1="371.10" x2="315.30" y2="371.10" stroke="#999" stroke-width="1.0"/>
<text x="291.8" y="381.5" font-size="8.6" text-anchor="middle" textLength="12.6" lengthAdjust="spacingAndGlyphs" fill="#222">WT</text>
<line x1="332.50" y1="356.40" x2="332.50" y2="360.60" stroke="#aaa" stroke-width="0.8"/>
<line x1="360.90" y1="356.40" x2="360.90" y2="360.60" stroke="#666" stroke-width="0.8"/>
<text x="332.5" y="367.1" font-size="6.5" text-anchor="middle" fill="#666">–</text>
<text x="360.9" y="368.0" font-size="6.8" text-anchor="middle" fill="#222" stroke="#222" stroke-width="0.25">+</text>
<line x1="323.90" y1="371.10" x2="369.50" y2="371.10" stroke="#999" stroke-width="1.0"/>
<text x="346.9" y="381.5" font-size="8.6" text-anchor="middle" textLength="27.6" lengthAdjust="spacingAndGlyphs" fill="#222">D486N</text>
<line x1="386.70" y1="356.40" x2="386.70" y2="360.60" stroke="#aaa" stroke-width="0.8"/>
<line x1="415.10" y1="356.40" x2="415.10" y2="360.60" stroke="#666" stroke-width="0.8"/>
<text x="386.7" y="367.1" font-size="6.5" text-anchor="middle" fill="#666">–</text>
<text x="415.1" y="368.0" font-size="6.8" text-anchor="middle" fill="#222" stroke="#222" stroke-width="0.25">+</text>
<line x1="378.10" y1="371.10" x2="423.70" y2="371.10" stroke="#999" stroke-width="1.0"/>
<text x="401.1" y="381.5" font-size="8.6" text-anchor="middle" textLength="26.6" lengthAdjust="spacingAndGlyphs" fill="#222">E487Q</text>
<text x="427.6" y="368.3" font-size="7.8" textLength="24.1" lengthAdjust="spacingAndGlyphs" fill="#222">Foldon</text>
<text x="344.0" y="254.7" font-size="8.7" text-anchor="middle" textLength="48.3" lengthAdjust="spacingAndGlyphs" fill="#222">preF-RSV90</text>
<text x="238.9" y="308.9" font-size="9" text-anchor="middle" textLength="74.0" lengthAdjust="spacingAndGlyphs" transform="rotate(-90 238.9 308.9)" fill="#222">R-equilibrium (nm)</text>
<rect x="499.5" y="328.0" width="4.8" height="28.4" fill="#bf5b04"/>
<line x1="501.90" y1="328.00" x2="501.90" y2="324.00" stroke="#444" stroke-width="0.7"/>
<line x1="500.30" y1="324.00" x2="503.50" y2="324.00" stroke="#444" stroke-width="0.7"/>
<circle cx="502.0" cy="323.4" r="1.25" fill="#fff" fill-opacity="0.3" stroke="#b0b0b0" stroke-width="0.6"/>
<circle cx="501.0" cy="329.4" r="1.25" fill="#fff" fill-opacity="0.3" stroke="#b0b0b0" stroke-width="0.6"/>
<circle cx="501.7" cy="331.2" r="1.25" fill="#fff" fill-opacity="0.3" stroke="#b0b0b0" stroke-width="0.6"/>
<rect x="506.6" y="330.4" width="4.8" height="26.0" fill="#f07d05"/>
<line x1="509.00" y1="330.40" x2="509.00" y2="328.80" stroke="#444" stroke-width="0.7"/>
<line x1="507.40" y1="328.80" x2="510.60" y2="328.80" stroke="#444" stroke-width="0.7"/>
<circle cx="509.1" cy="328.6" r="1.25" fill="#fff" fill-opacity="0.3" stroke="#b0b0b0" stroke-width="0.6"/>
<circle cx="508.1" cy="331.0" r="1.25" fill="#fff" fill-opacity="0.3" stroke="#b0b0b0" stroke-width="0.6"/>
<circle cx="509.2" cy="331.7" r="1.25" fill="#fff" fill-opacity="0.3" stroke="#b0b0b0" stroke-width="0.6"/>
<rect x="513.7" y="330.8" width="4.8" height="25.6" fill="#ff9f40"/>
<line x1="516.10" y1="330.80" x2="516.10" y2="328.00" stroke="#444" stroke-width="0.7"/>
<line x1="514.50" y1="328.00" x2="517.70" y2="328.00" stroke="#444" stroke-width="0.7"/>
<circle cx="516.3" cy="327.6" r="1.25" fill="#fff" fill-opacity="0.3" stroke="#b0b0b0" stroke-width="0.6"/>
<circle cx="515.3" cy="331.8" r="1.25" fill="#fff" fill-opacity="0.3" stroke="#b0b0b0" stroke-width="0.6"/>
<circle cx="516.3" cy="333.0" r="1.25" fill="#fff" fill-opacity="0.3" stroke="#b0b0b0" stroke-width="0.6"/>
<rect x="527.9" y="291.2" width="4.8" height="65.2" fill="#04506a"/>
<line x1="530.30" y1="291.20" x2="530.30" y2="287.60" stroke="#444" stroke-width="0.7"/>
<line x1="528.70" y1="287.60" x2="531.90" y2="287.60" stroke="#444" stroke-width="0.7"/>
<circle cx="530.2" cy="287.1" r="1.25" fill="#fff" fill-opacity="0.3" stroke="#b0b0b0" stroke-width="0.6"/>
<circle cx="530.6" cy="292.5" r="1.25" fill="#fff" fill-opacity="0.3" stroke="#b0b0b0" stroke-width="0.6"/>
<circle cx="530.0" cy="294.1" r="1.25" fill="#fff" fill-opacity="0.3" stroke="#b0b0b0" stroke-width="0.6"/>
<rect x="535.0" y="354.8" width="4.8" height="1.6" fill="#0b7f99"/>
<circle cx="537.8" cy="353.7" r="1.25" fill="#fff" fill-opacity="0.3" stroke="#b0b0b0" stroke-width="0.6"/>
<circle cx="537.8" cy="355.1" r="1.25" fill="#fff" fill-opacity="0.3" stroke="#b0b0b0" stroke-width="0.6"/>
<circle cx="536.5" cy="355.6" r="1.25" fill="#fff" fill-opacity="0.3" stroke="#b0b0b0" stroke-width="0.6"/>
<rect x="542.1" y="355.4" width="4.8" height="1.0" fill="#129ab5"/>
<circle cx="543.7" cy="355.4" r="1.25" fill="#fff" fill-opacity="0.3" stroke="#b0b0b0" stroke-width="0.6"/>
<circle cx="544.8" cy="355.4" r="1.25" fill="#fff" fill-opacity="0.3" stroke="#b0b0b0" stroke-width="0.6"/>
<circle cx="545.3" cy="355.4" r="1.25" fill="#fff" fill-opacity="0.3" stroke="#b0b0b0" stroke-width="0.6"/>
<rect x="553.7" y="333.6" width="4.8" height="22.8" fill="#bf5b04"/>
<line x1="556.10" y1="333.60" x2="556.10" y2="328.80" stroke="#444" stroke-width="0.7"/>
<line x1="554.50" y1="328.80" x2="557.70" y2="328.80" stroke="#444" stroke-width="0.7"/>
<circle cx="555.7" cy="328.1" r="1.25" fill="#fff" fill-opacity="0.3" stroke="#b0b0b0" stroke-width="0.6"/>
<circle cx="556.0" cy="335.3" r="1.25" fill="#fff" fill-opacity="0.3" stroke="#b0b0b0" stroke-width="0.6"/>
<circle cx="556.3" cy="337.4" r="1.25" fill="#fff" fill-opacity="0.3" stroke="#b0b0b0" stroke-width="0.6"/>
<rect x="560.8" y="336.8" width="4.8" height="19.6" fill="#f07d05"/>
<line x1="563.20" y1="336.80" x2="563.20" y2="331.20" stroke="#444" stroke-width="0.7"/>
<line x1="561.60" y1="331.20" x2="564.80" y2="331.20" stroke="#444" stroke-width="0.7"/>
<circle cx="562.9" cy="330.4" r="1.25" fill="#fff" fill-opacity="0.3" stroke="#b0b0b0" stroke-width="0.6"/>
<circle cx="563.0" cy="338.8" r="1.25" fill="#fff" fill-opacity="0.3" stroke="#b0b0b0" stroke-width="0.6"/>
<circle cx="562.9" cy="341.3" r="1.25" fill="#fff" fill-opacity="0.3" stroke="#b0b0b0" stroke-width="0.6"/>
<rect x="567.9" y="337.2" width="4.8" height="19.2" fill="#ff9f40"/>
<line x1="570.30" y1="337.20" x2="570.30" y2="332.80" stroke="#444" stroke-width="0.7"/>
<line x1="568.70" y1="332.80" x2="571.90" y2="332.80" stroke="#444" stroke-width="0.7"/>
<circle cx="570.1" cy="332.1" r="1.25" fill="#fff" fill-opacity="0.3" stroke="#b0b0b0" stroke-width="0.6"/>
<circle cx="570.5" cy="338.7" r="1.25" fill="#fff" fill-opacity="0.3" stroke="#b0b0b0" stroke-width="0.6"/>
<circle cx="569.9" cy="340.7" r="1.25" fill="#fff" fill-opacity="0.3" stroke="#b0b0b0" stroke-width="0.6"/>
<rect x="582.1" y="283.2" width="4.8" height="73.2" fill="#04506a"/>
<line x1="584.50" y1="283.20" x2="584.50" y2="280.80" stroke="#444" stroke-width="0.7"/>
<line x1="582.90" y1="280.80" x2="586.10" y2="280.80" stroke="#444" stroke-width="0.7"/>
<circle cx="584.3" cy="280.4" r="1.25" fill="#fff" fill-opacity="0.3" stroke="#b0b0b0" stroke-width="0.6"/>
<circle cx="585.0" cy="284.0" r="1.25" fill="#fff" fill-opacity="0.3" stroke="#b0b0b0" stroke-width="0.6"/>
<circle cx="583.6" cy="285.1" r="1.25" fill="#fff" fill-opacity="0.3" stroke="#b0b0b0" stroke-width="0.6"/>
<rect x="589.2" y="338.8" width="4.8" height="17.6" fill="#0b7f99"/>
<line x1="591.60" y1="338.80" x2="591.60" y2="324.40" stroke="#444" stroke-width="0.7"/>
<line x1="590.00" y1="324.40" x2="593.20" y2="324.40" stroke="#444" stroke-width="0.7"/>
<circle cx="591.7" cy="318.8" r="1.25" fill="#fff" fill-opacity="0.3" stroke="#b0b0b0" stroke-width="0.6"/>
<circle cx="592.0" cy="338.8" r="1.25" fill="#fff" fill-opacity="0.3" stroke="#b0b0b0" stroke-width="0.6"/>
<circle cx="591.3" cy="346.8" r="1.25" fill="#fff" fill-opacity="0.3" stroke="#b0b0b0" stroke-width="0.6"/>
<circle cx="591.2" cy="350.8" r="1.25" fill="#fff" fill-opacity="0.3" stroke="#b0b0b0" stroke-width="0.6"/>
<rect x="596.3" y="348.4" width="4.8" height="8.0" fill="#129ab5"/>
<line x1="598.70" y1="348.40" x2="598.70" y2="345.20" stroke="#444" stroke-width="0.7"/>
<line x1="597.10" y1="345.20" x2="600.30" y2="345.20" stroke="#444" stroke-width="0.7"/>
<circle cx="599.2" cy="344.7" r="1.25" fill="#fff" fill-opacity="0.3" stroke="#b0b0b0" stroke-width="0.6"/>
<circle cx="598.2" cy="349.5" r="1.25" fill="#fff" fill-opacity="0.3" stroke="#b0b0b0" stroke-width="0.6"/>
<circle cx="598.1" cy="351.0" r="1.25" fill="#fff" fill-opacity="0.3" stroke="#b0b0b0" stroke-width="0.6"/>
<rect x="607.9" y="338.8" width="4.8" height="17.6" fill="#bf5b04"/>
<line x1="610.30" y1="338.80" x2="610.30" y2="333.20" stroke="#444" stroke-width="0.7"/>
<line x1="608.70" y1="333.20" x2="611.90" y2="333.20" stroke="#444" stroke-width="0.7"/>
<circle cx="610.2" cy="332.4" r="1.25" fill="#fff" fill-opacity="0.3" stroke="#b0b0b0" stroke-width="0.6"/>
<circle cx="610.7" cy="340.8" r="1.25" fill="#fff" fill-opacity="0.3" stroke="#b0b0b0" stroke-width="0.6"/>
<circle cx="609.6" cy="343.3" r="1.25" fill="#fff" fill-opacity="0.3" stroke="#b0b0b0" stroke-width="0.6"/>
<rect x="615.0" y="341.2" width="4.8" height="15.2" fill="#f07d05"/>
<line x1="617.40" y1="341.20" x2="617.40" y2="337.60" stroke="#444" stroke-width="0.7"/>
<line x1="615.80" y1="337.60" x2="619.00" y2="337.60" stroke="#444" stroke-width="0.7"/>
<circle cx="617.1" cy="337.1" r="1.25" fill="#fff" fill-opacity="0.3" stroke="#b0b0b0" stroke-width="0.6"/>
<circle cx="617.1" cy="342.5" r="1.25" fill="#fff" fill-opacity="0.3" stroke="#b0b0b0" stroke-width="0.6"/>
<circle cx="618.0" cy="344.1" r="1.25" fill="#fff" fill-opacity="0.3" stroke="#b0b0b0" stroke-width="0.6"/>
<rect x="622.1" y="342.0" width="4.8" height="14.4" fill="#ff9f40"/>
<line x1="624.50" y1="342.00" x2="624.50" y2="338.40" stroke="#444" stroke-width="0.7"/>
<line x1="622.90" y1="338.40" x2="626.10" y2="338.40" stroke="#444" stroke-width="0.7"/>
<circle cx="624.4" cy="337.9" r="1.25" fill="#fff" fill-opacity="0.3" stroke="#b0b0b0" stroke-width="0.6"/>
<circle cx="625.1" cy="343.3" r="1.25" fill="#fff" fill-opacity="0.3" stroke="#b0b0b0" stroke-width="0.6"/>
<circle cx="623.9" cy="344.9" r="1.25" fill="#fff" fill-opacity="0.3" stroke="#b0b0b0" stroke-width="0.6"/>
<rect x="636.3" y="286.4" width="4.8" height="70.0" fill="#04506a"/>
<line x1="638.70" y1="286.40" x2="638.70" y2="284.00" stroke="#444" stroke-width="0.7"/>
<line x1="637.10" y1="284.00" x2="640.30" y2="284.00" stroke="#444" stroke-width="0.7"/>
<circle cx="638.4" cy="283.6" r="1.25" fill="#fff" fill-opacity="0.3" stroke="#b0b0b0" stroke-width="0.6"/>
<circle cx="639.0" cy="287.2" r="1.25" fill="#fff" fill-opacity="0.3" stroke="#b0b0b0" stroke-width="0.6"/>
<circle cx="639.4" cy="288.3" r="1.25" fill="#fff" fill-opacity="0.3" stroke="#b0b0b0" stroke-width="0.6"/>
<rect x="643.4" y="331.6" width="4.8" height="24.8" fill="#0b7f99"/>
<line x1="645.80" y1="331.60" x2="645.80" y2="327.20" stroke="#444" stroke-width="0.7"/>
<line x1="644.20" y1="327.20" x2="647.40" y2="327.20" stroke="#444" stroke-width="0.7"/>
<circle cx="645.7" cy="326.5" r="1.25" fill="#fff" fill-opacity="0.3" stroke="#b0b0b0" stroke-width="0.6"/>
<circle cx="645.3" cy="333.1" r="1.25" fill="#fff" fill-opacity="0.3" stroke="#b0b0b0" stroke-width="0.6"/>
<circle cx="645.1" cy="335.1" r="1.25" fill="#fff" fill-opacity="0.3" stroke="#b0b0b0" stroke-width="0.6"/>
<rect x="650.5" y="354.8" width="4.8" height="1.6" fill="#129ab5"/>
<line x1="652.90" y1="354.80" x2="652.90" y2="353.20" stroke="#444" stroke-width="0.7"/>
<line x1="651.30" y1="353.20" x2="654.50" y2="353.20" stroke="#444" stroke-width="0.7"/>
<circle cx="653.0" cy="353.0" r="1.25" fill="#fff" fill-opacity="0.3" stroke="#b0b0b0" stroke-width="0.6"/>
<circle cx="652.3" cy="355.4" r="1.25" fill="#fff" fill-opacity="0.3" stroke="#b0b0b0" stroke-width="0.6"/>
<circle cx="653.5" cy="356.1" r="1.25" fill="#fff" fill-opacity="0.3" stroke="#b0b0b0" stroke-width="0.6"/>
<line x1="497.70" y1="259.95" x2="497.70" y2="356.85" stroke="#555" stroke-width="0.9"/>
<line x1="497.70" y1="356.40" x2="658.30" y2="356.40" stroke="#555" stroke-width="0.9"/>
<line x1="493.10" y1="356.40" x2="497.70" y2="356.40" stroke="#777" stroke-width="0.9"/>
<text x="489.2" y="359.1" font-size="8.4" text-anchor="end" textLength="4.7" lengthAdjust="spacingAndGlyphs" fill="#222">0</text>
<line x1="493.10" y1="340.40" x2="497.70" y2="340.40" stroke="#777" stroke-width="0.9"/>
<text x="489.2" y="343.1" font-size="8.4" text-anchor="end" textLength="10.9" lengthAdjust="spacingAndGlyphs" fill="#222">0.2</text>
<line x1="493.10" y1="324.40" x2="497.70" y2="324.40" stroke="#777" stroke-width="0.9"/>
<text x="489.2" y="327.1" font-size="8.4" text-anchor="end" textLength="10.9" lengthAdjust="spacingAndGlyphs" fill="#222">0.4</text>
<line x1="493.10" y1="308.40" x2="497.70" y2="308.40" stroke="#777" stroke-width="0.9"/>
<text x="489.2" y="311.1" font-size="8.4" text-anchor="end" textLength="10.9" lengthAdjust="spacingAndGlyphs" fill="#222">0.6</text>
<line x1="493.10" y1="292.40" x2="497.70" y2="292.40" stroke="#777" stroke-width="0.9"/>
<text x="489.2" y="295.1" font-size="8.4" text-anchor="end" textLength="10.9" lengthAdjust="spacingAndGlyphs" fill="#222">0.8</text>
<line x1="493.10" y1="276.40" x2="497.70" y2="276.40" stroke="#777" stroke-width="0.9"/>
<text x="489.2" y="279.1" font-size="8.4" text-anchor="end" textLength="10.0" lengthAdjust="spacingAndGlyphs" fill="#222">1.0</text>
<line x1="493.10" y1="260.40" x2="497.70" y2="260.40" stroke="#777" stroke-width="0.9"/>
<text x="489.2" y="263.1" font-size="8.4" text-anchor="end" textLength="9.2" lengthAdjust="spacingAndGlyphs" fill="#222">1.2</text>
<line x1="509.10" y1="356.40" x2="509.10" y2="360.60" stroke="#aaa" stroke-width="0.8"/>
<line x1="537.50" y1="356.40" x2="537.50" y2="360.60" stroke="#666" stroke-width="0.8"/>
<text x="509.1" y="367.1" font-size="6.5" text-anchor="middle" fill="#666">–</text>
<text x="537.5" y="368.0" font-size="6.8" text-anchor="middle" fill="#222" stroke="#222" stroke-width="0.25">+</text>
<line x1="500.50" y1="371.10" x2="546.10" y2="371.10" stroke="#999" stroke-width="1.0"/>
<text x="522.6" y="381.5" font-size="8.6" text-anchor="middle" textLength="12.6" lengthAdjust="spacingAndGlyphs" fill="#222">WT</text>
<line x1="563.30" y1="356.40" x2="563.30" y2="360.60" stroke="#aaa" stroke-width="0.8"/>
<line x1="591.70" y1="356.40" x2="591.70" y2="360.60" stroke="#666" stroke-width="0.8"/>
<text x="563.3" y="367.1" font-size="6.5" text-anchor="middle" fill="#666">–</text>
<text x="591.7" y="368.0" font-size="6.8" text-anchor="middle" fill="#222" stroke="#222" stroke-width="0.25">+</text>
<line x1="554.70" y1="371.10" x2="600.30" y2="371.10" stroke="#999" stroke-width="1.0"/>
<text x="577.7" y="381.5" font-size="8.6" text-anchor="middle" textLength="27.6" lengthAdjust="spacingAndGlyphs" fill="#222">D486N</text>
<line x1="617.50" y1="356.40" x2="617.50" y2="360.60" stroke="#aaa" stroke-width="0.8"/>
<line x1="645.90" y1="356.40" x2="645.90" y2="360.60" stroke="#666" stroke-width="0.8"/>
<text x="617.5" y="367.1" font-size="6.5" text-anchor="middle" fill="#666">–</text>
<text x="645.9" y="368.0" font-size="6.8" text-anchor="middle" fill="#222" stroke="#222" stroke-width="0.25">+</text>
<line x1="608.90" y1="371.10" x2="654.50" y2="371.10" stroke="#999" stroke-width="1.0"/>
<text x="631.9" y="381.5" font-size="8.6" text-anchor="middle" textLength="26.6" lengthAdjust="spacingAndGlyphs" fill="#222">E487Q</text>
<text x="658.9" y="368.3" font-size="7.8" textLength="24.1" lengthAdjust="spacingAndGlyphs" fill="#222">Foldon</text>
<text x="573.0" y="254.7" font-size="8.7" text-anchor="middle" textLength="56.5" lengthAdjust="spacingAndGlyphs" fill="#222">preF-RSD5-GL</text>
<text x="470.2" y="308.9" font-size="9" text-anchor="middle" textLength="74.0" lengthAdjust="spacingAndGlyphs" transform="rotate(-90 470.2 308.9)" fill="#222">R-equilibrium (nm)</text>
<rect x="36.4" y="497.8" width="4.8" height="5.6" fill="#bf5b04"/>
<line x1="38.80" y1="497.80" x2="38.80" y2="495.40" stroke="#444" stroke-width="0.7"/>
<line x1="37.20" y1="495.40" x2="40.40" y2="495.40" stroke="#444" stroke-width="0.7"/>
<circle cx="39.4" cy="495.0" r="1.25" fill="#fff" fill-opacity="0.3" stroke="#b0b0b0" stroke-width="0.6"/>
<circle cx="38.2" cy="498.6" r="1.25" fill="#fff" fill-opacity="0.3" stroke="#b0b0b0" stroke-width="0.6"/>
<circle cx="38.4" cy="499.7" r="1.25" fill="#fff" fill-opacity="0.3" stroke="#b0b0b0" stroke-width="0.6"/>
<rect x="43.5" y="497.0" width="4.8" height="6.4" fill="#f07d05"/>
<line x1="45.90" y1="497.00" x2="45.90" y2="494.60" stroke="#444" stroke-width="0.7"/>
<line x1="44.30" y1="494.60" x2="47.50" y2="494.60" stroke="#444" stroke-width="0.7"/>
<circle cx="46.5" cy="494.2" r="1.25" fill="#fff" fill-opacity="0.3" stroke="#b0b0b0" stroke-width="0.6"/>
<circle cx="46.2" cy="497.8" r="1.25" fill="#fff" fill-opacity="0.3" stroke="#b0b0b0" stroke-width="0.6"/>
<circle cx="46.5" cy="498.9" r="1.25" fill="#fff" fill-opacity="0.3" stroke="#b0b0b0" stroke-width="0.6"/>
<rect x="50.6" y="495.4" width="4.8" height="8.0" fill="#ff9f40"/>
<line x1="53.00" y1="495.40" x2="53.00" y2="494.20" stroke="#444" stroke-width="0.7"/>
<line x1="51.40" y1="494.20" x2="54.60" y2="494.20" stroke="#444" stroke-width="0.7"/>
<circle cx="52.7" cy="494.0" r="1.25" fill="#fff" fill-opacity="0.3" stroke="#b0b0b0" stroke-width="0.6"/>
<circle cx="52.3" cy="495.8" r="1.25" fill="#fff" fill-opacity="0.3" stroke="#b0b0b0" stroke-width="0.6"/>
<circle cx="52.6" cy="496.4" r="1.25" fill="#fff" fill-opacity="0.3" stroke="#b0b0b0" stroke-width="0.6"/>
<rect x="64.8" y="470.6" width="4.8" height="32.8" fill="#04506a"/>
<line x1="67.20" y1="470.60" x2="67.20" y2="445.80" stroke="#444" stroke-width="0.7"/>
<line x1="65.60" y1="445.80" x2="68.80" y2="445.80" stroke="#444" stroke-width="0.7"/>
<circle cx="67.7" cy="435.4" r="1.25" fill="#fff" fill-opacity="0.3" stroke="#b0b0b0" stroke-width="0.6"/>
<circle cx="66.8" cy="469.8" r="1.25" fill="#fff" fill-opacity="0.3" stroke="#b0b0b0" stroke-width="0.6"/>
<circle cx="67.0" cy="487.4" r="1.25" fill="#fff" fill-opacity="0.3" stroke="#b0b0b0" stroke-width="0.6"/>
<circle cx="67.1" cy="488.2" r="1.25" fill="#fff" fill-opacity="0.3" stroke="#b0b0b0" stroke-width="0.6"/>
<rect x="71.9" y="452.2" width="4.8" height="51.2" fill="#0b7f99"/>
<line x1="74.30" y1="452.20" x2="74.30" y2="450.60" stroke="#444" stroke-width="0.7"/>
<line x1="72.70" y1="450.60" x2="75.90" y2="450.60" stroke="#444" stroke-width="0.7"/>
<circle cx="74.2" cy="450.4" r="1.25" fill="#fff" fill-opacity="0.3" stroke="#b0b0b0" stroke-width="0.6"/>
<circle cx="74.1" cy="452.8" r="1.25" fill="#fff" fill-opacity="0.3" stroke="#b0b0b0" stroke-width="0.6"/>
<circle cx="75.1" cy="453.5" r="1.25" fill="#fff" fill-opacity="0.3" stroke="#b0b0b0" stroke-width="0.6"/>
<rect x="79.0" y="453.0" width="4.8" height="50.4" fill="#129ab5"/>
<line x1="81.40" y1="453.00" x2="81.40" y2="450.60" stroke="#444" stroke-width="0.7"/>
<line x1="79.80" y1="450.60" x2="83.00" y2="450.60" stroke="#444" stroke-width="0.7"/>
<circle cx="80.8" cy="450.2" r="1.25" fill="#fff" fill-opacity="0.3" stroke="#b0b0b0" stroke-width="0.6"/>
<circle cx="80.5" cy="453.8" r="1.25" fill="#fff" fill-opacity="0.3" stroke="#b0b0b0" stroke-width="0.6"/>
<circle cx="82.2" cy="454.9" r="1.25" fill="#fff" fill-opacity="0.3" stroke="#b0b0b0" stroke-width="0.6"/>
<rect x="90.6" y="493.0" width="4.8" height="10.4" fill="#bf5b04"/>
<line x1="93.00" y1="493.00" x2="93.00" y2="486.60" stroke="#444" stroke-width="0.7"/>
<line x1="91.40" y1="486.60" x2="94.60" y2="486.60" stroke="#444" stroke-width="0.7"/>
<circle cx="93.7" cy="485.6" r="1.25" fill="#fff" fill-opacity="0.3" stroke="#b0b0b0" stroke-width="0.6"/>
<circle cx="93.9" cy="495.2" r="1.25" fill="#fff" fill-opacity="0.3" stroke="#b0b0b0" stroke-width="0.6"/>
<circle cx="92.9" cy="498.1" r="1.25" fill="#fff" fill-opacity="0.3" stroke="#b0b0b0" stroke-width="0.6"/>
<rect x="97.7" y="493.0" width="4.8" height="10.4" fill="#f07d05"/>
<line x1="100.10" y1="493.00" x2="100.10" y2="489.80" stroke="#444" stroke-width="0.7"/>
<line x1="98.50" y1="489.80" x2="101.70" y2="489.80" stroke="#444" stroke-width="0.7"/>
<circle cx="100.9" cy="489.3" r="1.25" fill="#fff" fill-opacity="0.3" stroke="#b0b0b0" stroke-width="0.6"/>
<circle cx="100.9" cy="494.1" r="1.25" fill="#fff" fill-opacity="0.3" stroke="#b0b0b0" stroke-width="0.6"/>
<circle cx="99.6" cy="495.6" r="1.25" fill="#fff" fill-opacity="0.3" stroke="#b0b0b0" stroke-width="0.6"/>
<rect x="104.8" y="492.2" width="4.8" height="11.2" fill="#ff9f40"/>
<line x1="107.20" y1="492.20" x2="107.20" y2="488.20" stroke="#444" stroke-width="0.7"/>
<line x1="105.60" y1="488.20" x2="108.80" y2="488.20" stroke="#444" stroke-width="0.7"/>
<circle cx="107.6" cy="487.6" r="1.25" fill="#fff" fill-opacity="0.3" stroke="#b0b0b0" stroke-width="0.6"/>
<circle cx="107.8" cy="493.6" r="1.25" fill="#fff" fill-opacity="0.3" stroke="#b0b0b0" stroke-width="0.6"/>
<circle cx="107.5" cy="495.4" r="1.25" fill="#fff" fill-opacity="0.3" stroke="#b0b0b0" stroke-width="0.6"/>
<rect x="119.0" y="483.4" width="4.8" height="20.0" fill="#04506a"/>
<line x1="121.40" y1="483.40" x2="121.40" y2="468.20" stroke="#444" stroke-width="0.7"/>
<line x1="119.80" y1="468.20" x2="123.00" y2="468.20" stroke="#444" stroke-width="0.7"/>
<circle cx="121.4" cy="461.8" r="1.25" fill="#fff" fill-opacity="0.3" stroke="#b0b0b0" stroke-width="0.6"/>
<circle cx="121.1" cy="483.4" r="1.25" fill="#fff" fill-opacity="0.3" stroke="#b0b0b0" stroke-width="0.6"/>
<circle cx="121.1" cy="489.8" r="1.25" fill="#fff" fill-opacity="0.3" stroke="#b0b0b0" stroke-width="0.6"/>
<circle cx="121.0" cy="495.4" r="1.25" fill="#fff" fill-opacity="0.3" stroke="#b0b0b0" stroke-width="0.6"/>
<rect x="126.1" y="441.0" width="4.8" height="62.4" fill="#0b7f99"/>
<line x1="128.50" y1="441.00" x2="128.50" y2="432.20" stroke="#444" stroke-width="0.7"/>
<line x1="126.90" y1="432.20" x2="130.10" y2="432.20" stroke="#444" stroke-width="0.7"/>
<circle cx="127.7" cy="430.9" r="1.25" fill="#fff" fill-opacity="0.3" stroke="#b0b0b0" stroke-width="0.6"/>
<circle cx="128.7" cy="444.1" r="1.25" fill="#fff" fill-opacity="0.3" stroke="#b0b0b0" stroke-width="0.6"/>
<circle cx="128.1" cy="448.0" r="1.25" fill="#fff" fill-opacity="0.3" stroke="#b0b0b0" stroke-width="0.6"/>
<rect x="133.2" y="440.2" width="4.8" height="63.2" fill="#129ab5"/>
<line x1="135.60" y1="440.20" x2="135.60" y2="433.00" stroke="#444" stroke-width="0.7"/>
<line x1="134.00" y1="433.00" x2="137.20" y2="433.00" stroke="#444" stroke-width="0.7"/>
<circle cx="136.2" cy="431.9" r="1.25" fill="#fff" fill-opacity="0.3" stroke="#b0b0b0" stroke-width="0.6"/>
<circle cx="134.8" cy="442.7" r="1.25" fill="#fff" fill-opacity="0.3" stroke="#b0b0b0" stroke-width="0.6"/>
<circle cx="136.3" cy="446.0" r="1.25" fill="#fff" fill-opacity="0.3" stroke="#b0b0b0" stroke-width="0.6"/>
<rect x="144.8" y="497.0" width="4.8" height="6.4" fill="#bf5b04"/>
<line x1="147.20" y1="497.00" x2="147.20" y2="494.60" stroke="#444" stroke-width="0.7"/>
<line x1="145.60" y1="494.60" x2="148.80" y2="494.60" stroke="#444" stroke-width="0.7"/>
<circle cx="147.5" cy="494.2" r="1.25" fill="#fff" fill-opacity="0.3" stroke="#b0b0b0" stroke-width="0.6"/>
<circle cx="148.0" cy="497.8" r="1.25" fill="#fff" fill-opacity="0.3" stroke="#b0b0b0" stroke-width="0.6"/>
<circle cx="147.9" cy="498.9" r="1.25" fill="#fff" fill-opacity="0.3" stroke="#b0b0b0" stroke-width="0.6"/>
<rect x="151.9" y="496.2" width="4.8" height="7.2" fill="#f07d05"/>
<line x1="154.30" y1="496.20" x2="154.30" y2="493.40" stroke="#444" stroke-width="0.7"/>
<line x1="152.70" y1="493.40" x2="155.90" y2="493.40" stroke="#444" stroke-width="0.7"/>
<circle cx="155.0" cy="493.0" r="1.25" fill="#fff" fill-opacity="0.3" stroke="#b0b0b0" stroke-width="0.6"/>
<circle cx="154.4" cy="497.2" r="1.25" fill="#fff" fill-opacity="0.3" stroke="#b0b0b0" stroke-width="0.6"/>
<circle cx="153.4" cy="498.4" r="1.25" fill="#fff" fill-opacity="0.3" stroke="#b0b0b0" stroke-width="0.6"/>
<rect x="159.0" y="494.6" width="4.8" height="8.8" fill="#ff9f40"/>
<line x1="161.40" y1="494.60" x2="161.40" y2="491.00" stroke="#444" stroke-width="0.7"/>
<line x1="159.80" y1="491.00" x2="163.00" y2="491.00" stroke="#444" stroke-width="0.7"/>
<circle cx="161.8" cy="490.5" r="1.25" fill="#fff" fill-opacity="0.3" stroke="#b0b0b0" stroke-width="0.6"/>
<circle cx="160.8" cy="495.9" r="1.25" fill="#fff" fill-opacity="0.3" stroke="#b0b0b0" stroke-width="0.6"/>
<circle cx="161.0" cy="497.5" r="1.25" fill="#fff" fill-opacity="0.3" stroke="#b0b0b0" stroke-width="0.6"/>
<rect x="173.2" y="489.0" width="4.8" height="14.4" fill="#04506a"/>
<line x1="175.60" y1="489.00" x2="175.60" y2="473.00" stroke="#444" stroke-width="0.7"/>
<line x1="174.00" y1="473.00" x2="177.20" y2="473.00" stroke="#444" stroke-width="0.7"/>
<circle cx="175.9" cy="466.6" r="1.25" fill="#fff" fill-opacity="0.3" stroke="#b0b0b0" stroke-width="0.6"/>
<circle cx="175.6" cy="494.6" r="1.25" fill="#fff" fill-opacity="0.3" stroke="#b0b0b0" stroke-width="0.6"/>
<circle cx="175.5" cy="497.0" r="1.25" fill="#fff" fill-opacity="0.3" stroke="#b0b0b0" stroke-width="0.6"/>
<circle cx="176.3" cy="497.8" r="1.25" fill="#fff" fill-opacity="0.3" stroke="#b0b0b0" stroke-width="0.6"/>
<rect x="180.3" y="448.2" width="4.8" height="55.2" fill="#0b7f99"/>
<line x1="182.70" y1="448.20" x2="182.70" y2="445.00" stroke="#444" stroke-width="0.7"/>
<line x1="181.10" y1="445.00" x2="184.30" y2="445.00" stroke="#444" stroke-width="0.7"/>
<circle cx="182.9" cy="444.5" r="1.25" fill="#fff" fill-opacity="0.3" stroke="#b0b0b0" stroke-width="0.6"/>
<circle cx="182.4" cy="449.3" r="1.25" fill="#fff" fill-opacity="0.3" stroke="#b0b0b0" stroke-width="0.6"/>
<circle cx="182.3" cy="450.8" r="1.25" fill="#fff" fill-opacity="0.3" stroke="#b0b0b0" stroke-width="0.6"/>
<rect x="187.4" y="446.6" width="4.8" height="56.8" fill="#129ab5"/>
<line x1="189.80" y1="446.60" x2="189.80" y2="444.20" stroke="#444" stroke-width="0.7"/>
<line x1="188.20" y1="444.20" x2="191.40" y2="444.20" stroke="#444" stroke-width="0.7"/>
<circle cx="190.5" cy="443.8" r="1.25" fill="#fff" fill-opacity="0.3" stroke="#b0b0b0" stroke-width="0.6"/>
<circle cx="189.8" cy="447.4" r="1.25" fill="#fff" fill-opacity="0.3" stroke="#b0b0b0" stroke-width="0.6"/>
<circle cx="190.3" cy="448.5" r="1.25" fill="#fff" fill-opacity="0.3" stroke="#b0b0b0" stroke-width="0.6"/>
<line x1="34.60" y1="406.95" x2="34.60" y2="503.85" stroke="#555" stroke-width="0.9"/>
<line x1="34.60" y1="503.40" x2="195.20" y2="503.40" stroke="#555" stroke-width="0.9"/>
<line x1="30.00" y1="503.40" x2="34.60" y2="503.40" stroke="#777" stroke-width="0.9"/>
<text x="26.1" y="506.1" font-size="8.4" text-anchor="end" textLength="4.7" lengthAdjust="spacingAndGlyphs" fill="#222">0</text>
<line x1="30.00" y1="487.40" x2="34.60" y2="487.40" stroke="#777" stroke-width="0.9"/>
<text x="26.1" y="490.1" font-size="8.4" text-anchor="end" textLength="10.9" lengthAdjust="spacingAndGlyphs" fill="#222">0.2</text>
<line x1="30.00" y1="471.40" x2="34.60" y2="471.40" stroke="#777" stroke-width="0.9"/>
<text x="26.1" y="474.1" font-size="8.4" text-anchor="end" textLength="10.9" lengthAdjust="spacingAndGlyphs" fill="#222">0.4</text>
<line x1="30.00" y1="455.40" x2="34.60" y2="455.40" stroke="#777" stroke-width="0.9"/>
<text x="26.1" y="458.1" font-size="8.4" text-anchor="end" textLength="10.9" lengthAdjust="spacingAndGlyphs" fill="#222">0.6</text>
<line x1="30.00" y1="439.40" x2="34.60" y2="439.40" stroke="#777" stroke-width="0.9"/>
<text x="26.1" y="442.1" font-size="8.4" text-anchor="end" textLength="10.9" lengthAdjust="spacingAndGlyphs" fill="#222">0.8</text>
<line x1="30.00" y1="423.40" x2="34.60" y2="423.40" stroke="#777" stroke-width="0.9"/>
<text x="26.1" y="426.1" font-size="8.4" text-anchor="end" textLength="10.0" lengthAdjust="spacingAndGlyphs" fill="#222">1.0</text>
<line x1="30.00" y1="407.40" x2="34.60" y2="407.40" stroke="#777" stroke-width="0.9"/>
<text x="26.1" y="410.1" font-size="8.4" text-anchor="end" textLength="9.2" lengthAdjust="spacingAndGlyphs" fill="#222">1.2</text>
<line x1="46.00" y1="503.40" x2="46.00" y2="507.60" stroke="#aaa" stroke-width="0.8"/>
<line x1="74.40" y1="503.40" x2="74.40" y2="507.60" stroke="#666" stroke-width="0.8"/>
<text x="46.0" y="514.1" font-size="6.5" text-anchor="middle" fill="#666">–</text>
<text x="74.4" y="515.0" font-size="6.8" text-anchor="middle" fill="#222" stroke="#222" stroke-width="0.25">+</text>
<line x1="37.40" y1="518.10" x2="83.00" y2="518.10" stroke="#999" stroke-width="1.0"/>
<text x="59.5" y="528.5" font-size="8.6" text-anchor="middle" textLength="12.6" lengthAdjust="spacingAndGlyphs" fill="#222">WT</text>
<line x1="100.20" y1="503.40" x2="100.20" y2="507.60" stroke="#aaa" stroke-width="0.8"/>
<line x1="128.60" y1="503.40" x2="128.60" y2="507.60" stroke="#666" stroke-width="0.8"/>
<text x="100.2" y="514.1" font-size="6.5" text-anchor="middle" fill="#666">–</text>
<text x="128.6" y="515.0" font-size="6.8" text-anchor="middle" fill="#222" stroke="#222" stroke-width="0.25">+</text>
<line x1="91.60" y1="518.10" x2="137.20" y2="518.10" stroke="#999" stroke-width="1.0"/>
<text x="114.6" y="528.5" font-size="8.6" text-anchor="middle" textLength="27.6" lengthAdjust="spacingAndGlyphs" fill="#222">D486N</text>
<line x1="154.40" y1="503.40" x2="154.40" y2="507.60" stroke="#aaa" stroke-width="0.8"/>
<line x1="182.80" y1="503.40" x2="182.80" y2="507.60" stroke="#666" stroke-width="0.8"/>
<text x="154.4" y="514.1" font-size="6.5" text-anchor="middle" fill="#666">–</text>
<text x="182.8" y="515.0" font-size="6.8" text-anchor="middle" fill="#222" stroke="#222" stroke-width="0.25">+</text>
<line x1="145.80" y1="518.10" x2="191.40" y2="518.10" stroke="#999" stroke-width="1.0"/>
<text x="168.8" y="528.5" font-size="8.6" text-anchor="middle" textLength="26.6" lengthAdjust="spacingAndGlyphs" fill="#222">E487Q</text>
<text x="195.8" y="515.3" font-size="7.8" textLength="24.1" lengthAdjust="spacingAndGlyphs" fill="#222">Foldon</text>
<text x="114.3" y="402.7" font-size="8.7" text-anchor="middle" textLength="65.3" lengthAdjust="spacingAndGlyphs" fill="#222">postF-ADI-15644</text>
<text x="7.1" y="455.9" font-size="9" text-anchor="middle" textLength="74.0" lengthAdjust="spacingAndGlyphs" transform="rotate(-90 7.1 455.9)" fill="#222">R-equilibrium (nm)</text>
<rect x="268.7" y="447.2" width="4.8" height="56.2" fill="#bf5b04"/>
<line x1="271.10" y1="447.24" x2="271.10" y2="443.40" stroke="#444" stroke-width="0.7"/>
<line x1="269.50" y1="443.40" x2="272.70" y2="443.40" stroke="#444" stroke-width="0.7"/>
<circle cx="270.8" cy="442.8" r="1.25" fill="#fff" fill-opacity="0.3" stroke="#b0b0b0" stroke-width="0.6"/>
<circle cx="270.6" cy="448.6" r="1.25" fill="#fff" fill-opacity="0.3" stroke="#b0b0b0" stroke-width="0.6"/>
<circle cx="271.2" cy="450.3" r="1.25" fill="#fff" fill-opacity="0.3" stroke="#b0b0b0" stroke-width="0.6"/>
<rect x="275.8" y="442.4" width="4.8" height="61.0" fill="#f07d05"/>
<line x1="278.20" y1="442.44" x2="278.20" y2="440.04" stroke="#444" stroke-width="0.7"/>
<line x1="276.60" y1="440.04" x2="279.80" y2="440.04" stroke="#444" stroke-width="0.7"/>
<circle cx="278.8" cy="439.7" r="1.25" fill="#fff" fill-opacity="0.3" stroke="#b0b0b0" stroke-width="0.6"/>
<circle cx="277.6" cy="443.3" r="1.25" fill="#fff" fill-opacity="0.3" stroke="#b0b0b0" stroke-width="0.6"/>
<circle cx="278.7" cy="444.4" r="1.25" fill="#fff" fill-opacity="0.3" stroke="#b0b0b0" stroke-width="0.6"/>
<rect x="282.9" y="445.8" width="4.8" height="57.6" fill="#ff9f40"/>
<line x1="285.30" y1="445.80" x2="285.30" y2="442.92" stroke="#444" stroke-width="0.7"/>
<line x1="283.70" y1="442.92" x2="286.90" y2="442.92" stroke="#444" stroke-width="0.7"/>
<circle cx="286.1" cy="442.5" r="1.25" fill="#fff" fill-opacity="0.3" stroke="#b0b0b0" stroke-width="0.6"/>
<circle cx="285.9" cy="446.8" r="1.25" fill="#fff" fill-opacity="0.3" stroke="#b0b0b0" stroke-width="0.6"/>
<circle cx="285.9" cy="448.1" r="1.25" fill="#fff" fill-opacity="0.3" stroke="#b0b0b0" stroke-width="0.6"/>
<rect x="297.1" y="439.1" width="4.8" height="64.3" fill="#04506a"/>
<line x1="299.50" y1="439.08" x2="299.50" y2="436.20" stroke="#444" stroke-width="0.7"/>
<line x1="297.90" y1="436.20" x2="301.10" y2="436.20" stroke="#444" stroke-width="0.7"/>
<circle cx="298.6" cy="435.8" r="1.25" fill="#fff" fill-opacity="0.3" stroke="#b0b0b0" stroke-width="0.6"/>
<circle cx="299.7" cy="440.1" r="1.25" fill="#fff" fill-opacity="0.3" stroke="#b0b0b0" stroke-width="0.6"/>
<circle cx="300.2" cy="441.4" r="1.25" fill="#fff" fill-opacity="0.3" stroke="#b0b0b0" stroke-width="0.6"/>
<rect x="304.2" y="437.2" width="4.8" height="66.2" fill="#0b7f99"/>
<line x1="306.60" y1="437.16" x2="306.60" y2="435.24" stroke="#444" stroke-width="0.7"/>
<line x1="305.00" y1="435.24" x2="308.20" y2="435.24" stroke="#444" stroke-width="0.7"/>
<circle cx="305.8" cy="435.0" r="1.25" fill="#fff" fill-opacity="0.3" stroke="#b0b0b0" stroke-width="0.6"/>
<circle cx="306.2" cy="437.8" r="1.25" fill="#fff" fill-opacity="0.3" stroke="#b0b0b0" stroke-width="0.6"/>
<circle cx="306.2" cy="438.7" r="1.25" fill="#fff" fill-opacity="0.3" stroke="#b0b0b0" stroke-width="0.6"/>
<rect x="311.3" y="442.4" width="4.8" height="61.0" fill="#129ab5"/>
<line x1="313.70" y1="442.44" x2="313.70" y2="437.16" stroke="#444" stroke-width="0.7"/>
<line x1="312.10" y1="437.16" x2="315.30" y2="437.16" stroke="#444" stroke-width="0.7"/>
<circle cx="313.7" cy="436.4" r="1.25" fill="#fff" fill-opacity="0.3" stroke="#b0b0b0" stroke-width="0.6"/>
<circle cx="313.6" cy="444.3" r="1.25" fill="#fff" fill-opacity="0.3" stroke="#b0b0b0" stroke-width="0.6"/>
<circle cx="313.7" cy="446.7" r="1.25" fill="#fff" fill-opacity="0.3" stroke="#b0b0b0" stroke-width="0.6"/>
<rect x="322.9" y="450.6" width="4.8" height="52.8" fill="#bf5b04"/>
<line x1="325.30" y1="450.60" x2="325.30" y2="443.40" stroke="#444" stroke-width="0.7"/>
<line x1="323.70" y1="443.40" x2="326.90" y2="443.40" stroke="#444" stroke-width="0.7"/>
<circle cx="325.8" cy="442.3" r="1.25" fill="#fff" fill-opacity="0.3" stroke="#b0b0b0" stroke-width="0.6"/>
<circle cx="324.4" cy="453.1" r="1.25" fill="#fff" fill-opacity="0.3" stroke="#b0b0b0" stroke-width="0.6"/>
<circle cx="324.5" cy="456.4" r="1.25" fill="#fff" fill-opacity="0.3" stroke="#b0b0b0" stroke-width="0.6"/>
<rect x="330.0" y="447.7" width="4.8" height="55.7" fill="#f07d05"/>
<line x1="332.40" y1="447.72" x2="332.40" y2="441.96" stroke="#444" stroke-width="0.7"/>
<line x1="330.80" y1="441.96" x2="334.00" y2="441.96" stroke="#444" stroke-width="0.7"/>
<circle cx="331.7" cy="441.1" r="1.25" fill="#fff" fill-opacity="0.3" stroke="#b0b0b0" stroke-width="0.6"/>
<circle cx="331.7" cy="449.7" r="1.25" fill="#fff" fill-opacity="0.3" stroke="#b0b0b0" stroke-width="0.6"/>
<circle cx="331.6" cy="452.3" r="1.25" fill="#fff" fill-opacity="0.3" stroke="#b0b0b0" stroke-width="0.6"/>
<rect x="337.1" y="452.0" width="4.8" height="51.4" fill="#ff9f40"/>
<line x1="339.50" y1="452.04" x2="339.50" y2="447.72" stroke="#444" stroke-width="0.7"/>
<line x1="337.90" y1="447.72" x2="341.10" y2="447.72" stroke="#444" stroke-width="0.7"/>
<circle cx="340.4" cy="447.1" r="1.25" fill="#fff" fill-opacity="0.3" stroke="#b0b0b0" stroke-width="0.6"/>
<circle cx="340.1" cy="453.6" r="1.25" fill="#fff" fill-opacity="0.3" stroke="#b0b0b0" stroke-width="0.6"/>
<circle cx="338.8" cy="455.5" r="1.25" fill="#fff" fill-opacity="0.3" stroke="#b0b0b0" stroke-width="0.6"/>
<rect x="351.3" y="430.4" width="4.8" height="73.0" fill="#04506a"/>
<line x1="353.70" y1="430.44" x2="353.70" y2="429.00" stroke="#444" stroke-width="0.7"/>
<line x1="352.10" y1="429.00" x2="355.30" y2="429.00" stroke="#444" stroke-width="0.7"/>
<circle cx="353.7" cy="428.8" r="1.25" fill="#fff" fill-opacity="0.3" stroke="#b0b0b0" stroke-width="0.6"/>
<circle cx="353.4" cy="430.9" r="1.25" fill="#fff" fill-opacity="0.3" stroke="#b0b0b0" stroke-width="0.6"/>
<circle cx="353.4" cy="431.6" r="1.25" fill="#fff" fill-opacity="0.3" stroke="#b0b0b0" stroke-width="0.6"/>
<rect x="358.4" y="429.0" width="4.8" height="74.4" fill="#0b7f99"/>
<line x1="360.80" y1="429.00" x2="360.80" y2="427.08" stroke="#444" stroke-width="0.7"/>
<line x1="359.20" y1="427.08" x2="362.40" y2="427.08" stroke="#444" stroke-width="0.7"/>
<circle cx="360.5" cy="426.8" r="1.25" fill="#fff" fill-opacity="0.3" stroke="#b0b0b0" stroke-width="0.6"/>
<circle cx="361.1" cy="429.7" r="1.25" fill="#fff" fill-opacity="0.3" stroke="#b0b0b0" stroke-width="0.6"/>
<circle cx="361.0" cy="430.5" r="1.25" fill="#fff" fill-opacity="0.3" stroke="#b0b0b0" stroke-width="0.6"/>
<rect x="365.5" y="430.9" width="4.8" height="72.5" fill="#129ab5"/>
<line x1="367.90" y1="430.92" x2="367.90" y2="427.56" stroke="#444" stroke-width="0.7"/>
<line x1="366.30" y1="427.56" x2="369.50" y2="427.56" stroke="#444" stroke-width="0.7"/>
<circle cx="367.6" cy="427.1" r="1.25" fill="#fff" fill-opacity="0.3" stroke="#b0b0b0" stroke-width="0.6"/>
<circle cx="367.3" cy="432.1" r="1.25" fill="#fff" fill-opacity="0.3" stroke="#b0b0b0" stroke-width="0.6"/>
<circle cx="367.6" cy="433.6" r="1.25" fill="#fff" fill-opacity="0.3" stroke="#b0b0b0" stroke-width="0.6"/>
<rect x="377.1" y="460.2" width="4.8" height="43.2" fill="#bf5b04"/>
<line x1="379.50" y1="460.20" x2="379.50" y2="453.00" stroke="#444" stroke-width="0.7"/>
<line x1="377.90" y1="453.00" x2="381.10" y2="453.00" stroke="#444" stroke-width="0.7"/>
<circle cx="378.8" cy="451.9" r="1.25" fill="#fff" fill-opacity="0.3" stroke="#b0b0b0" stroke-width="0.6"/>
<circle cx="379.6" cy="462.7" r="1.25" fill="#fff" fill-opacity="0.3" stroke="#b0b0b0" stroke-width="0.6"/>
<circle cx="379.9" cy="466.0" r="1.25" fill="#fff" fill-opacity="0.3" stroke="#b0b0b0" stroke-width="0.6"/>
<rect x="384.2" y="454.0" width="4.8" height="49.4" fill="#f07d05"/>
<line x1="386.60" y1="453.96" x2="386.60" y2="448.20" stroke="#444" stroke-width="0.7"/>
<line x1="385.00" y1="448.20" x2="388.20" y2="448.20" stroke="#444" stroke-width="0.7"/>
<circle cx="386.4" cy="447.3" r="1.25" fill="#fff" fill-opacity="0.3" stroke="#b0b0b0" stroke-width="0.6"/>
<circle cx="385.8" cy="456.0" r="1.25" fill="#fff" fill-opacity="0.3" stroke="#b0b0b0" stroke-width="0.6"/>
<circle cx="386.0" cy="458.6" r="1.25" fill="#fff" fill-opacity="0.3" stroke="#b0b0b0" stroke-width="0.6"/>
<rect x="391.3" y="457.8" width="4.8" height="45.6" fill="#ff9f40"/>
<line x1="393.70" y1="457.80" x2="393.70" y2="452.52" stroke="#444" stroke-width="0.7"/>
<line x1="392.10" y1="452.52" x2="395.30" y2="452.52" stroke="#444" stroke-width="0.7"/>
<circle cx="393.5" cy="451.7" r="1.25" fill="#fff" fill-opacity="0.3" stroke="#b0b0b0" stroke-width="0.6"/>
<circle cx="393.9" cy="459.6" r="1.25" fill="#fff" fill-opacity="0.3" stroke="#b0b0b0" stroke-width="0.6"/>
<circle cx="394.2" cy="462.0" r="1.25" fill="#fff" fill-opacity="0.3" stroke="#b0b0b0" stroke-width="0.6"/>
<rect x="405.5" y="432.8" width="4.8" height="70.6" fill="#04506a"/>
<line x1="407.90" y1="432.84" x2="407.90" y2="430.92" stroke="#444" stroke-width="0.7"/>
<line x1="406.30" y1="430.92" x2="409.50" y2="430.92" stroke="#444" stroke-width="0.7"/>
<circle cx="407.7" cy="430.6" r="1.25" fill="#fff" fill-opacity="0.3" stroke="#b0b0b0" stroke-width="0.6"/>
<circle cx="408.4" cy="433.5" r="1.25" fill="#fff" fill-opacity="0.3" stroke="#b0b0b0" stroke-width="0.6"/>
<circle cx="408.1" cy="434.4" r="1.25" fill="#fff" fill-opacity="0.3" stroke="#b0b0b0" stroke-width="0.6"/>
<rect x="412.6" y="429.0" width="4.8" height="74.4" fill="#0b7f99"/>
<line x1="415.00" y1="429.00" x2="415.00" y2="427.08" stroke="#444" stroke-width="0.7"/>
<line x1="413.40" y1="427.08" x2="416.60" y2="427.08" stroke="#444" stroke-width="0.7"/>
<circle cx="414.9" cy="426.8" r="1.25" fill="#fff" fill-opacity="0.3" stroke="#b0b0b0" stroke-width="0.6"/>
<circle cx="414.8" cy="429.7" r="1.25" fill="#fff" fill-opacity="0.3" stroke="#b0b0b0" stroke-width="0.6"/>
<circle cx="415.0" cy="430.5" r="1.25" fill="#fff" fill-opacity="0.3" stroke="#b0b0b0" stroke-width="0.6"/>
<rect x="419.7" y="436.2" width="4.8" height="67.2" fill="#129ab5"/>
<line x1="422.10" y1="436.20" x2="422.10" y2="428.52" stroke="#444" stroke-width="0.7"/>
<line x1="420.50" y1="428.52" x2="423.70" y2="428.52" stroke="#444" stroke-width="0.7"/>
<circle cx="422.5" cy="427.4" r="1.25" fill="#fff" fill-opacity="0.3" stroke="#b0b0b0" stroke-width="0.6"/>
<circle cx="422.0" cy="438.9" r="1.25" fill="#fff" fill-opacity="0.3" stroke="#b0b0b0" stroke-width="0.6"/>
<circle cx="422.4" cy="442.3" r="1.25" fill="#fff" fill-opacity="0.3" stroke="#b0b0b0" stroke-width="0.6"/>
<line x1="266.40" y1="406.95" x2="266.40" y2="503.85" stroke="#555" stroke-width="0.9"/>
<line x1="266.40" y1="503.40" x2="427.00" y2="503.40" stroke="#555" stroke-width="0.9"/>
<line x1="261.80" y1="503.40" x2="266.40" y2="503.40" stroke="#777" stroke-width="0.9"/>
<text x="257.9" y="506.1" font-size="8.4" text-anchor="end" textLength="4.7" lengthAdjust="spacingAndGlyphs" fill="#222">0</text>
<line x1="261.80" y1="479.40" x2="266.40" y2="479.40" stroke="#777" stroke-width="0.9"/>
<text x="257.9" y="482.1" font-size="8.4" text-anchor="end" textLength="10.9" lengthAdjust="spacingAndGlyphs" fill="#222">0.5</text>
<line x1="261.80" y1="455.40" x2="266.40" y2="455.40" stroke="#777" stroke-width="0.9"/>
<text x="257.9" y="458.1" font-size="8.4" text-anchor="end" textLength="10.0" lengthAdjust="spacingAndGlyphs" fill="#222">1.0</text>
<line x1="261.80" y1="431.40" x2="266.40" y2="431.40" stroke="#777" stroke-width="0.9"/>
<text x="257.9" y="434.1" font-size="8.4" text-anchor="end" textLength="9.5" lengthAdjust="spacingAndGlyphs" fill="#222">1.5</text>
<line x1="261.80" y1="407.40" x2="266.40" y2="407.40" stroke="#777" stroke-width="0.9"/>
<text x="257.9" y="410.1" font-size="8.4" text-anchor="end" textLength="10.9" lengthAdjust="spacingAndGlyphs" fill="#222">2.0</text>
<line x1="278.30" y1="503.40" x2="278.30" y2="507.60" stroke="#aaa" stroke-width="0.8"/>
<line x1="306.70" y1="503.40" x2="306.70" y2="507.60" stroke="#666" stroke-width="0.8"/>
<text x="278.3" y="514.1" font-size="6.5" text-anchor="middle" fill="#666">–</text>
<text x="306.7" y="515.0" font-size="6.8" text-anchor="middle" fill="#222" stroke="#222" stroke-width="0.25">+</text>
<line x1="269.70" y1="518.10" x2="315.30" y2="518.10" stroke="#999" stroke-width="1.0"/>
<text x="291.8" y="528.5" font-size="8.6" text-anchor="middle" textLength="12.6" lengthAdjust="spacingAndGlyphs" fill="#222">WT</text>
<line x1="332.50" y1="503.40" x2="332.50" y2="507.60" stroke="#aaa" stroke-width="0.8"/>
<line x1="360.90" y1="503.40" x2="360.90" y2="507.60" stroke="#666" stroke-width="0.8"/>
<text x="332.5" y="514.1" font-size="6.5" text-anchor="middle" fill="#666">–</text>
<text x="360.9" y="515.0" font-size="6.8" text-anchor="middle" fill="#222" stroke="#222" stroke-width="0.25">+</text>
<line x1="323.90" y1="518.10" x2="369.50" y2="518.10" stroke="#999" stroke-width="1.0"/>
<text x="346.9" y="528.5" font-size="8.6" text-anchor="middle" textLength="27.6" lengthAdjust="spacingAndGlyphs" fill="#222">D486N</text>
<line x1="386.70" y1="503.40" x2="386.70" y2="507.60" stroke="#aaa" stroke-width="0.8"/>
<line x1="415.10" y1="503.40" x2="415.10" y2="507.60" stroke="#666" stroke-width="0.8"/>
<text x="386.7" y="514.1" font-size="6.5" text-anchor="middle" fill="#666">–</text>
<text x="415.1" y="515.0" font-size="6.8" text-anchor="middle" fill="#222" stroke="#222" stroke-width="0.25">+</text>
<line x1="378.10" y1="518.10" x2="423.70" y2="518.10" stroke="#999" stroke-width="1.0"/>
<text x="401.1" y="528.5" font-size="8.6" text-anchor="middle" textLength="26.6" lengthAdjust="spacingAndGlyphs" fill="#222">E487Q</text>
<text x="427.6" y="515.3" font-size="7.8" textLength="24.1" lengthAdjust="spacingAndGlyphs" fill="#222">Foldon</text>
<text x="344.4" y="402.7" font-size="8.7" text-anchor="middle" textLength="55.4" lengthAdjust="spacingAndGlyphs" fill="#222">panF-CR9506</text>
<text x="238.9" y="455.9" font-size="9" text-anchor="middle" textLength="74.0" lengthAdjust="spacingAndGlyphs" transform="rotate(-90 238.9 455.9)" fill="#222">R-equilibrium (nm)</text>
<text x="508.2" y="434.4" font-size="7.4" text-anchor="middle" fill="#222">–</text>
<text x="521.3" y="434.4" font-size="7.4" text-anchor="middle" fill="#222">+</text>
<text x="529.1" y="434.6" font-size="8.8" textLength="27.0" lengthAdjust="spacingAndGlyphs" fill="#222">Foldon</text>
<rect x="504.7" y="439.6" width="7.5" height="7.4" fill="#bf5b04"/>
<rect x="517.3" y="439.6" width="7.5" height="7.4" fill="#04506a"/>
<text x="529.1" y="445.5" font-size="8.8" textLength="22.8" lengthAdjust="spacingAndGlyphs" fill="#222">Day 0</text>
<rect x="504.7" y="451.0" width="7.5" height="7.4" fill="#f07d05"/>
<rect x="517.3" y="451.0" width="7.5" height="7.4" fill="#0b7f99"/>
<text x="529.1" y="456.9" font-size="8.8" textLength="22.2" lengthAdjust="spacingAndGlyphs" fill="#222">Day 2</text>
<rect x="504.7" y="462.6" width="7.5" height="7.4" fill="#ff9f40"/>
<rect x="517.3" y="462.6" width="7.5" height="7.4" fill="#129ab5"/>
<text x="529.1" y="468.5" font-size="8.8" textLength="22.6" lengthAdjust="spacingAndGlyphs" fill="#222">Day 4</text>
</svg>
</body>
</html>
